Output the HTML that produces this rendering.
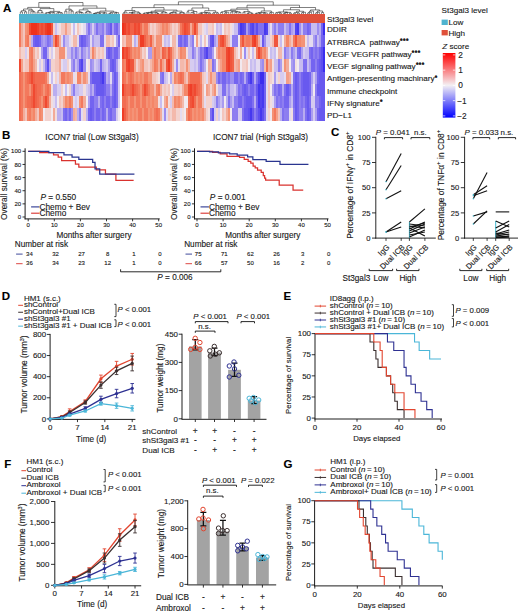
<!DOCTYPE html><html><head><meta charset="utf-8"><style>html,body{margin:0;padding:0;background:#fff;}svg{display:block;} text{stroke:#111;stroke-width:0.12px;paint-order:fill;}</style></head><body><svg width="520" height="613" viewBox="0 0 520 613" font-family='"Liberation Sans", sans-serif'><rect width="520" height="613" fill="#fff"/><g shape-rendering="crispEdges">
<rect x="19.3" y="13.9" width="100.3" height="8.6" fill="#4fb3cf"/>
<rect x="122.0" y="13.9" width="202.6" height="8.6" fill="#e0503a"/>
<rect x="19.30" y="22.50" width="2.05" height="12.30" fill="#f3795d"/>
<rect x="21.31" y="22.50" width="2.05" height="12.30" fill="#f3ac9a"/>
<rect x="23.31" y="22.50" width="2.05" height="12.30" fill="#f3c4bc"/>
<rect x="25.32" y="22.50" width="2.05" height="12.30" fill="#f49276"/>
<rect x="27.32" y="22.50" width="2.05" height="12.30" fill="#f48769"/>
<rect x="29.33" y="22.50" width="2.05" height="12.30" fill="#f04a32"/>
<rect x="31.34" y="22.50" width="2.05" height="12.30" fill="#ee321c"/>
<rect x="33.34" y="22.50" width="2.05" height="12.30" fill="#ee321c"/>
<rect x="35.35" y="22.50" width="2.05" height="12.30" fill="#ee321c"/>
<rect x="37.35" y="22.50" width="2.05" height="12.30" fill="#ef3e27"/>
<rect x="39.36" y="22.50" width="2.05" height="12.30" fill="#f0553c"/>
<rect x="41.37" y="22.50" width="2.05" height="12.30" fill="#f04931"/>
<rect x="43.37" y="22.50" width="2.05" height="12.30" fill="#f0553c"/>
<rect x="45.38" y="22.50" width="2.05" height="12.30" fill="#ef3e27"/>
<rect x="47.38" y="22.50" width="2.05" height="12.30" fill="#ee321c"/>
<rect x="49.39" y="22.50" width="2.05" height="12.30" fill="#ee321c"/>
<rect x="51.40" y="22.50" width="2.05" height="12.30" fill="#f0563d"/>
<rect x="53.40" y="22.50" width="2.05" height="12.30" fill="#f3d1cd"/>
<rect x="55.41" y="22.50" width="2.05" height="12.30" fill="#c8bdf0"/>
<rect x="57.41" y="22.50" width="2.05" height="12.30" fill="#e4dbf0"/>
<rect x="59.42" y="22.50" width="2.05" height="12.30" fill="#f2dedf"/>
<rect x="61.43" y="22.50" width="2.05" height="12.30" fill="#f3c5bd"/>
<rect x="63.43" y="22.50" width="2.05" height="12.30" fill="#f3c4bc"/>
<rect x="65.44" y="22.50" width="2.05" height="12.30" fill="#f49e87"/>
<rect x="67.44" y="22.50" width="2.05" height="12.30" fill="#f3c4bc"/>
<rect x="69.45" y="22.50" width="2.05" height="12.30" fill="#f3c5bd"/>
<rect x="71.46" y="22.50" width="2.05" height="12.30" fill="#f2eaf0"/>
<rect x="73.46" y="22.50" width="2.05" height="12.30" fill="#c8bdf0"/>
<rect x="75.47" y="22.50" width="2.05" height="12.30" fill="#f2eaf0"/>
<rect x="77.47" y="22.50" width="2.05" height="12.30" fill="#f3c5bd"/>
<rect x="79.48" y="22.50" width="2.05" height="12.30" fill="#f2dedf"/>
<rect x="81.49" y="22.50" width="2.05" height="12.30" fill="#f2eaf0"/>
<rect x="83.49" y="22.50" width="2.05" height="12.30" fill="#e4dbf0"/>
<rect x="85.50" y="22.50" width="2.05" height="12.30" fill="#ab9df0"/>
<rect x="87.50" y="22.50" width="2.05" height="12.30" fill="#8070f0"/>
<rect x="89.51" y="22.50" width="2.05" height="12.30" fill="#ab9df0"/>
<rect x="91.52" y="22.50" width="2.05" height="12.30" fill="#d6ccf0"/>
<rect x="93.52" y="22.50" width="2.05" height="12.30" fill="#ab9df0"/>
<rect x="95.53" y="22.50" width="2.05" height="12.30" fill="#8070f0"/>
<rect x="97.53" y="22.50" width="2.05" height="12.30" fill="#9d8ef0"/>
<rect x="99.54" y="22.50" width="2.05" height="12.30" fill="#9d8ef0"/>
<rect x="101.55" y="22.50" width="2.05" height="12.30" fill="#8c7df0"/>
<rect x="103.55" y="22.50" width="2.05" height="12.30" fill="#b8abf0"/>
<rect x="105.56" y="22.50" width="2.05" height="12.30" fill="#8c7df0"/>
<rect x="107.56" y="22.50" width="2.05" height="12.30" fill="#8171f0"/>
<rect x="109.57" y="22.50" width="2.05" height="12.30" fill="#6a5aef"/>
<rect x="111.58" y="22.50" width="2.05" height="12.30" fill="#aa9cf0"/>
<rect x="113.58" y="22.50" width="2.05" height="12.30" fill="#7f6ff0"/>
<rect x="115.59" y="22.50" width="2.05" height="12.30" fill="#7464f0"/>
<rect x="117.59" y="22.50" width="2.05" height="12.30" fill="#9d8ef0"/>
<rect x="122.00" y="22.50" width="2.05" height="12.30" fill="#ee321c"/>
<rect x="124.01" y="22.50" width="2.05" height="12.30" fill="#ef3e27"/>
<rect x="126.01" y="22.50" width="2.05" height="12.30" fill="#f0553c"/>
<rect x="128.02" y="22.50" width="2.05" height="12.30" fill="#f04931"/>
<rect x="130.02" y="22.50" width="2.05" height="12.30" fill="#f16147"/>
<rect x="132.03" y="22.50" width="2.05" height="12.30" fill="#f16147"/>
<rect x="134.04" y="22.50" width="2.05" height="12.30" fill="#f04931"/>
<rect x="136.04" y="22.50" width="2.05" height="12.30" fill="#f0553c"/>
<rect x="138.05" y="22.50" width="2.05" height="12.30" fill="#f04931"/>
<rect x="140.05" y="22.50" width="2.05" height="12.30" fill="#f26d52"/>
<rect x="142.06" y="22.50" width="2.05" height="12.30" fill="#f49377"/>
<rect x="144.07" y="22.50" width="2.05" height="12.30" fill="#f3795d"/>
<rect x="146.07" y="22.50" width="2.05" height="12.30" fill="#f3795d"/>
<rect x="148.08" y="22.50" width="2.05" height="12.30" fill="#f3ac9a"/>
<rect x="150.08" y="22.50" width="2.05" height="12.30" fill="#f3d2ce"/>
<rect x="152.09" y="22.50" width="2.05" height="12.30" fill="#f3c5bd"/>
<rect x="154.10" y="22.50" width="2.05" height="12.30" fill="#f3d2ce"/>
<rect x="156.10" y="22.50" width="2.05" height="12.30" fill="#f3b9ac"/>
<rect x="158.11" y="22.50" width="2.05" height="12.30" fill="#f3ad9c"/>
<rect x="160.11" y="22.50" width="2.05" height="12.30" fill="#f4a089"/>
<rect x="162.12" y="22.50" width="2.05" height="12.30" fill="#f48668"/>
<rect x="164.13" y="22.50" width="2.05" height="12.30" fill="#f49377"/>
<rect x="166.13" y="22.50" width="2.05" height="12.30" fill="#f48668"/>
<rect x="168.14" y="22.50" width="2.05" height="12.30" fill="#f4a089"/>
<rect x="170.14" y="22.50" width="2.05" height="12.30" fill="#f3b9ac"/>
<rect x="172.15" y="22.50" width="2.05" height="12.30" fill="#f3d2ce"/>
<rect x="174.16" y="22.50" width="2.05" height="12.30" fill="#f3c5bd"/>
<rect x="176.16" y="22.50" width="2.05" height="12.30" fill="#f3d2ce"/>
<rect x="178.17" y="22.50" width="2.05" height="12.30" fill="#f3ac9a"/>
<rect x="180.17" y="22.50" width="2.05" height="12.30" fill="#f3795d"/>
<rect x="182.18" y="22.50" width="2.05" height="12.30" fill="#f16147"/>
<rect x="184.19" y="22.50" width="2.05" height="12.30" fill="#f04931"/>
<rect x="186.19" y="22.50" width="2.05" height="12.30" fill="#f0553c"/>
<rect x="188.20" y="22.50" width="2.05" height="12.30" fill="#f16247"/>
<rect x="190.20" y="22.50" width="2.05" height="12.30" fill="#f3ab99"/>
<rect x="192.21" y="22.50" width="2.05" height="12.30" fill="#f3795d"/>
<rect x="194.22" y="22.50" width="2.05" height="12.30" fill="#f04931"/>
<rect x="196.22" y="22.50" width="2.05" height="12.30" fill="#f3795d"/>
<rect x="198.23" y="22.50" width="2.05" height="12.30" fill="#f3c4bc"/>
<rect x="200.23" y="22.50" width="2.05" height="12.30" fill="#f3c5bd"/>
<rect x="202.24" y="22.50" width="2.05" height="12.30" fill="#f2dedf"/>
<rect x="204.25" y="22.50" width="2.05" height="12.30" fill="#e4dbf0"/>
<rect x="206.25" y="22.50" width="2.05" height="12.30" fill="#d6ccf0"/>
<rect x="208.26" y="22.50" width="2.05" height="12.30" fill="#f3d2ce"/>
<rect x="210.26" y="22.50" width="2.05" height="12.30" fill="#f3d2ce"/>
<rect x="212.27" y="22.50" width="2.05" height="12.30" fill="#f3c5bd"/>
<rect x="214.28" y="22.50" width="2.05" height="12.30" fill="#f2eaf0"/>
<rect x="216.28" y="22.50" width="2.05" height="12.30" fill="#c8bdf0"/>
<rect x="218.29" y="22.50" width="2.05" height="12.30" fill="#d6ccf0"/>
<rect x="220.29" y="22.50" width="2.05" height="12.30" fill="#c8bdf0"/>
<rect x="222.30" y="22.50" width="2.05" height="12.30" fill="#f2eaf0"/>
<rect x="224.31" y="22.50" width="2.05" height="12.30" fill="#f3c5bd"/>
<rect x="226.31" y="22.50" width="2.05" height="12.30" fill="#f3d2ce"/>
<rect x="228.32" y="22.50" width="2.05" height="12.30" fill="#f3c5bd"/>
<rect x="230.32" y="22.50" width="2.05" height="12.30" fill="#f2dedf"/>
<rect x="232.33" y="22.50" width="2.05" height="12.30" fill="#e4dbf0"/>
<rect x="234.34" y="22.50" width="2.05" height="12.30" fill="#c8bdf0"/>
<rect x="236.34" y="22.50" width="2.05" height="12.30" fill="#c7bcf0"/>
<rect x="238.35" y="22.50" width="2.05" height="12.30" fill="#7464f0"/>
<rect x="240.35" y="22.50" width="2.05" height="12.30" fill="#4638ef"/>
<rect x="242.36" y="22.50" width="2.05" height="12.30" fill="#5243ef"/>
<rect x="244.37" y="22.50" width="2.05" height="12.30" fill="#5e4fef"/>
<rect x="246.37" y="22.50" width="2.05" height="12.30" fill="#aa9cf0"/>
<rect x="248.38" y="22.50" width="2.05" height="12.30" fill="#7f6ff0"/>
<rect x="250.38" y="22.50" width="2.05" height="12.30" fill="#5d4eef"/>
<rect x="252.39" y="22.50" width="2.05" height="12.30" fill="#5244ef"/>
<rect x="254.40" y="22.50" width="2.05" height="12.30" fill="#7666f0"/>
<rect x="256.40" y="22.50" width="2.05" height="12.30" fill="#5e4fef"/>
<rect x="258.41" y="22.50" width="2.05" height="12.30" fill="#8171f0"/>
<rect x="260.41" y="22.50" width="2.05" height="12.30" fill="#8070f0"/>
<rect x="262.42" y="22.50" width="2.05" height="12.30" fill="#8171f0"/>
<rect x="264.43" y="22.50" width="2.05" height="12.30" fill="#4739ef"/>
<rect x="266.43" y="22.50" width="2.05" height="12.30" fill="#5244ef"/>
<rect x="268.44" y="22.50" width="2.05" height="12.30" fill="#c7bcf0"/>
<rect x="270.44" y="22.50" width="2.05" height="12.30" fill="#e4dbf0"/>
<rect x="272.45" y="22.50" width="2.05" height="12.30" fill="#ab9df0"/>
<rect x="274.46" y="22.50" width="2.05" height="12.30" fill="#8c7df0"/>
<rect x="276.46" y="22.50" width="2.05" height="12.30" fill="#b8abf0"/>
<rect x="278.47" y="22.50" width="2.05" height="12.30" fill="#8c7df0"/>
<rect x="280.47" y="22.50" width="2.05" height="12.30" fill="#8e7ef0"/>
<rect x="282.48" y="22.50" width="2.05" height="12.30" fill="#8c7df0"/>
<rect x="284.49" y="22.50" width="2.05" height="12.30" fill="#c7bcf0"/>
<rect x="286.49" y="22.50" width="2.05" height="12.30" fill="#ab9df0"/>
<rect x="288.50" y="22.50" width="2.05" height="12.30" fill="#8070f0"/>
<rect x="290.50" y="22.50" width="2.05" height="12.30" fill="#ab9df0"/>
<rect x="292.51" y="22.50" width="2.05" height="12.30" fill="#b9adf0"/>
<rect x="294.52" y="22.50" width="2.05" height="12.30" fill="#5244ef"/>
<rect x="296.52" y="22.50" width="2.05" height="12.30" fill="#4739ef"/>
<rect x="298.53" y="22.50" width="2.05" height="12.30" fill="#9d8ef0"/>
<rect x="300.53" y="22.50" width="2.05" height="12.30" fill="#c7bcf0"/>
<rect x="302.54" y="22.50" width="2.05" height="12.30" fill="#8c7df0"/>
<rect x="304.55" y="22.50" width="2.05" height="12.30" fill="#8e7ef0"/>
<rect x="306.55" y="22.50" width="2.05" height="12.30" fill="#7464f0"/>
<rect x="308.56" y="22.50" width="2.05" height="12.30" fill="#7f6ff0"/>
<rect x="310.56" y="22.50" width="2.05" height="12.30" fill="#c7bcf0"/>
<rect x="312.57" y="22.50" width="2.05" height="12.30" fill="#c8bdf0"/>
<rect x="314.58" y="22.50" width="2.05" height="12.30" fill="#c7bcf0"/>
<rect x="316.58" y="22.50" width="2.05" height="12.30" fill="#9b8cf0"/>
<rect x="318.59" y="22.50" width="2.05" height="12.30" fill="#b8abf0"/>
<rect x="320.59" y="22.50" width="2.05" height="12.30" fill="#7464f0"/>
<rect x="322.60" y="22.50" width="2.05" height="12.30" fill="#3b2dee"/>
<rect x="19.30" y="34.75" width="2.05" height="12.30" fill="#f3795d"/>
<rect x="21.31" y="34.75" width="2.05" height="12.30" fill="#f3ac9a"/>
<rect x="23.31" y="34.75" width="2.05" height="12.30" fill="#f3c4bc"/>
<rect x="25.32" y="34.75" width="2.05" height="12.30" fill="#f48567"/>
<rect x="27.32" y="34.75" width="2.05" height="12.30" fill="#f3795d"/>
<rect x="29.33" y="34.75" width="2.05" height="12.30" fill="#f3b8ab"/>
<rect x="31.34" y="34.75" width="2.05" height="12.30" fill="#b9adf0"/>
<rect x="33.34" y="34.75" width="2.05" height="12.30" fill="#7464f0"/>
<rect x="35.35" y="34.75" width="2.05" height="12.30" fill="#6859ef"/>
<rect x="37.35" y="34.75" width="2.05" height="12.30" fill="#6859ef"/>
<rect x="39.36" y="34.75" width="2.05" height="12.30" fill="#7464f0"/>
<rect x="41.37" y="34.75" width="2.05" height="12.30" fill="#9d8ef0"/>
<rect x="43.37" y="34.75" width="2.05" height="12.30" fill="#ac9ff0"/>
<rect x="45.38" y="34.75" width="2.05" height="12.30" fill="#9d8ef0"/>
<rect x="47.38" y="34.75" width="2.05" height="12.30" fill="#8070f0"/>
<rect x="49.39" y="34.75" width="2.05" height="12.30" fill="#8e7ef0"/>
<rect x="51.40" y="34.75" width="2.05" height="12.30" fill="#aa9cf0"/>
<rect x="53.40" y="34.75" width="2.05" height="12.30" fill="#f49276"/>
<rect x="55.41" y="34.75" width="2.05" height="12.30" fill="#f04931"/>
<rect x="57.41" y="34.75" width="2.05" height="12.30" fill="#f26d52"/>
<rect x="59.42" y="34.75" width="2.05" height="12.30" fill="#f3ac9a"/>
<rect x="61.43" y="34.75" width="2.05" height="12.30" fill="#e3daf0"/>
<rect x="63.43" y="34.75" width="2.05" height="12.30" fill="#9b8cf0"/>
<rect x="65.44" y="34.75" width="2.05" height="12.30" fill="#c7bcf0"/>
<rect x="67.44" y="34.75" width="2.05" height="12.30" fill="#c8bdf0"/>
<rect x="69.45" y="34.75" width="2.05" height="12.30" fill="#e4dbf0"/>
<rect x="71.46" y="34.75" width="2.05" height="12.30" fill="#f2dedf"/>
<rect x="73.46" y="34.75" width="2.05" height="12.30" fill="#f3b9ac"/>
<rect x="75.47" y="34.75" width="2.05" height="12.30" fill="#f3b9ac"/>
<rect x="77.47" y="34.75" width="2.05" height="12.30" fill="#e3daf0"/>
<rect x="79.48" y="34.75" width="2.05" height="12.30" fill="#7f6ff0"/>
<rect x="81.49" y="34.75" width="2.05" height="12.30" fill="#6859ef"/>
<rect x="83.49" y="34.75" width="2.05" height="12.30" fill="#7464f0"/>
<rect x="85.50" y="34.75" width="2.05" height="12.30" fill="#8e7ef0"/>
<rect x="87.50" y="34.75" width="2.05" height="12.30" fill="#9b8cf0"/>
<rect x="89.51" y="34.75" width="2.05" height="12.30" fill="#e2d9f0"/>
<rect x="91.52" y="34.75" width="2.05" height="12.30" fill="#a99bf0"/>
<rect x="93.52" y="34.75" width="2.05" height="12.30" fill="#c7bcf0"/>
<rect x="95.53" y="34.75" width="2.05" height="12.30" fill="#c8bdf0"/>
<rect x="97.53" y="34.75" width="2.05" height="12.30" fill="#c7bcf0"/>
<rect x="99.54" y="34.75" width="2.05" height="12.30" fill="#7f6ff0"/>
<rect x="101.55" y="34.75" width="2.05" height="12.30" fill="#7f6ff0"/>
<rect x="103.55" y="34.75" width="2.05" height="12.30" fill="#e3daf0"/>
<rect x="105.56" y="34.75" width="2.05" height="12.30" fill="#f3b9ac"/>
<rect x="107.56" y="34.75" width="2.05" height="12.30" fill="#f3b9ac"/>
<rect x="109.57" y="34.75" width="2.05" height="12.30" fill="#f3d2ce"/>
<rect x="111.58" y="34.75" width="2.05" height="12.30" fill="#f3c5bd"/>
<rect x="113.58" y="34.75" width="2.05" height="12.30" fill="#f2eaf0"/>
<rect x="115.59" y="34.75" width="2.05" height="12.30" fill="#ab9df0"/>
<rect x="117.59" y="34.75" width="2.05" height="12.30" fill="#7464f0"/>
<rect x="122.00" y="34.75" width="2.05" height="12.30" fill="#f3b9ac"/>
<rect x="124.01" y="34.75" width="2.05" height="12.30" fill="#f3c4bc"/>
<rect x="126.01" y="34.75" width="2.05" height="12.30" fill="#f49276"/>
<rect x="128.02" y="34.75" width="2.05" height="12.30" fill="#f49377"/>
<rect x="130.02" y="34.75" width="2.05" height="12.30" fill="#f49276"/>
<rect x="132.03" y="34.75" width="2.05" height="12.30" fill="#f2ddde"/>
<rect x="134.04" y="34.75" width="2.05" height="12.30" fill="#baaef0"/>
<rect x="136.04" y="34.75" width="2.05" height="12.30" fill="#d7cdf0"/>
<rect x="138.05" y="34.75" width="2.05" height="12.30" fill="#f48567"/>
<rect x="140.05" y="34.75" width="2.05" height="12.30" fill="#ef3e27"/>
<rect x="142.06" y="34.75" width="2.05" height="12.30" fill="#ef3e27"/>
<rect x="144.07" y="34.75" width="2.05" height="12.30" fill="#f16147"/>
<rect x="146.07" y="34.75" width="2.05" height="12.30" fill="#f3795d"/>
<rect x="148.08" y="34.75" width="2.05" height="12.30" fill="#f48769"/>
<rect x="150.08" y="34.75" width="2.05" height="12.30" fill="#f16348"/>
<rect x="152.09" y="34.75" width="2.05" height="12.30" fill="#f4a089"/>
<rect x="154.10" y="34.75" width="2.05" height="12.30" fill="#f3c4bc"/>
<rect x="156.10" y="34.75" width="2.05" height="12.30" fill="#f49276"/>
<rect x="158.11" y="34.75" width="2.05" height="12.30" fill="#f49377"/>
<rect x="160.11" y="34.75" width="2.05" height="12.30" fill="#f49276"/>
<rect x="162.12" y="34.75" width="2.05" height="12.30" fill="#f2ddde"/>
<rect x="164.13" y="34.75" width="2.05" height="12.30" fill="#c8bdf0"/>
<rect x="166.13" y="34.75" width="2.05" height="12.30" fill="#d6ccf0"/>
<rect x="168.14" y="34.75" width="2.05" height="12.30" fill="#c8bdf0"/>
<rect x="170.14" y="34.75" width="2.05" height="12.30" fill="#f2eaf0"/>
<rect x="172.15" y="34.75" width="2.05" height="12.30" fill="#f3b9ac"/>
<rect x="174.16" y="34.75" width="2.05" height="12.30" fill="#f3b9ac"/>
<rect x="176.16" y="34.75" width="2.05" height="12.30" fill="#e3daf0"/>
<rect x="178.17" y="34.75" width="2.05" height="12.30" fill="#7f6ff0"/>
<rect x="180.17" y="34.75" width="2.05" height="12.30" fill="#7464f0"/>
<rect x="182.18" y="34.75" width="2.05" height="12.30" fill="#8e7ef0"/>
<rect x="184.19" y="34.75" width="2.05" height="12.30" fill="#7464f0"/>
<rect x="186.19" y="34.75" width="2.05" height="12.30" fill="#7f6ff0"/>
<rect x="188.20" y="34.75" width="2.05" height="12.30" fill="#c7bcf0"/>
<rect x="190.20" y="34.75" width="2.05" height="12.30" fill="#ab9df0"/>
<rect x="192.21" y="34.75" width="2.05" height="12.30" fill="#8c7df0"/>
<rect x="194.22" y="34.75" width="2.05" height="12.30" fill="#f2eaf0"/>
<rect x="196.22" y="34.75" width="2.05" height="12.30" fill="#f49e87"/>
<rect x="198.23" y="34.75" width="2.05" height="12.30" fill="#f2ddde"/>
<rect x="200.23" y="34.75" width="2.05" height="12.30" fill="#c8bdf0"/>
<rect x="202.24" y="34.75" width="2.05" height="12.30" fill="#f2eaf0"/>
<rect x="204.25" y="34.75" width="2.05" height="12.30" fill="#f3c5bd"/>
<rect x="206.25" y="34.75" width="2.05" height="12.30" fill="#f2eaf0"/>
<rect x="208.26" y="34.75" width="2.05" height="12.30" fill="#ab9df0"/>
<rect x="210.26" y="34.75" width="2.05" height="12.30" fill="#6959ef"/>
<rect x="212.27" y="34.75" width="2.05" height="12.30" fill="#5e4fef"/>
<rect x="214.28" y="34.75" width="2.05" height="12.30" fill="#aa9cf0"/>
<rect x="216.28" y="34.75" width="2.05" height="12.30" fill="#c6baf0"/>
<rect x="218.29" y="34.75" width="2.05" height="12.30" fill="#f37a5e"/>
<rect x="220.29" y="34.75" width="2.05" height="12.30" fill="#f0553c"/>
<rect x="222.30" y="34.75" width="2.05" height="12.30" fill="#f04931"/>
<rect x="224.31" y="34.75" width="2.05" height="12.30" fill="#f26d52"/>
<rect x="226.31" y="34.75" width="2.05" height="12.30" fill="#f4a089"/>
<rect x="228.32" y="34.75" width="2.05" height="12.30" fill="#f3b9ac"/>
<rect x="230.32" y="34.75" width="2.05" height="12.30" fill="#e3daf0"/>
<rect x="232.33" y="34.75" width="2.05" height="12.30" fill="#8c7df0"/>
<rect x="234.34" y="34.75" width="2.05" height="12.30" fill="#8e7ef0"/>
<rect x="236.34" y="34.75" width="2.05" height="12.30" fill="#8c7df0"/>
<rect x="238.35" y="34.75" width="2.05" height="12.30" fill="#f2eaf0"/>
<rect x="240.35" y="34.75" width="2.05" height="12.30" fill="#f3795d"/>
<rect x="242.36" y="34.75" width="2.05" height="12.30" fill="#f0563d"/>
<rect x="244.37" y="34.75" width="2.05" height="12.30" fill="#f48769"/>
<rect x="246.37" y="34.75" width="2.05" height="12.30" fill="#f3795d"/>
<rect x="248.38" y="34.75" width="2.05" height="12.30" fill="#f3795d"/>
<rect x="250.38" y="34.75" width="2.05" height="12.30" fill="#f48769"/>
<rect x="252.39" y="34.75" width="2.05" height="12.30" fill="#f04a32"/>
<rect x="254.40" y="34.75" width="2.05" height="12.30" fill="#ef3e27"/>
<rect x="256.40" y="34.75" width="2.05" height="12.30" fill="#f26d52"/>
<rect x="258.41" y="34.75" width="2.05" height="12.30" fill="#f3ac9a"/>
<rect x="260.41" y="34.75" width="2.05" height="12.30" fill="#d5cbf0"/>
<rect x="262.42" y="34.75" width="2.05" height="12.30" fill="#6a5aef"/>
<rect x="264.43" y="34.75" width="2.05" height="12.30" fill="#9d8ef0"/>
<rect x="266.43" y="34.75" width="2.05" height="12.30" fill="#d6ccf0"/>
<rect x="268.44" y="34.75" width="2.05" height="12.30" fill="#d6ccf0"/>
<rect x="270.44" y="34.75" width="2.05" height="12.30" fill="#f3d2ce"/>
<rect x="272.45" y="34.75" width="2.05" height="12.30" fill="#f3b8ab"/>
<rect x="274.46" y="34.75" width="2.05" height="12.30" fill="#f0563d"/>
<rect x="276.46" y="34.75" width="2.05" height="12.30" fill="#f0563d"/>
<rect x="278.47" y="34.75" width="2.05" height="12.30" fill="#f3d1cd"/>
<rect x="280.47" y="34.75" width="2.05" height="12.30" fill="#c8bdf0"/>
<rect x="282.48" y="34.75" width="2.05" height="12.30" fill="#f2eaf0"/>
<rect x="284.49" y="34.75" width="2.05" height="12.30" fill="#f3ac9a"/>
<rect x="286.49" y="34.75" width="2.05" height="12.30" fill="#f48668"/>
<rect x="288.50" y="34.75" width="2.05" height="12.30" fill="#f3ac9a"/>
<rect x="290.50" y="34.75" width="2.05" height="12.30" fill="#f3c4bc"/>
<rect x="292.51" y="34.75" width="2.05" height="12.30" fill="#f3795d"/>
<rect x="294.52" y="34.75" width="2.05" height="12.30" fill="#f0563d"/>
<rect x="296.52" y="34.75" width="2.05" height="12.30" fill="#f48769"/>
<rect x="298.53" y="34.75" width="2.05" height="12.30" fill="#f48668"/>
<rect x="300.53" y="34.75" width="2.05" height="12.30" fill="#f49377"/>
<rect x="302.54" y="34.75" width="2.05" height="12.30" fill="#f49276"/>
<rect x="304.55" y="34.75" width="2.05" height="12.30" fill="#f2ddde"/>
<rect x="306.55" y="34.75" width="2.05" height="12.30" fill="#c8bdf0"/>
<rect x="308.56" y="34.75" width="2.05" height="12.30" fill="#e4dbf0"/>
<rect x="310.56" y="34.75" width="2.05" height="12.30" fill="#e4dbf0"/>
<rect x="312.57" y="34.75" width="2.05" height="12.30" fill="#ab9df0"/>
<rect x="314.58" y="34.75" width="2.05" height="12.30" fill="#8c7df0"/>
<rect x="316.58" y="34.75" width="2.05" height="12.30" fill="#c7bcf0"/>
<rect x="318.59" y="34.75" width="2.05" height="12.30" fill="#ab9df0"/>
<rect x="320.59" y="34.75" width="2.05" height="12.30" fill="#7464f0"/>
<rect x="322.60" y="34.75" width="2.05" height="12.30" fill="#6859ef"/>
<rect x="19.30" y="47.00" width="2.05" height="12.30" fill="#f3b9ac"/>
<rect x="21.31" y="47.00" width="2.05" height="12.30" fill="#f3d2ce"/>
<rect x="23.31" y="47.00" width="2.05" height="12.30" fill="#f3d2ce"/>
<rect x="25.32" y="47.00" width="2.05" height="12.30" fill="#d6ccf0"/>
<rect x="27.32" y="47.00" width="2.05" height="12.30" fill="#f2ddde"/>
<rect x="29.33" y="47.00" width="2.05" height="12.30" fill="#f48567"/>
<rect x="31.34" y="47.00" width="2.05" height="12.30" fill="#f3795d"/>
<rect x="33.34" y="47.00" width="2.05" height="12.30" fill="#f3ac9a"/>
<rect x="35.35" y="47.00" width="2.05" height="12.30" fill="#f3d2ce"/>
<rect x="37.35" y="47.00" width="2.05" height="12.30" fill="#f3c5bd"/>
<rect x="39.36" y="47.00" width="2.05" height="12.30" fill="#f2eaf0"/>
<rect x="41.37" y="47.00" width="2.05" height="12.30" fill="#ab9df0"/>
<rect x="43.37" y="47.00" width="2.05" height="12.30" fill="#7464f0"/>
<rect x="45.38" y="47.00" width="2.05" height="12.30" fill="#7464f0"/>
<rect x="47.38" y="47.00" width="2.05" height="12.30" fill="#b9adf0"/>
<rect x="49.39" y="47.00" width="2.05" height="12.30" fill="#f2dedf"/>
<rect x="51.40" y="47.00" width="2.05" height="12.30" fill="#d6ccf0"/>
<rect x="53.40" y="47.00" width="2.05" height="12.30" fill="#f2eaf0"/>
<rect x="55.41" y="47.00" width="2.05" height="12.30" fill="#f3c5bd"/>
<rect x="57.41" y="47.00" width="2.05" height="12.30" fill="#f3c4bc"/>
<rect x="59.42" y="47.00" width="2.05" height="12.30" fill="#f49276"/>
<rect x="61.43" y="47.00" width="2.05" height="12.30" fill="#f49377"/>
<rect x="63.43" y="47.00" width="2.05" height="12.30" fill="#f49276"/>
<rect x="65.44" y="47.00" width="2.05" height="12.30" fill="#f2ddde"/>
<rect x="67.44" y="47.00" width="2.05" height="12.30" fill="#c8bdf0"/>
<rect x="69.45" y="47.00" width="2.05" height="12.30" fill="#c7bcf0"/>
<rect x="71.46" y="47.00" width="2.05" height="12.30" fill="#9b8cf0"/>
<rect x="73.46" y="47.00" width="2.05" height="12.30" fill="#b8abf0"/>
<rect x="75.47" y="47.00" width="2.05" height="12.30" fill="#8c7df0"/>
<rect x="77.47" y="47.00" width="2.05" height="12.30" fill="#ab9df0"/>
<rect x="79.48" y="47.00" width="2.05" height="12.30" fill="#c7bcf0"/>
<rect x="81.49" y="47.00" width="2.05" height="12.30" fill="#8c7df0"/>
<rect x="83.49" y="47.00" width="2.05" height="12.30" fill="#ab9df0"/>
<rect x="85.50" y="47.00" width="2.05" height="12.30" fill="#c7bcf0"/>
<rect x="87.50" y="47.00" width="2.05" height="12.30" fill="#a99bf0"/>
<rect x="89.51" y="47.00" width="2.05" height="12.30" fill="#f3c5bd"/>
<rect x="91.52" y="47.00" width="2.05" height="12.30" fill="#f48668"/>
<rect x="93.52" y="47.00" width="2.05" height="12.30" fill="#f3ac9a"/>
<rect x="95.53" y="47.00" width="2.05" height="12.30" fill="#f3d2ce"/>
<rect x="97.53" y="47.00" width="2.05" height="12.30" fill="#f3c5bd"/>
<rect x="99.54" y="47.00" width="2.05" height="12.30" fill="#f3d2ce"/>
<rect x="101.55" y="47.00" width="2.05" height="12.30" fill="#f3c5bd"/>
<rect x="103.55" y="47.00" width="2.05" height="12.30" fill="#e3daf0"/>
<rect x="105.56" y="47.00" width="2.05" height="12.30" fill="#7f6ff0"/>
<rect x="107.56" y="47.00" width="2.05" height="12.30" fill="#6859ef"/>
<rect x="109.57" y="47.00" width="2.05" height="12.30" fill="#7464f0"/>
<rect x="111.58" y="47.00" width="2.05" height="12.30" fill="#8e7ef0"/>
<rect x="113.58" y="47.00" width="2.05" height="12.30" fill="#7464f0"/>
<rect x="115.59" y="47.00" width="2.05" height="12.30" fill="#7464f0"/>
<rect x="117.59" y="47.00" width="2.05" height="12.30" fill="#9d8ef0"/>
<rect x="122.00" y="47.00" width="2.05" height="12.30" fill="#ef3e27"/>
<rect x="124.01" y="47.00" width="2.05" height="12.30" fill="#f0553c"/>
<rect x="126.01" y="47.00" width="2.05" height="12.30" fill="#f04931"/>
<rect x="128.02" y="47.00" width="2.05" height="12.30" fill="#f16147"/>
<rect x="130.02" y="47.00" width="2.05" height="12.30" fill="#f3795d"/>
<rect x="132.03" y="47.00" width="2.05" height="12.30" fill="#f49377"/>
<rect x="134.04" y="47.00" width="2.05" height="12.30" fill="#f48668"/>
<rect x="136.04" y="47.00" width="2.05" height="12.30" fill="#f49377"/>
<rect x="138.05" y="47.00" width="2.05" height="12.30" fill="#f48668"/>
<rect x="140.05" y="47.00" width="2.05" height="12.30" fill="#f3ac9a"/>
<rect x="142.06" y="47.00" width="2.05" height="12.30" fill="#f3d2ce"/>
<rect x="144.07" y="47.00" width="2.05" height="12.30" fill="#f3c5bd"/>
<rect x="146.07" y="47.00" width="2.05" height="12.30" fill="#f2eaf0"/>
<rect x="148.08" y="47.00" width="2.05" height="12.30" fill="#ab9df0"/>
<rect x="150.08" y="47.00" width="2.05" height="12.30" fill="#aa9cf0"/>
<rect x="152.09" y="47.00" width="2.05" height="12.30" fill="#f49e87"/>
<rect x="154.10" y="47.00" width="2.05" height="12.30" fill="#f3795d"/>
<rect x="156.10" y="47.00" width="2.05" height="12.30" fill="#f49377"/>
<rect x="158.11" y="47.00" width="2.05" height="12.30" fill="#f49276"/>
<rect x="160.11" y="47.00" width="2.05" height="12.30" fill="#f3ab99"/>
<rect x="162.12" y="47.00" width="2.05" height="12.30" fill="#f16247"/>
<rect x="164.13" y="47.00" width="2.05" height="12.30" fill="#f26d52"/>
<rect x="166.13" y="47.00" width="2.05" height="12.30" fill="#f48769"/>
<rect x="168.14" y="47.00" width="2.05" height="12.30" fill="#f0563d"/>
<rect x="170.14" y="47.00" width="2.05" height="12.30" fill="#f26d52"/>
<rect x="172.15" y="47.00" width="2.05" height="12.30" fill="#f4a089"/>
<rect x="174.16" y="47.00" width="2.05" height="12.30" fill="#f3b9ac"/>
<rect x="176.16" y="47.00" width="2.05" height="12.30" fill="#f3d2ce"/>
<rect x="178.17" y="47.00" width="2.05" height="12.30" fill="#f3ac9a"/>
<rect x="180.17" y="47.00" width="2.05" height="12.30" fill="#f48668"/>
<rect x="182.18" y="47.00" width="2.05" height="12.30" fill="#f49377"/>
<rect x="184.19" y="47.00" width="2.05" height="12.30" fill="#f49276"/>
<rect x="186.19" y="47.00" width="2.05" height="12.30" fill="#f2ddde"/>
<rect x="188.20" y="47.00" width="2.05" height="12.30" fill="#c8bdf0"/>
<rect x="190.20" y="47.00" width="2.05" height="12.30" fill="#c7bcf0"/>
<rect x="192.21" y="47.00" width="2.05" height="12.30" fill="#8c7df0"/>
<rect x="194.22" y="47.00" width="2.05" height="12.30" fill="#ab9df0"/>
<rect x="196.22" y="47.00" width="2.05" height="12.30" fill="#d6ccf0"/>
<rect x="198.23" y="47.00" width="2.05" height="12.30" fill="#ab9df0"/>
<rect x="200.23" y="47.00" width="2.05" height="12.30" fill="#8070f0"/>
<rect x="202.24" y="47.00" width="2.05" height="12.30" fill="#8e7ef0"/>
<rect x="204.25" y="47.00" width="2.05" height="12.30" fill="#6959ef"/>
<rect x="206.25" y="47.00" width="2.05" height="12.30" fill="#5244ef"/>
<rect x="208.26" y="47.00" width="2.05" height="12.30" fill="#8171f0"/>
<rect x="210.26" y="47.00" width="2.05" height="12.30" fill="#8070f0"/>
<rect x="212.27" y="47.00" width="2.05" height="12.30" fill="#ab9df0"/>
<rect x="214.28" y="47.00" width="2.05" height="12.30" fill="#f2eaf0"/>
<rect x="216.28" y="47.00" width="2.05" height="12.30" fill="#f3ac9a"/>
<rect x="218.29" y="47.00" width="2.05" height="12.30" fill="#f48668"/>
<rect x="220.29" y="47.00" width="2.05" height="12.30" fill="#f49377"/>
<rect x="222.30" y="47.00" width="2.05" height="12.30" fill="#f48668"/>
<rect x="224.31" y="47.00" width="2.05" height="12.30" fill="#f48769"/>
<rect x="226.31" y="47.00" width="2.05" height="12.30" fill="#f04a32"/>
<rect x="228.32" y="47.00" width="2.05" height="12.30" fill="#ef3e27"/>
<rect x="230.32" y="47.00" width="2.05" height="12.30" fill="#f0553c"/>
<rect x="232.33" y="47.00" width="2.05" height="12.30" fill="#f16247"/>
<rect x="234.34" y="47.00" width="2.05" height="12.30" fill="#f3b8ab"/>
<rect x="236.34" y="47.00" width="2.05" height="12.30" fill="#f3d2ce"/>
<rect x="238.35" y="47.00" width="2.05" height="12.30" fill="#f2e9ef"/>
<rect x="240.35" y="47.00" width="2.05" height="12.30" fill="#f3aa98"/>
<rect x="242.36" y="47.00" width="2.05" height="12.30" fill="#f2eaf0"/>
<rect x="244.37" y="47.00" width="2.05" height="12.30" fill="#9b8cf0"/>
<rect x="246.37" y="47.00" width="2.05" height="12.30" fill="#e3daf0"/>
<rect x="248.38" y="47.00" width="2.05" height="12.30" fill="#f3c5bd"/>
<rect x="250.38" y="47.00" width="2.05" height="12.30" fill="#f2eaf0"/>
<rect x="252.39" y="47.00" width="2.05" height="12.30" fill="#c8bdf0"/>
<rect x="254.40" y="47.00" width="2.05" height="12.30" fill="#f2ddde"/>
<rect x="256.40" y="47.00" width="2.05" height="12.30" fill="#f3795d"/>
<rect x="258.41" y="47.00" width="2.05" height="12.30" fill="#f04931"/>
<rect x="260.41" y="47.00" width="2.05" height="12.30" fill="#f26d52"/>
<rect x="262.42" y="47.00" width="2.05" height="12.30" fill="#f49377"/>
<rect x="264.43" y="47.00" width="2.05" height="12.30" fill="#f48668"/>
<rect x="266.43" y="47.00" width="2.05" height="12.30" fill="#f3ac9a"/>
<rect x="268.44" y="47.00" width="2.05" height="12.30" fill="#f2eaf0"/>
<rect x="270.44" y="47.00" width="2.05" height="12.30" fill="#c8bdf0"/>
<rect x="272.45" y="47.00" width="2.05" height="12.30" fill="#d6ccf0"/>
<rect x="274.46" y="47.00" width="2.05" height="12.30" fill="#c8bdf0"/>
<rect x="276.46" y="47.00" width="2.05" height="12.30" fill="#f2eaf0"/>
<rect x="278.47" y="47.00" width="2.05" height="12.30" fill="#f3b9ac"/>
<rect x="280.47" y="47.00" width="2.05" height="12.30" fill="#f3b9ac"/>
<rect x="282.48" y="47.00" width="2.05" height="12.30" fill="#e3daf0"/>
<rect x="284.49" y="47.00" width="2.05" height="12.30" fill="#8c7df0"/>
<rect x="286.49" y="47.00" width="2.05" height="12.30" fill="#ab9df0"/>
<rect x="288.50" y="47.00" width="2.05" height="12.30" fill="#c7bcf0"/>
<rect x="290.50" y="47.00" width="2.05" height="12.30" fill="#8c7df0"/>
<rect x="292.51" y="47.00" width="2.05" height="12.30" fill="#ab9df0"/>
<rect x="294.52" y="47.00" width="2.05" height="12.30" fill="#c7bcf0"/>
<rect x="296.52" y="47.00" width="2.05" height="12.30" fill="#7f6ff0"/>
<rect x="298.53" y="47.00" width="2.05" height="12.30" fill="#7464f0"/>
<rect x="300.53" y="47.00" width="2.05" height="12.30" fill="#ab9df0"/>
<rect x="302.54" y="47.00" width="2.05" height="12.30" fill="#d6ccf0"/>
<rect x="304.55" y="47.00" width="2.05" height="12.30" fill="#c8bdf0"/>
<rect x="306.55" y="47.00" width="2.05" height="12.30" fill="#c7bcf0"/>
<rect x="308.56" y="47.00" width="2.05" height="12.30" fill="#7f6ff0"/>
<rect x="310.56" y="47.00" width="2.05" height="12.30" fill="#7464f0"/>
<rect x="312.57" y="47.00" width="2.05" height="12.30" fill="#8e7ef0"/>
<rect x="314.58" y="47.00" width="2.05" height="12.30" fill="#8070f0"/>
<rect x="316.58" y="47.00" width="2.05" height="12.30" fill="#8e7ef0"/>
<rect x="318.59" y="47.00" width="2.05" height="12.30" fill="#7464f0"/>
<rect x="320.59" y="47.00" width="2.05" height="12.30" fill="#5d4eef"/>
<rect x="322.60" y="47.00" width="2.05" height="12.30" fill="#3b2dee"/>
<rect x="19.30" y="59.25" width="2.05" height="12.30" fill="#f04a32"/>
<rect x="21.31" y="59.25" width="2.05" height="12.30" fill="#f4a089"/>
<rect x="23.31" y="59.25" width="2.05" height="12.30" fill="#f3d2ce"/>
<rect x="25.32" y="59.25" width="2.05" height="12.30" fill="#f3c5bd"/>
<rect x="27.32" y="59.25" width="2.05" height="12.30" fill="#f3c4bc"/>
<rect x="29.33" y="59.25" width="2.05" height="12.30" fill="#f48567"/>
<rect x="31.34" y="59.25" width="2.05" height="12.30" fill="#f3795d"/>
<rect x="33.34" y="59.25" width="2.05" height="12.30" fill="#f4a089"/>
<rect x="35.35" y="59.25" width="2.05" height="12.30" fill="#f3b9ac"/>
<rect x="37.35" y="59.25" width="2.05" height="12.30" fill="#f2eaf0"/>
<rect x="39.36" y="59.25" width="2.05" height="12.30" fill="#d6ccf0"/>
<rect x="41.37" y="59.25" width="2.05" height="12.30" fill="#f2dedf"/>
<rect x="43.37" y="59.25" width="2.05" height="12.30" fill="#c8bdf0"/>
<rect x="45.38" y="59.25" width="2.05" height="12.30" fill="#8f7ff0"/>
<rect x="47.38" y="59.25" width="2.05" height="12.30" fill="#5e4fef"/>
<rect x="49.39" y="59.25" width="2.05" height="12.30" fill="#ab9df0"/>
<rect x="51.40" y="59.25" width="2.05" height="12.30" fill="#f3d2ce"/>
<rect x="53.40" y="59.25" width="2.05" height="12.30" fill="#f3d2ce"/>
<rect x="55.41" y="59.25" width="2.05" height="12.30" fill="#f3c5bd"/>
<rect x="57.41" y="59.25" width="2.05" height="12.30" fill="#f3c4bc"/>
<rect x="59.42" y="59.25" width="2.05" height="12.30" fill="#f3aa98"/>
<rect x="61.43" y="59.25" width="2.05" height="12.30" fill="#e5dcf0"/>
<rect x="63.43" y="59.25" width="2.05" height="12.30" fill="#d6ccf0"/>
<rect x="65.44" y="59.25" width="2.05" height="12.30" fill="#d6ccf0"/>
<rect x="67.44" y="59.25" width="2.05" height="12.30" fill="#f3d2ce"/>
<rect x="69.45" y="59.25" width="2.05" height="12.30" fill="#f2eaf0"/>
<rect x="71.46" y="59.25" width="2.05" height="12.30" fill="#ab9df0"/>
<rect x="73.46" y="59.25" width="2.05" height="12.30" fill="#8c7df0"/>
<rect x="75.47" y="59.25" width="2.05" height="12.30" fill="#c7bcf0"/>
<rect x="77.47" y="59.25" width="2.05" height="12.30" fill="#ab9df0"/>
<rect x="79.48" y="59.25" width="2.05" height="12.30" fill="#6959ef"/>
<rect x="81.49" y="59.25" width="2.05" height="12.30" fill="#5244ef"/>
<rect x="83.49" y="59.25" width="2.05" height="12.30" fill="#9d8ef0"/>
<rect x="85.50" y="59.25" width="2.05" height="12.30" fill="#f2eaf0"/>
<rect x="87.50" y="59.25" width="2.05" height="12.30" fill="#f2dfe0"/>
<rect x="89.51" y="59.25" width="2.05" height="12.30" fill="#9b8cf0"/>
<rect x="91.52" y="59.25" width="2.05" height="12.30" fill="#ab9df0"/>
<rect x="93.52" y="59.25" width="2.05" height="12.30" fill="#d6ccf0"/>
<rect x="95.53" y="59.25" width="2.05" height="12.30" fill="#c8bdf0"/>
<rect x="97.53" y="59.25" width="2.05" height="12.30" fill="#b9adf0"/>
<rect x="99.54" y="59.25" width="2.05" height="12.30" fill="#7565f0"/>
<rect x="101.55" y="59.25" width="2.05" height="12.30" fill="#b9adf0"/>
<rect x="103.55" y="59.25" width="2.05" height="12.30" fill="#c8bdf0"/>
<rect x="105.56" y="59.25" width="2.05" height="12.30" fill="#d6ccf0"/>
<rect x="107.56" y="59.25" width="2.05" height="12.30" fill="#ab9df0"/>
<rect x="109.57" y="59.25" width="2.05" height="12.30" fill="#7464f0"/>
<rect x="111.58" y="59.25" width="2.05" height="12.30" fill="#6859ef"/>
<rect x="113.58" y="59.25" width="2.05" height="12.30" fill="#7464f0"/>
<rect x="115.59" y="59.25" width="2.05" height="12.30" fill="#ab9df0"/>
<rect x="117.59" y="59.25" width="2.05" height="12.30" fill="#e4dbf0"/>
<rect x="122.00" y="59.25" width="2.05" height="12.30" fill="#f3795d"/>
<rect x="124.01" y="59.25" width="2.05" height="12.30" fill="#f48769"/>
<rect x="126.01" y="59.25" width="2.05" height="12.30" fill="#f04a32"/>
<rect x="128.02" y="59.25" width="2.05" height="12.30" fill="#ef3e27"/>
<rect x="130.02" y="59.25" width="2.05" height="12.30" fill="#f0553c"/>
<rect x="132.03" y="59.25" width="2.05" height="12.30" fill="#f0563d"/>
<rect x="134.04" y="59.25" width="2.05" height="12.30" fill="#f4a089"/>
<rect x="136.04" y="59.25" width="2.05" height="12.30" fill="#f3d2ce"/>
<rect x="138.05" y="59.25" width="2.05" height="12.30" fill="#f3b9ac"/>
<rect x="140.05" y="59.25" width="2.05" height="12.30" fill="#f4a089"/>
<rect x="142.06" y="59.25" width="2.05" height="12.30" fill="#f49276"/>
<rect x="144.07" y="59.25" width="2.05" height="12.30" fill="#f3c4bc"/>
<rect x="146.07" y="59.25" width="2.05" height="12.30" fill="#f3c5bd"/>
<rect x="148.08" y="59.25" width="2.05" height="12.30" fill="#f3d2ce"/>
<rect x="150.08" y="59.25" width="2.05" height="12.30" fill="#f3b9ac"/>
<rect x="152.09" y="59.25" width="2.05" height="12.30" fill="#f4a089"/>
<rect x="154.10" y="59.25" width="2.05" height="12.30" fill="#f3795d"/>
<rect x="156.10" y="59.25" width="2.05" height="12.30" fill="#f48567"/>
<rect x="158.11" y="59.25" width="2.05" height="12.30" fill="#f3ab99"/>
<rect x="160.11" y="59.25" width="2.05" height="12.30" fill="#f26e53"/>
<rect x="162.12" y="59.25" width="2.05" height="12.30" fill="#f4a089"/>
<rect x="164.13" y="59.25" width="2.05" height="12.30" fill="#f3b8ab"/>
<rect x="166.13" y="59.25" width="2.05" height="12.30" fill="#f0563d"/>
<rect x="168.14" y="59.25" width="2.05" height="12.30" fill="#ef3e27"/>
<rect x="170.14" y="59.25" width="2.05" height="12.30" fill="#f26d52"/>
<rect x="172.15" y="59.25" width="2.05" height="12.30" fill="#f3ac9a"/>
<rect x="174.16" y="59.25" width="2.05" height="12.30" fill="#e3daf0"/>
<rect x="176.16" y="59.25" width="2.05" height="12.30" fill="#9b8cf0"/>
<rect x="178.17" y="59.25" width="2.05" height="12.30" fill="#e3daf0"/>
<rect x="180.17" y="59.25" width="2.05" height="12.30" fill="#f3b9ac"/>
<rect x="182.18" y="59.25" width="2.05" height="12.30" fill="#f3b9ac"/>
<rect x="184.19" y="59.25" width="2.05" height="12.30" fill="#f3c4bc"/>
<rect x="186.19" y="59.25" width="2.05" height="12.30" fill="#f49276"/>
<rect x="188.20" y="59.25" width="2.05" height="12.30" fill="#f3b8ab"/>
<rect x="190.20" y="59.25" width="2.05" height="12.30" fill="#d6ccf0"/>
<rect x="192.21" y="59.25" width="2.05" height="12.30" fill="#d6ccf0"/>
<rect x="194.22" y="59.25" width="2.05" height="12.30" fill="#c8bdf0"/>
<rect x="196.22" y="59.25" width="2.05" height="12.30" fill="#d6ccf0"/>
<rect x="198.23" y="59.25" width="2.05" height="12.30" fill="#ab9df0"/>
<rect x="200.23" y="59.25" width="2.05" height="12.30" fill="#8070f0"/>
<rect x="202.24" y="59.25" width="2.05" height="12.30" fill="#9d8ef0"/>
<rect x="204.25" y="59.25" width="2.05" height="12.30" fill="#baaef0"/>
<rect x="206.25" y="59.25" width="2.05" height="12.30" fill="#f2eaf0"/>
<rect x="208.26" y="59.25" width="2.05" height="12.30" fill="#f3ac9a"/>
<rect x="210.26" y="59.25" width="2.05" height="12.30" fill="#f3b7aa"/>
<rect x="212.27" y="59.25" width="2.05" height="12.30" fill="#8171f0"/>
<rect x="214.28" y="59.25" width="2.05" height="12.30" fill="#9d8ef0"/>
<rect x="216.28" y="59.25" width="2.05" height="12.30" fill="#f2eaf0"/>
<rect x="218.29" y="59.25" width="2.05" height="12.30" fill="#f3b9ac"/>
<rect x="220.29" y="59.25" width="2.05" height="12.30" fill="#f4a089"/>
<rect x="222.30" y="59.25" width="2.05" height="12.30" fill="#f48668"/>
<rect x="224.31" y="59.25" width="2.05" height="12.30" fill="#f48769"/>
<rect x="226.31" y="59.25" width="2.05" height="12.30" fill="#f04a32"/>
<rect x="228.32" y="59.25" width="2.05" height="12.30" fill="#ef3e27"/>
<rect x="230.32" y="59.25" width="2.05" height="12.30" fill="#f0553c"/>
<rect x="232.33" y="59.25" width="2.05" height="12.30" fill="#f16247"/>
<rect x="234.34" y="59.25" width="2.05" height="12.30" fill="#f3b8ab"/>
<rect x="236.34" y="59.25" width="2.05" height="12.30" fill="#f3ac9a"/>
<rect x="238.35" y="59.25" width="2.05" height="12.30" fill="#f49e87"/>
<rect x="240.35" y="59.25" width="2.05" height="12.30" fill="#f2e9ef"/>
<rect x="242.36" y="59.25" width="2.05" height="12.30" fill="#f3d2ce"/>
<rect x="244.37" y="59.25" width="2.05" height="12.30" fill="#f3d2ce"/>
<rect x="246.37" y="59.25" width="2.05" height="12.30" fill="#f3c5bd"/>
<rect x="248.38" y="59.25" width="2.05" height="12.30" fill="#f2eaf0"/>
<rect x="250.38" y="59.25" width="2.05" height="12.30" fill="#c8bdf0"/>
<rect x="252.39" y="59.25" width="2.05" height="12.30" fill="#d6ccf0"/>
<rect x="254.40" y="59.25" width="2.05" height="12.30" fill="#c8bdf0"/>
<rect x="256.40" y="59.25" width="2.05" height="12.30" fill="#e4dbf0"/>
<rect x="258.41" y="59.25" width="2.05" height="12.30" fill="#e4dbf0"/>
<rect x="260.41" y="59.25" width="2.05" height="12.30" fill="#ab9df0"/>
<rect x="262.42" y="59.25" width="2.05" height="12.30" fill="#9b8cf0"/>
<rect x="264.43" y="59.25" width="2.05" height="12.30" fill="#f3b9ac"/>
<rect x="266.43" y="59.25" width="2.05" height="12.30" fill="#f26e53"/>
<rect x="268.44" y="59.25" width="2.05" height="12.30" fill="#f3ab99"/>
<rect x="270.44" y="59.25" width="2.05" height="12.30" fill="#f49e87"/>
<rect x="272.45" y="59.25" width="2.05" height="12.30" fill="#f2ddde"/>
<rect x="274.46" y="59.25" width="2.05" height="12.30" fill="#c8bdf0"/>
<rect x="276.46" y="59.25" width="2.05" height="12.30" fill="#c7bcf0"/>
<rect x="278.47" y="59.25" width="2.05" height="12.30" fill="#8c7df0"/>
<rect x="280.47" y="59.25" width="2.05" height="12.30" fill="#ab9df0"/>
<rect x="282.48" y="59.25" width="2.05" height="12.30" fill="#f2ddde"/>
<rect x="284.49" y="59.25" width="2.05" height="12.30" fill="#f49276"/>
<rect x="286.49" y="59.25" width="2.05" height="12.30" fill="#f3ac9a"/>
<rect x="288.50" y="59.25" width="2.05" height="12.30" fill="#f2eaf0"/>
<rect x="290.50" y="59.25" width="2.05" height="12.30" fill="#ab9df0"/>
<rect x="292.51" y="59.25" width="2.05" height="12.30" fill="#9b8cf0"/>
<rect x="294.52" y="59.25" width="2.05" height="12.30" fill="#f2dfe0"/>
<rect x="296.52" y="59.25" width="2.05" height="12.30" fill="#f2eaf0"/>
<rect x="298.53" y="59.25" width="2.05" height="12.30" fill="#c8bdf0"/>
<rect x="300.53" y="59.25" width="2.05" height="12.30" fill="#c7bcf0"/>
<rect x="302.54" y="59.25" width="2.05" height="12.30" fill="#7f6ff0"/>
<rect x="304.55" y="59.25" width="2.05" height="12.30" fill="#7f6ff0"/>
<rect x="306.55" y="59.25" width="2.05" height="12.30" fill="#c7bcf0"/>
<rect x="308.56" y="59.25" width="2.05" height="12.30" fill="#ab9df0"/>
<rect x="310.56" y="59.25" width="2.05" height="12.30" fill="#7464f0"/>
<rect x="312.57" y="59.25" width="2.05" height="12.30" fill="#7464f0"/>
<rect x="314.58" y="59.25" width="2.05" height="12.30" fill="#8e7ef0"/>
<rect x="316.58" y="59.25" width="2.05" height="12.30" fill="#7464f0"/>
<rect x="318.59" y="59.25" width="2.05" height="12.30" fill="#6859ef"/>
<rect x="320.59" y="59.25" width="2.05" height="12.30" fill="#5d4eef"/>
<rect x="322.60" y="59.25" width="2.05" height="12.30" fill="#3b2dee"/>
<rect x="19.30" y="71.50" width="2.05" height="12.30" fill="#f26c51"/>
<rect x="21.31" y="71.50" width="2.05" height="12.30" fill="#f3795d"/>
<rect x="23.31" y="71.50" width="2.05" height="12.30" fill="#f49377"/>
<rect x="25.32" y="71.50" width="2.05" height="12.30" fill="#f3795d"/>
<rect x="27.32" y="71.50" width="2.05" height="12.30" fill="#f26c51"/>
<rect x="29.33" y="71.50" width="2.05" height="12.30" fill="#f16147"/>
<rect x="31.34" y="71.50" width="2.05" height="12.30" fill="#f04931"/>
<rect x="33.34" y="71.50" width="2.05" height="12.30" fill="#f16147"/>
<rect x="35.35" y="71.50" width="2.05" height="12.30" fill="#f26c51"/>
<rect x="37.35" y="71.50" width="2.05" height="12.30" fill="#f26c51"/>
<rect x="39.36" y="71.50" width="2.05" height="12.30" fill="#f26c51"/>
<rect x="41.37" y="71.50" width="2.05" height="12.30" fill="#f26c51"/>
<rect x="43.37" y="71.50" width="2.05" height="12.30" fill="#f26c51"/>
<rect x="45.38" y="71.50" width="2.05" height="12.30" fill="#f3795d"/>
<rect x="47.38" y="71.50" width="2.05" height="12.30" fill="#f3ac9a"/>
<rect x="49.39" y="71.50" width="2.05" height="12.30" fill="#f2eaf0"/>
<rect x="51.40" y="71.50" width="2.05" height="12.30" fill="#c8bdf0"/>
<rect x="53.40" y="71.50" width="2.05" height="12.30" fill="#f2eaf0"/>
<rect x="55.41" y="71.50" width="2.05" height="12.30" fill="#f3d2ce"/>
<rect x="57.41" y="71.50" width="2.05" height="12.30" fill="#e4dbf0"/>
<rect x="59.42" y="71.50" width="2.05" height="12.30" fill="#f3b8ab"/>
<rect x="61.43" y="71.50" width="2.05" height="12.30" fill="#f3795d"/>
<rect x="63.43" y="71.50" width="2.05" height="12.30" fill="#f3795d"/>
<rect x="65.44" y="71.50" width="2.05" height="12.30" fill="#f49377"/>
<rect x="67.44" y="71.50" width="2.05" height="12.30" fill="#f48668"/>
<rect x="69.45" y="71.50" width="2.05" height="12.30" fill="#f49377"/>
<rect x="71.46" y="71.50" width="2.05" height="12.30" fill="#f49e87"/>
<rect x="73.46" y="71.50" width="2.05" height="12.30" fill="#e5dcf0"/>
<rect x="75.47" y="71.50" width="2.05" height="12.30" fill="#f2ddde"/>
<rect x="77.47" y="71.50" width="2.05" height="12.30" fill="#f48567"/>
<rect x="79.48" y="71.50" width="2.05" height="12.30" fill="#f48567"/>
<rect x="81.49" y="71.50" width="2.05" height="12.30" fill="#f3b7aa"/>
<rect x="83.49" y="71.50" width="2.05" height="12.30" fill="#f49276"/>
<rect x="85.50" y="71.50" width="2.05" height="12.30" fill="#f3ac9a"/>
<rect x="87.50" y="71.50" width="2.05" height="12.30" fill="#e3daf0"/>
<rect x="89.51" y="71.50" width="2.05" height="12.30" fill="#7f6ff0"/>
<rect x="91.52" y="71.50" width="2.05" height="12.30" fill="#6859ef"/>
<rect x="93.52" y="71.50" width="2.05" height="12.30" fill="#6859ef"/>
<rect x="95.53" y="71.50" width="2.05" height="12.30" fill="#6859ef"/>
<rect x="97.53" y="71.50" width="2.05" height="12.30" fill="#6859ef"/>
<rect x="99.54" y="71.50" width="2.05" height="12.30" fill="#5d4eef"/>
<rect x="101.55" y="71.50" width="2.05" height="12.30" fill="#4638ef"/>
<rect x="103.55" y="71.50" width="2.05" height="12.30" fill="#7464f0"/>
<rect x="105.56" y="71.50" width="2.05" height="12.30" fill="#b8abf0"/>
<rect x="107.56" y="71.50" width="2.05" height="12.30" fill="#a99bf0"/>
<rect x="109.57" y="71.50" width="2.05" height="12.30" fill="#e2d9f0"/>
<rect x="111.58" y="71.50" width="2.05" height="12.30" fill="#8b7cf0"/>
<rect x="113.58" y="71.50" width="2.05" height="12.30" fill="#6859ef"/>
<rect x="115.59" y="71.50" width="2.05" height="12.30" fill="#7f6ff0"/>
<rect x="117.59" y="71.50" width="2.05" height="12.30" fill="#d5cbf0"/>
<rect x="122.00" y="71.50" width="2.05" height="12.30" fill="#f26c51"/>
<rect x="124.01" y="71.50" width="2.05" height="12.30" fill="#f3795d"/>
<rect x="126.01" y="71.50" width="2.05" height="12.30" fill="#f49377"/>
<rect x="128.02" y="71.50" width="2.05" height="12.30" fill="#f3795d"/>
<rect x="130.02" y="71.50" width="2.05" height="12.30" fill="#f26c51"/>
<rect x="132.03" y="71.50" width="2.05" height="12.30" fill="#f3795d"/>
<rect x="134.04" y="71.50" width="2.05" height="12.30" fill="#f49377"/>
<rect x="136.04" y="71.50" width="2.05" height="12.30" fill="#f48668"/>
<rect x="138.05" y="71.50" width="2.05" height="12.30" fill="#f49377"/>
<rect x="140.05" y="71.50" width="2.05" height="12.30" fill="#f48668"/>
<rect x="142.06" y="71.50" width="2.05" height="12.30" fill="#f49377"/>
<rect x="144.07" y="71.50" width="2.05" height="12.30" fill="#f3795d"/>
<rect x="146.07" y="71.50" width="2.05" height="12.30" fill="#f3795d"/>
<rect x="148.08" y="71.50" width="2.05" height="12.30" fill="#f49377"/>
<rect x="150.08" y="71.50" width="2.05" height="12.30" fill="#f49276"/>
<rect x="152.09" y="71.50" width="2.05" height="12.30" fill="#f3c4bc"/>
<rect x="154.10" y="71.50" width="2.05" height="12.30" fill="#f3c5bd"/>
<rect x="156.10" y="71.50" width="2.05" height="12.30" fill="#f3d2ce"/>
<rect x="158.11" y="71.50" width="2.05" height="12.30" fill="#f2dfe0"/>
<rect x="160.11" y="71.50" width="2.05" height="12.30" fill="#8b7cf0"/>
<rect x="162.12" y="71.50" width="2.05" height="12.30" fill="#7f6ff0"/>
<rect x="164.13" y="71.50" width="2.05" height="12.30" fill="#c7bcf0"/>
<rect x="166.13" y="71.50" width="2.05" height="12.30" fill="#d6ccf0"/>
<rect x="168.14" y="71.50" width="2.05" height="12.30" fill="#f1e9f0"/>
<rect x="170.14" y="71.50" width="2.05" height="12.30" fill="#b7aaf0"/>
<rect x="172.15" y="71.50" width="2.05" height="12.30" fill="#f3c5bd"/>
<rect x="174.16" y="71.50" width="2.05" height="12.30" fill="#f48668"/>
<rect x="176.16" y="71.50" width="2.05" height="12.30" fill="#f49377"/>
<rect x="178.17" y="71.50" width="2.05" height="12.30" fill="#f3795d"/>
<rect x="180.17" y="71.50" width="2.05" height="12.30" fill="#f26c51"/>
<rect x="182.18" y="71.50" width="2.05" height="12.30" fill="#f3795d"/>
<rect x="184.19" y="71.50" width="2.05" height="12.30" fill="#f3ac9a"/>
<rect x="186.19" y="71.50" width="2.05" height="12.30" fill="#f3c4bc"/>
<rect x="188.20" y="71.50" width="2.05" height="12.30" fill="#f48567"/>
<rect x="190.20" y="71.50" width="2.05" height="12.30" fill="#f26c51"/>
<rect x="192.21" y="71.50" width="2.05" height="12.30" fill="#f26c51"/>
<rect x="194.22" y="71.50" width="2.05" height="12.30" fill="#f26c51"/>
<rect x="196.22" y="71.50" width="2.05" height="12.30" fill="#f26c51"/>
<rect x="198.23" y="71.50" width="2.05" height="12.30" fill="#f26c51"/>
<rect x="200.23" y="71.50" width="2.05" height="12.30" fill="#f48567"/>
<rect x="202.24" y="71.50" width="2.05" height="12.30" fill="#f3c4bc"/>
<rect x="204.25" y="71.50" width="2.05" height="12.30" fill="#f3d2ce"/>
<rect x="206.25" y="71.50" width="2.05" height="12.30" fill="#e4dbf0"/>
<rect x="208.26" y="71.50" width="2.05" height="12.30" fill="#f3b8ab"/>
<rect x="210.26" y="71.50" width="2.05" height="12.30" fill="#f49276"/>
<rect x="212.27" y="71.50" width="2.05" height="12.30" fill="#f3b7aa"/>
<rect x="214.28" y="71.50" width="2.05" height="12.30" fill="#f3b7aa"/>
<rect x="216.28" y="71.50" width="2.05" height="12.30" fill="#9b8cf0"/>
<rect x="218.29" y="71.50" width="2.05" height="12.30" fill="#7464f0"/>
<rect x="220.29" y="71.50" width="2.05" height="12.30" fill="#8e7ef0"/>
<rect x="222.30" y="71.50" width="2.05" height="12.30" fill="#7464f0"/>
<rect x="224.31" y="71.50" width="2.05" height="12.30" fill="#7464f0"/>
<rect x="226.31" y="71.50" width="2.05" height="12.30" fill="#8e7ef0"/>
<rect x="228.32" y="71.50" width="2.05" height="12.30" fill="#8070f0"/>
<rect x="230.32" y="71.50" width="2.05" height="12.30" fill="#9d8ef0"/>
<rect x="232.33" y="71.50" width="2.05" height="12.30" fill="#9d8ef0"/>
<rect x="234.34" y="71.50" width="2.05" height="12.30" fill="#7464f0"/>
<rect x="236.34" y="71.50" width="2.05" height="12.30" fill="#7464f0"/>
<rect x="238.35" y="71.50" width="2.05" height="12.30" fill="#8e7ef0"/>
<rect x="240.35" y="71.50" width="2.05" height="12.30" fill="#7464f0"/>
<rect x="242.36" y="71.50" width="2.05" height="12.30" fill="#7f6ff0"/>
<rect x="244.37" y="71.50" width="2.05" height="12.30" fill="#b8abf0"/>
<rect x="246.37" y="71.50" width="2.05" height="12.30" fill="#7f6ff0"/>
<rect x="248.38" y="71.50" width="2.05" height="12.30" fill="#5d4eef"/>
<rect x="250.38" y="71.50" width="2.05" height="12.30" fill="#4638ef"/>
<rect x="252.39" y="71.50" width="2.05" height="12.30" fill="#7464f0"/>
<rect x="254.40" y="71.50" width="2.05" height="12.30" fill="#b8abf0"/>
<rect x="256.40" y="71.50" width="2.05" height="12.30" fill="#7f6ff0"/>
<rect x="258.41" y="71.50" width="2.05" height="12.30" fill="#5d4eef"/>
<rect x="260.41" y="71.50" width="2.05" height="12.30" fill="#3b2dee"/>
<rect x="262.42" y="71.50" width="2.05" height="12.30" fill="#3b2dee"/>
<rect x="264.43" y="71.50" width="2.05" height="12.30" fill="#7464f0"/>
<rect x="266.43" y="71.50" width="2.05" height="12.30" fill="#e3daf0"/>
<rect x="268.44" y="71.50" width="2.05" height="12.30" fill="#f3c5bd"/>
<rect x="270.44" y="71.50" width="2.05" height="12.30" fill="#f3d2ce"/>
<rect x="272.45" y="71.50" width="2.05" height="12.30" fill="#f2dfe0"/>
<rect x="274.46" y="71.50" width="2.05" height="12.30" fill="#a99bf0"/>
<rect x="276.46" y="71.50" width="2.05" height="12.30" fill="#e3daf0"/>
<rect x="278.47" y="71.50" width="2.05" height="12.30" fill="#f3d2ce"/>
<rect x="280.47" y="71.50" width="2.05" height="12.30" fill="#d6ccf0"/>
<rect x="282.48" y="71.50" width="2.05" height="12.30" fill="#d6ccf0"/>
<rect x="284.49" y="71.50" width="2.05" height="12.30" fill="#e5dcf0"/>
<rect x="286.49" y="71.50" width="2.05" height="12.30" fill="#f49e87"/>
<rect x="288.50" y="71.50" width="2.05" height="12.30" fill="#f3ac9a"/>
<rect x="290.50" y="71.50" width="2.05" height="12.30" fill="#e3daf0"/>
<rect x="292.51" y="71.50" width="2.05" height="12.30" fill="#7f6ff0"/>
<rect x="294.52" y="71.50" width="2.05" height="12.30" fill="#6859ef"/>
<rect x="296.52" y="71.50" width="2.05" height="12.30" fill="#7464f0"/>
<rect x="298.53" y="71.50" width="2.05" height="12.30" fill="#8e7ef0"/>
<rect x="300.53" y="71.50" width="2.05" height="12.30" fill="#7464f0"/>
<rect x="302.54" y="71.50" width="2.05" height="12.30" fill="#6859ef"/>
<rect x="304.55" y="71.50" width="2.05" height="12.30" fill="#6859ef"/>
<rect x="306.55" y="71.50" width="2.05" height="12.30" fill="#6859ef"/>
<rect x="308.56" y="71.50" width="2.05" height="12.30" fill="#7464f0"/>
<rect x="310.56" y="71.50" width="2.05" height="12.30" fill="#ab9df0"/>
<rect x="312.57" y="71.50" width="2.05" height="12.30" fill="#d6ccf0"/>
<rect x="314.58" y="71.50" width="2.05" height="12.30" fill="#ab9df0"/>
<rect x="316.58" y="71.50" width="2.05" height="12.30" fill="#7464f0"/>
<rect x="318.59" y="71.50" width="2.05" height="12.30" fill="#6859ef"/>
<rect x="320.59" y="71.50" width="2.05" height="12.30" fill="#6859ef"/>
<rect x="322.60" y="71.50" width="2.05" height="12.30" fill="#6859ef"/>
<rect x="19.30" y="83.75" width="2.05" height="12.30" fill="#f26c51"/>
<rect x="21.31" y="83.75" width="2.05" height="12.30" fill="#f3795d"/>
<rect x="23.31" y="83.75" width="2.05" height="12.30" fill="#f49377"/>
<rect x="25.32" y="83.75" width="2.05" height="12.30" fill="#f3795d"/>
<rect x="27.32" y="83.75" width="2.05" height="12.30" fill="#f3795d"/>
<rect x="29.33" y="83.75" width="2.05" height="12.30" fill="#f49377"/>
<rect x="31.34" y="83.75" width="2.05" height="12.30" fill="#f26d52"/>
<rect x="33.34" y="83.75" width="2.05" height="12.30" fill="#f04931"/>
<rect x="35.35" y="83.75" width="2.05" height="12.30" fill="#f16147"/>
<rect x="37.35" y="83.75" width="2.05" height="12.30" fill="#f26c51"/>
<rect x="39.36" y="83.75" width="2.05" height="12.30" fill="#f26c51"/>
<rect x="41.37" y="83.75" width="2.05" height="12.30" fill="#f3795d"/>
<rect x="43.37" y="83.75" width="2.05" height="12.30" fill="#f49377"/>
<rect x="45.38" y="83.75" width="2.05" height="12.30" fill="#f3795d"/>
<rect x="47.38" y="83.75" width="2.05" height="12.30" fill="#f26c51"/>
<rect x="49.39" y="83.75" width="2.05" height="12.30" fill="#f48567"/>
<rect x="51.40" y="83.75" width="2.05" height="12.30" fill="#f2ddde"/>
<rect x="53.40" y="83.75" width="2.05" height="12.30" fill="#baaef0"/>
<rect x="55.41" y="83.75" width="2.05" height="12.30" fill="#baaef0"/>
<rect x="57.41" y="83.75" width="2.05" height="12.30" fill="#d6ccf0"/>
<rect x="59.42" y="83.75" width="2.05" height="12.30" fill="#d6ccf0"/>
<rect x="61.43" y="83.75" width="2.05" height="12.30" fill="#f3d2ce"/>
<rect x="63.43" y="83.75" width="2.05" height="12.30" fill="#f2eaf0"/>
<rect x="65.44" y="83.75" width="2.05" height="12.30" fill="#c8bdf0"/>
<rect x="67.44" y="83.75" width="2.05" height="12.30" fill="#f2eaf0"/>
<rect x="69.45" y="83.75" width="2.05" height="12.30" fill="#f3d2ce"/>
<rect x="71.46" y="83.75" width="2.05" height="12.30" fill="#b9adf0"/>
<rect x="73.46" y="83.75" width="2.05" height="12.30" fill="#8c7df0"/>
<rect x="75.47" y="83.75" width="2.05" height="12.30" fill="#c7bcf0"/>
<rect x="77.47" y="83.75" width="2.05" height="12.30" fill="#c8bdf0"/>
<rect x="79.48" y="83.75" width="2.05" height="12.30" fill="#d6ccf0"/>
<rect x="81.49" y="83.75" width="2.05" height="12.30" fill="#d6ccf0"/>
<rect x="83.49" y="83.75" width="2.05" height="12.30" fill="#f2dedf"/>
<rect x="85.50" y="83.75" width="2.05" height="12.30" fill="#d6ccf0"/>
<rect x="87.50" y="83.75" width="2.05" height="12.30" fill="#c7bcf0"/>
<rect x="89.51" y="83.75" width="2.05" height="12.30" fill="#9b8cf0"/>
<rect x="91.52" y="83.75" width="2.05" height="12.30" fill="#b8abf0"/>
<rect x="93.52" y="83.75" width="2.05" height="12.30" fill="#7f6ff0"/>
<rect x="95.53" y="83.75" width="2.05" height="12.30" fill="#6859ef"/>
<rect x="97.53" y="83.75" width="2.05" height="12.30" fill="#6859ef"/>
<rect x="99.54" y="83.75" width="2.05" height="12.30" fill="#6859ef"/>
<rect x="101.55" y="83.75" width="2.05" height="12.30" fill="#6859ef"/>
<rect x="103.55" y="83.75" width="2.05" height="12.30" fill="#7464f0"/>
<rect x="105.56" y="83.75" width="2.05" height="12.30" fill="#8e7ef0"/>
<rect x="107.56" y="83.75" width="2.05" height="12.30" fill="#8c7df0"/>
<rect x="109.57" y="83.75" width="2.05" height="12.30" fill="#b8abf0"/>
<rect x="111.58" y="83.75" width="2.05" height="12.30" fill="#7f6ff0"/>
<rect x="113.58" y="83.75" width="2.05" height="12.30" fill="#6859ef"/>
<rect x="115.59" y="83.75" width="2.05" height="12.30" fill="#7f6ff0"/>
<rect x="117.59" y="83.75" width="2.05" height="12.30" fill="#d5cbf0"/>
<rect x="122.00" y="83.75" width="2.05" height="12.30" fill="#ef3e27"/>
<rect x="124.01" y="83.75" width="2.05" height="12.30" fill="#f16147"/>
<rect x="126.01" y="83.75" width="2.05" height="12.30" fill="#f26c51"/>
<rect x="128.02" y="83.75" width="2.05" height="12.30" fill="#f26c51"/>
<rect x="130.02" y="83.75" width="2.05" height="12.30" fill="#f16147"/>
<rect x="132.03" y="83.75" width="2.05" height="12.30" fill="#f04931"/>
<rect x="134.04" y="83.75" width="2.05" height="12.30" fill="#f16147"/>
<rect x="136.04" y="83.75" width="2.05" height="12.30" fill="#f26c51"/>
<rect x="138.05" y="83.75" width="2.05" height="12.30" fill="#f3795d"/>
<rect x="140.05" y="83.75" width="2.05" height="12.30" fill="#f49377"/>
<rect x="142.06" y="83.75" width="2.05" height="12.30" fill="#f26d52"/>
<rect x="144.07" y="83.75" width="2.05" height="12.30" fill="#f04931"/>
<rect x="146.07" y="83.75" width="2.05" height="12.30" fill="#f16147"/>
<rect x="148.08" y="83.75" width="2.05" height="12.30" fill="#f3795d"/>
<rect x="150.08" y="83.75" width="2.05" height="12.30" fill="#f49377"/>
<rect x="152.09" y="83.75" width="2.05" height="12.30" fill="#f49276"/>
<rect x="154.10" y="83.75" width="2.05" height="12.30" fill="#f3b7aa"/>
<rect x="156.10" y="83.75" width="2.05" height="12.30" fill="#f48567"/>
<rect x="158.11" y="83.75" width="2.05" height="12.30" fill="#f3795d"/>
<rect x="160.11" y="83.75" width="2.05" height="12.30" fill="#f3ac9a"/>
<rect x="162.12" y="83.75" width="2.05" height="12.30" fill="#f3d2ce"/>
<rect x="164.13" y="83.75" width="2.05" height="12.30" fill="#f3c5bd"/>
<rect x="166.13" y="83.75" width="2.05" height="12.30" fill="#f3d2ce"/>
<rect x="168.14" y="83.75" width="2.05" height="12.30" fill="#f3c5bd"/>
<rect x="170.14" y="83.75" width="2.05" height="12.30" fill="#f2eaf0"/>
<rect x="172.15" y="83.75" width="2.05" height="12.30" fill="#d6ccf0"/>
<rect x="174.16" y="83.75" width="2.05" height="12.30" fill="#f3d2ce"/>
<rect x="176.16" y="83.75" width="2.05" height="12.30" fill="#f3d2ce"/>
<rect x="178.17" y="83.75" width="2.05" height="12.30" fill="#f3c5bd"/>
<rect x="180.17" y="83.75" width="2.05" height="12.30" fill="#f3d2ce"/>
<rect x="182.18" y="83.75" width="2.05" height="12.30" fill="#f3ac9a"/>
<rect x="184.19" y="83.75" width="2.05" height="12.30" fill="#f48668"/>
<rect x="186.19" y="83.75" width="2.05" height="12.30" fill="#f48769"/>
<rect x="188.20" y="83.75" width="2.05" height="12.30" fill="#f04a32"/>
<rect x="190.20" y="83.75" width="2.05" height="12.30" fill="#ef3e27"/>
<rect x="192.21" y="83.75" width="2.05" height="12.30" fill="#f0553c"/>
<rect x="194.22" y="83.75" width="2.05" height="12.30" fill="#f04931"/>
<rect x="196.22" y="83.75" width="2.05" height="12.30" fill="#f16147"/>
<rect x="198.23" y="83.75" width="2.05" height="12.30" fill="#f26c51"/>
<rect x="200.23" y="83.75" width="2.05" height="12.30" fill="#f3795d"/>
<rect x="202.24" y="83.75" width="2.05" height="12.30" fill="#f3b8ab"/>
<rect x="204.25" y="83.75" width="2.05" height="12.30" fill="#f2e9ef"/>
<rect x="206.25" y="83.75" width="2.05" height="12.30" fill="#f49e87"/>
<rect x="208.26" y="83.75" width="2.05" height="12.30" fill="#f3ac9a"/>
<rect x="210.26" y="83.75" width="2.05" height="12.30" fill="#f3d2ce"/>
<rect x="212.27" y="83.75" width="2.05" height="12.30" fill="#f3ac9a"/>
<rect x="214.28" y="83.75" width="2.05" height="12.30" fill="#f49276"/>
<rect x="216.28" y="83.75" width="2.05" height="12.30" fill="#f2ddde"/>
<rect x="218.29" y="83.75" width="2.05" height="12.30" fill="#c8bdf0"/>
<rect x="220.29" y="83.75" width="2.05" height="12.30" fill="#c7bcf0"/>
<rect x="222.30" y="83.75" width="2.05" height="12.30" fill="#7f6ff0"/>
<rect x="224.31" y="83.75" width="2.05" height="12.30" fill="#7f6ff0"/>
<rect x="226.31" y="83.75" width="2.05" height="12.30" fill="#b8abf0"/>
<rect x="228.32" y="83.75" width="2.05" height="12.30" fill="#9b8cf0"/>
<rect x="230.32" y="83.75" width="2.05" height="12.30" fill="#c7bcf0"/>
<rect x="232.33" y="83.75" width="2.05" height="12.30" fill="#c8bdf0"/>
<rect x="234.34" y="83.75" width="2.05" height="12.30" fill="#d6ccf0"/>
<rect x="236.34" y="83.75" width="2.05" height="12.30" fill="#ab9df0"/>
<rect x="238.35" y="83.75" width="2.05" height="12.30" fill="#8070f0"/>
<rect x="240.35" y="83.75" width="2.05" height="12.30" fill="#8e7ef0"/>
<rect x="242.36" y="83.75" width="2.05" height="12.30" fill="#7464f0"/>
<rect x="244.37" y="83.75" width="2.05" height="12.30" fill="#6859ef"/>
<rect x="246.37" y="83.75" width="2.05" height="12.30" fill="#7464f0"/>
<rect x="248.38" y="83.75" width="2.05" height="12.30" fill="#8e7ef0"/>
<rect x="250.38" y="83.75" width="2.05" height="12.30" fill="#7464f0"/>
<rect x="252.39" y="83.75" width="2.05" height="12.30" fill="#7464f0"/>
<rect x="254.40" y="83.75" width="2.05" height="12.30" fill="#8e7ef0"/>
<rect x="256.40" y="83.75" width="2.05" height="12.30" fill="#6959ef"/>
<rect x="258.41" y="83.75" width="2.05" height="12.30" fill="#4638ef"/>
<rect x="260.41" y="83.75" width="2.05" height="12.30" fill="#5243ef"/>
<rect x="262.42" y="83.75" width="2.05" height="12.30" fill="#4638ef"/>
<rect x="264.43" y="83.75" width="2.05" height="12.30" fill="#7464f0"/>
<rect x="266.43" y="83.75" width="2.05" height="12.30" fill="#e3daf0"/>
<rect x="268.44" y="83.75" width="2.05" height="12.30" fill="#f3c5bd"/>
<rect x="270.44" y="83.75" width="2.05" height="12.30" fill="#f2eaf0"/>
<rect x="272.45" y="83.75" width="2.05" height="12.30" fill="#ab9df0"/>
<rect x="274.46" y="83.75" width="2.05" height="12.30" fill="#8070f0"/>
<rect x="276.46" y="83.75" width="2.05" height="12.30" fill="#8e7ef0"/>
<rect x="278.47" y="83.75" width="2.05" height="12.30" fill="#7464f0"/>
<rect x="280.47" y="83.75" width="2.05" height="12.30" fill="#7f6ff0"/>
<rect x="282.48" y="83.75" width="2.05" height="12.30" fill="#b8abf0"/>
<rect x="284.49" y="83.75" width="2.05" height="12.30" fill="#7f6ff0"/>
<rect x="286.49" y="83.75" width="2.05" height="12.30" fill="#6859ef"/>
<rect x="288.50" y="83.75" width="2.05" height="12.30" fill="#7f6ff0"/>
<rect x="290.50" y="83.75" width="2.05" height="12.30" fill="#b8abf0"/>
<rect x="292.51" y="83.75" width="2.05" height="12.30" fill="#7f6ff0"/>
<rect x="294.52" y="83.75" width="2.05" height="12.30" fill="#6859ef"/>
<rect x="296.52" y="83.75" width="2.05" height="12.30" fill="#7464f0"/>
<rect x="298.53" y="83.75" width="2.05" height="12.30" fill="#8e7ef0"/>
<rect x="300.53" y="83.75" width="2.05" height="12.30" fill="#7464f0"/>
<rect x="302.54" y="83.75" width="2.05" height="12.30" fill="#6859ef"/>
<rect x="304.55" y="83.75" width="2.05" height="12.30" fill="#6859ef"/>
<rect x="306.55" y="83.75" width="2.05" height="12.30" fill="#6859ef"/>
<rect x="308.56" y="83.75" width="2.05" height="12.30" fill="#7464f0"/>
<rect x="310.56" y="83.75" width="2.05" height="12.30" fill="#b9adf0"/>
<rect x="312.57" y="83.75" width="2.05" height="12.30" fill="#f1e9f0"/>
<rect x="314.58" y="83.75" width="2.05" height="12.30" fill="#8b7cf0"/>
<rect x="316.58" y="83.75" width="2.05" height="12.30" fill="#6859ef"/>
<rect x="318.59" y="83.75" width="2.05" height="12.30" fill="#6859ef"/>
<rect x="320.59" y="83.75" width="2.05" height="12.30" fill="#6859ef"/>
<rect x="322.60" y="83.75" width="2.05" height="12.30" fill="#6859ef"/>
<rect x="19.30" y="96.00" width="2.05" height="12.30" fill="#f26c51"/>
<rect x="21.31" y="96.00" width="2.05" height="12.30" fill="#f3795d"/>
<rect x="23.31" y="96.00" width="2.05" height="12.30" fill="#f49377"/>
<rect x="25.32" y="96.00" width="2.05" height="12.30" fill="#f3795d"/>
<rect x="27.32" y="96.00" width="2.05" height="12.30" fill="#f26c51"/>
<rect x="29.33" y="96.00" width="2.05" height="12.30" fill="#f26c51"/>
<rect x="31.34" y="96.00" width="2.05" height="12.30" fill="#f16147"/>
<rect x="33.34" y="96.00" width="2.05" height="12.30" fill="#f04931"/>
<rect x="35.35" y="96.00" width="2.05" height="12.30" fill="#f16147"/>
<rect x="37.35" y="96.00" width="2.05" height="12.30" fill="#f26c51"/>
<rect x="39.36" y="96.00" width="2.05" height="12.30" fill="#f3795d"/>
<rect x="41.37" y="96.00" width="2.05" height="12.30" fill="#f49377"/>
<rect x="43.37" y="96.00" width="2.05" height="12.30" fill="#f26d52"/>
<rect x="45.38" y="96.00" width="2.05" height="12.30" fill="#f04931"/>
<rect x="47.38" y="96.00" width="2.05" height="12.30" fill="#f26d52"/>
<rect x="49.39" y="96.00" width="2.05" height="12.30" fill="#f3ac9a"/>
<rect x="51.40" y="96.00" width="2.05" height="12.30" fill="#f2dedf"/>
<rect x="53.40" y="96.00" width="2.05" height="12.30" fill="#e4dbf0"/>
<rect x="55.41" y="96.00" width="2.05" height="12.30" fill="#c8bdf0"/>
<rect x="57.41" y="96.00" width="2.05" height="12.30" fill="#f2eaf0"/>
<rect x="59.42" y="96.00" width="2.05" height="12.30" fill="#f3c5bd"/>
<rect x="61.43" y="96.00" width="2.05" height="12.30" fill="#f3d2ce"/>
<rect x="63.43" y="96.00" width="2.05" height="12.30" fill="#f3ac9a"/>
<rect x="65.44" y="96.00" width="2.05" height="12.30" fill="#f48668"/>
<rect x="67.44" y="96.00" width="2.05" height="12.30" fill="#f49377"/>
<rect x="69.45" y="96.00" width="2.05" height="12.30" fill="#f3795d"/>
<rect x="71.46" y="96.00" width="2.05" height="12.30" fill="#f49174"/>
<rect x="73.46" y="96.00" width="2.05" height="12.30" fill="#e5dcf0"/>
<rect x="75.47" y="96.00" width="2.05" height="12.30" fill="#d6ccf0"/>
<rect x="77.47" y="96.00" width="2.05" height="12.30" fill="#e5dcf0"/>
<rect x="79.48" y="96.00" width="2.05" height="12.30" fill="#f49174"/>
<rect x="81.49" y="96.00" width="2.05" height="12.30" fill="#f3795d"/>
<rect x="83.49" y="96.00" width="2.05" height="12.30" fill="#f3ac9a"/>
<rect x="85.50" y="96.00" width="2.05" height="12.30" fill="#f2eaf0"/>
<rect x="87.50" y="96.00" width="2.05" height="12.30" fill="#ab9df0"/>
<rect x="89.51" y="96.00" width="2.05" height="12.30" fill="#7464f0"/>
<rect x="91.52" y="96.00" width="2.05" height="12.30" fill="#7464f0"/>
<rect x="93.52" y="96.00" width="2.05" height="12.30" fill="#8e7ef0"/>
<rect x="95.53" y="96.00" width="2.05" height="12.30" fill="#8c7df0"/>
<rect x="97.53" y="96.00" width="2.05" height="12.30" fill="#b8abf0"/>
<rect x="99.54" y="96.00" width="2.05" height="12.30" fill="#7f6ff0"/>
<rect x="101.55" y="96.00" width="2.05" height="12.30" fill="#7464f0"/>
<rect x="103.55" y="96.00" width="2.05" height="12.30" fill="#8e7ef0"/>
<rect x="105.56" y="96.00" width="2.05" height="12.30" fill="#7464f0"/>
<rect x="107.56" y="96.00" width="2.05" height="12.30" fill="#7464f0"/>
<rect x="109.57" y="96.00" width="2.05" height="12.30" fill="#8e7ef0"/>
<rect x="111.58" y="96.00" width="2.05" height="12.30" fill="#7464f0"/>
<rect x="113.58" y="96.00" width="2.05" height="12.30" fill="#6859ef"/>
<rect x="115.59" y="96.00" width="2.05" height="12.30" fill="#7f6ff0"/>
<rect x="117.59" y="96.00" width="2.05" height="12.30" fill="#d5cbf0"/>
<rect x="122.00" y="96.00" width="2.05" height="12.30" fill="#f26c51"/>
<rect x="124.01" y="96.00" width="2.05" height="12.30" fill="#f26c51"/>
<rect x="126.01" y="96.00" width="2.05" height="12.30" fill="#f3795d"/>
<rect x="128.02" y="96.00" width="2.05" height="12.30" fill="#f49377"/>
<rect x="130.02" y="96.00" width="2.05" height="12.30" fill="#f3795d"/>
<rect x="132.03" y="96.00" width="2.05" height="12.30" fill="#f3795d"/>
<rect x="134.04" y="96.00" width="2.05" height="12.30" fill="#f49377"/>
<rect x="136.04" y="96.00" width="2.05" height="12.30" fill="#f3795d"/>
<rect x="138.05" y="96.00" width="2.05" height="12.30" fill="#f3795d"/>
<rect x="140.05" y="96.00" width="2.05" height="12.30" fill="#f49377"/>
<rect x="142.06" y="96.00" width="2.05" height="12.30" fill="#f3795d"/>
<rect x="144.07" y="96.00" width="2.05" height="12.30" fill="#f3795d"/>
<rect x="146.07" y="96.00" width="2.05" height="12.30" fill="#f49377"/>
<rect x="148.08" y="96.00" width="2.05" height="12.30" fill="#f48668"/>
<rect x="150.08" y="96.00" width="2.05" height="12.30" fill="#f49377"/>
<rect x="152.09" y="96.00" width="2.05" height="12.30" fill="#f48668"/>
<rect x="154.10" y="96.00" width="2.05" height="12.30" fill="#f49377"/>
<rect x="156.10" y="96.00" width="2.05" height="12.30" fill="#f49276"/>
<rect x="158.11" y="96.00" width="2.05" height="12.30" fill="#f2ddde"/>
<rect x="160.11" y="96.00" width="2.05" height="12.30" fill="#c8bdf0"/>
<rect x="162.12" y="96.00" width="2.05" height="12.30" fill="#f2eaf0"/>
<rect x="164.13" y="96.00" width="2.05" height="12.30" fill="#f3ac9a"/>
<rect x="166.13" y="96.00" width="2.05" height="12.30" fill="#f49276"/>
<rect x="168.14" y="96.00" width="2.05" height="12.30" fill="#f2ddde"/>
<rect x="170.14" y="96.00" width="2.05" height="12.30" fill="#d6ccf0"/>
<rect x="172.15" y="96.00" width="2.05" height="12.30" fill="#f3b8ab"/>
<rect x="174.16" y="96.00" width="2.05" height="12.30" fill="#f48668"/>
<rect x="176.16" y="96.00" width="2.05" height="12.30" fill="#f49377"/>
<rect x="178.17" y="96.00" width="2.05" height="12.30" fill="#f48668"/>
<rect x="180.17" y="96.00" width="2.05" height="12.30" fill="#f4a089"/>
<rect x="182.18" y="96.00" width="2.05" height="12.30" fill="#f3b9ac"/>
<rect x="184.19" y="96.00" width="2.05" height="12.30" fill="#f2eaf0"/>
<rect x="186.19" y="96.00" width="2.05" height="12.30" fill="#f2e9ef"/>
<rect x="188.20" y="96.00" width="2.05" height="12.30" fill="#f26d52"/>
<rect x="190.20" y="96.00" width="2.05" height="12.30" fill="#f0553c"/>
<rect x="192.21" y="96.00" width="2.05" height="12.30" fill="#f04931"/>
<rect x="194.22" y="96.00" width="2.05" height="12.30" fill="#f26d52"/>
<rect x="196.22" y="96.00" width="2.05" height="12.30" fill="#f49377"/>
<rect x="198.23" y="96.00" width="2.05" height="12.30" fill="#f3795d"/>
<rect x="200.23" y="96.00" width="2.05" height="12.30" fill="#f3795d"/>
<rect x="202.24" y="96.00" width="2.05" height="12.30" fill="#f3b8ab"/>
<rect x="204.25" y="96.00" width="2.05" height="12.30" fill="#e4dbf0"/>
<rect x="206.25" y="96.00" width="2.05" height="12.30" fill="#f3d2ce"/>
<rect x="208.26" y="96.00" width="2.05" height="12.30" fill="#f3d2ce"/>
<rect x="210.26" y="96.00" width="2.05" height="12.30" fill="#f3d2ce"/>
<rect x="212.27" y="96.00" width="2.05" height="12.30" fill="#d6ccf0"/>
<rect x="214.28" y="96.00" width="2.05" height="12.30" fill="#c7bcf0"/>
<rect x="216.28" y="96.00" width="2.05" height="12.30" fill="#8c7df0"/>
<rect x="218.29" y="96.00" width="2.05" height="12.30" fill="#ab9df0"/>
<rect x="220.29" y="96.00" width="2.05" height="12.30" fill="#c7bcf0"/>
<rect x="222.30" y="96.00" width="2.05" height="12.30" fill="#a99bf0"/>
<rect x="224.31" y="96.00" width="2.05" height="12.30" fill="#f1e9f0"/>
<rect x="226.31" y="96.00" width="2.05" height="12.30" fill="#b9adf0"/>
<rect x="228.32" y="96.00" width="2.05" height="12.30" fill="#8070f0"/>
<rect x="230.32" y="96.00" width="2.05" height="12.30" fill="#ab9df0"/>
<rect x="232.33" y="96.00" width="2.05" height="12.30" fill="#c7bcf0"/>
<rect x="234.34" y="96.00" width="2.05" height="12.30" fill="#8c7df0"/>
<rect x="236.34" y="96.00" width="2.05" height="12.30" fill="#8e7ef0"/>
<rect x="238.35" y="96.00" width="2.05" height="12.30" fill="#7464f0"/>
<rect x="240.35" y="96.00" width="2.05" height="12.30" fill="#7464f0"/>
<rect x="242.36" y="96.00" width="2.05" height="12.30" fill="#8e7ef0"/>
<rect x="244.37" y="96.00" width="2.05" height="12.30" fill="#7464f0"/>
<rect x="246.37" y="96.00" width="2.05" height="12.30" fill="#6859ef"/>
<rect x="248.38" y="96.00" width="2.05" height="12.30" fill="#6859ef"/>
<rect x="250.38" y="96.00" width="2.05" height="12.30" fill="#6859ef"/>
<rect x="252.39" y="96.00" width="2.05" height="12.30" fill="#7f6ff0"/>
<rect x="254.40" y="96.00" width="2.05" height="12.30" fill="#b8abf0"/>
<rect x="256.40" y="96.00" width="2.05" height="12.30" fill="#7464f0"/>
<rect x="258.41" y="96.00" width="2.05" height="12.30" fill="#4638ef"/>
<rect x="260.41" y="96.00" width="2.05" height="12.30" fill="#5243ef"/>
<rect x="262.42" y="96.00" width="2.05" height="12.30" fill="#4638ef"/>
<rect x="264.43" y="96.00" width="2.05" height="12.30" fill="#7464f0"/>
<rect x="266.43" y="96.00" width="2.05" height="12.30" fill="#e3daf0"/>
<rect x="268.44" y="96.00" width="2.05" height="12.30" fill="#f3c5bd"/>
<rect x="270.44" y="96.00" width="2.05" height="12.30" fill="#f2dedf"/>
<rect x="272.45" y="96.00" width="2.05" height="12.30" fill="#e4dbf0"/>
<rect x="274.46" y="96.00" width="2.05" height="12.30" fill="#ab9df0"/>
<rect x="276.46" y="96.00" width="2.05" height="12.30" fill="#8070f0"/>
<rect x="278.47" y="96.00" width="2.05" height="12.30" fill="#8e7ef0"/>
<rect x="280.47" y="96.00" width="2.05" height="12.30" fill="#8070f0"/>
<rect x="282.48" y="96.00" width="2.05" height="12.30" fill="#8e7ef0"/>
<rect x="284.49" y="96.00" width="2.05" height="12.30" fill="#7464f0"/>
<rect x="286.49" y="96.00" width="2.05" height="12.30" fill="#7464f0"/>
<rect x="288.50" y="96.00" width="2.05" height="12.30" fill="#ab9df0"/>
<rect x="290.50" y="96.00" width="2.05" height="12.30" fill="#c7bcf0"/>
<rect x="292.51" y="96.00" width="2.05" height="12.30" fill="#7f6ff0"/>
<rect x="294.52" y="96.00" width="2.05" height="12.30" fill="#6859ef"/>
<rect x="296.52" y="96.00" width="2.05" height="12.30" fill="#7464f0"/>
<rect x="298.53" y="96.00" width="2.05" height="12.30" fill="#8e7ef0"/>
<rect x="300.53" y="96.00" width="2.05" height="12.30" fill="#8070f0"/>
<rect x="302.54" y="96.00" width="2.05" height="12.30" fill="#8e7ef0"/>
<rect x="304.55" y="96.00" width="2.05" height="12.30" fill="#7464f0"/>
<rect x="306.55" y="96.00" width="2.05" height="12.30" fill="#6859ef"/>
<rect x="308.56" y="96.00" width="2.05" height="12.30" fill="#7f6ff0"/>
<rect x="310.56" y="96.00" width="2.05" height="12.30" fill="#d5cbf0"/>
<rect x="312.57" y="96.00" width="2.05" height="12.30" fill="#d5cbf0"/>
<rect x="314.58" y="96.00" width="2.05" height="12.30" fill="#8c7df0"/>
<rect x="316.58" y="96.00" width="2.05" height="12.30" fill="#8e7ef0"/>
<rect x="318.59" y="96.00" width="2.05" height="12.30" fill="#7464f0"/>
<rect x="320.59" y="96.00" width="2.05" height="12.30" fill="#6859ef"/>
<rect x="322.60" y="96.00" width="2.05" height="12.30" fill="#6859ef"/>
<rect x="19.30" y="108.25" width="2.05" height="12.30" fill="#f26c51"/>
<rect x="21.31" y="108.25" width="2.05" height="12.30" fill="#f3795d"/>
<rect x="23.31" y="108.25" width="2.05" height="12.30" fill="#f3ac9a"/>
<rect x="25.32" y="108.25" width="2.05" height="12.30" fill="#f3c4bc"/>
<rect x="27.32" y="108.25" width="2.05" height="12.30" fill="#f48567"/>
<rect x="29.33" y="108.25" width="2.05" height="12.30" fill="#f3795d"/>
<rect x="31.34" y="108.25" width="2.05" height="12.30" fill="#f49377"/>
<rect x="33.34" y="108.25" width="2.05" height="12.30" fill="#f48668"/>
<rect x="35.35" y="108.25" width="2.05" height="12.30" fill="#f3ac9a"/>
<rect x="37.35" y="108.25" width="2.05" height="12.30" fill="#f3c4bc"/>
<rect x="39.36" y="108.25" width="2.05" height="12.30" fill="#f48567"/>
<rect x="41.37" y="108.25" width="2.05" height="12.30" fill="#f49174"/>
<rect x="43.37" y="108.25" width="2.05" height="12.30" fill="#f2e9ef"/>
<rect x="45.38" y="108.25" width="2.05" height="12.30" fill="#f3d2ce"/>
<rect x="47.38" y="108.25" width="2.05" height="12.30" fill="#f3d2ce"/>
<rect x="49.39" y="108.25" width="2.05" height="12.30" fill="#f3d2ce"/>
<rect x="51.40" y="108.25" width="2.05" height="12.30" fill="#f2e9ef"/>
<rect x="53.40" y="108.25" width="2.05" height="12.30" fill="#f3aa98"/>
<rect x="55.41" y="108.25" width="2.05" height="12.30" fill="#f2ddde"/>
<rect x="57.41" y="108.25" width="2.05" height="12.30" fill="#baaef0"/>
<rect x="59.42" y="108.25" width="2.05" height="12.30" fill="#baaef0"/>
<rect x="61.43" y="108.25" width="2.05" height="12.30" fill="#c7bcf0"/>
<rect x="63.43" y="108.25" width="2.05" height="12.30" fill="#7f6ff0"/>
<rect x="65.44" y="108.25" width="2.05" height="12.30" fill="#7464f0"/>
<rect x="67.44" y="108.25" width="2.05" height="12.30" fill="#8e7ef0"/>
<rect x="69.45" y="108.25" width="2.05" height="12.30" fill="#7464f0"/>
<rect x="71.46" y="108.25" width="2.05" height="12.30" fill="#9b8cf0"/>
<rect x="73.46" y="108.25" width="2.05" height="12.30" fill="#f3ab99"/>
<rect x="75.47" y="108.25" width="2.05" height="12.30" fill="#f3b8ab"/>
<rect x="77.47" y="108.25" width="2.05" height="12.30" fill="#b9adf0"/>
<rect x="79.48" y="108.25" width="2.05" height="12.30" fill="#8c7df0"/>
<rect x="81.49" y="108.25" width="2.05" height="12.30" fill="#e3daf0"/>
<rect x="83.49" y="108.25" width="2.05" height="12.30" fill="#f3d2ce"/>
<rect x="85.50" y="108.25" width="2.05" height="12.30" fill="#b9adf0"/>
<rect x="87.50" y="108.25" width="2.05" height="12.30" fill="#7464f0"/>
<rect x="89.51" y="108.25" width="2.05" height="12.30" fill="#6859ef"/>
<rect x="91.52" y="108.25" width="2.05" height="12.30" fill="#7464f0"/>
<rect x="93.52" y="108.25" width="2.05" height="12.30" fill="#8e7ef0"/>
<rect x="95.53" y="108.25" width="2.05" height="12.30" fill="#7464f0"/>
<rect x="97.53" y="108.25" width="2.05" height="12.30" fill="#7464f0"/>
<rect x="99.54" y="108.25" width="2.05" height="12.30" fill="#8e7ef0"/>
<rect x="101.55" y="108.25" width="2.05" height="12.30" fill="#7464f0"/>
<rect x="103.55" y="108.25" width="2.05" height="12.30" fill="#7f6ff0"/>
<rect x="105.56" y="108.25" width="2.05" height="12.30" fill="#b8abf0"/>
<rect x="107.56" y="108.25" width="2.05" height="12.30" fill="#7f6ff0"/>
<rect x="109.57" y="108.25" width="2.05" height="12.30" fill="#7464f0"/>
<rect x="111.58" y="108.25" width="2.05" height="12.30" fill="#8e7ef0"/>
<rect x="113.58" y="108.25" width="2.05" height="12.30" fill="#8c7df0"/>
<rect x="115.59" y="108.25" width="2.05" height="12.30" fill="#d5cbf0"/>
<rect x="117.59" y="108.25" width="2.05" height="12.30" fill="#f2eaf0"/>
<rect x="122.00" y="108.25" width="2.05" height="12.30" fill="#ef3e27"/>
<rect x="124.01" y="108.25" width="2.05" height="12.30" fill="#f16147"/>
<rect x="126.01" y="108.25" width="2.05" height="12.30" fill="#f3795d"/>
<rect x="128.02" y="108.25" width="2.05" height="12.30" fill="#f49377"/>
<rect x="130.02" y="108.25" width="2.05" height="12.30" fill="#f48668"/>
<rect x="132.03" y="108.25" width="2.05" height="12.30" fill="#f49377"/>
<rect x="134.04" y="108.25" width="2.05" height="12.30" fill="#f48668"/>
<rect x="136.04" y="108.25" width="2.05" height="12.30" fill="#f49377"/>
<rect x="138.05" y="108.25" width="2.05" height="12.30" fill="#f3795d"/>
<rect x="140.05" y="108.25" width="2.05" height="12.30" fill="#f3795d"/>
<rect x="142.06" y="108.25" width="2.05" height="12.30" fill="#f49377"/>
<rect x="144.07" y="108.25" width="2.05" height="12.30" fill="#f3795d"/>
<rect x="146.07" y="108.25" width="2.05" height="12.30" fill="#f3795d"/>
<rect x="148.08" y="108.25" width="2.05" height="12.30" fill="#f49377"/>
<rect x="150.08" y="108.25" width="2.05" height="12.30" fill="#f48668"/>
<rect x="152.09" y="108.25" width="2.05" height="12.30" fill="#f49377"/>
<rect x="154.10" y="108.25" width="2.05" height="12.30" fill="#f3795d"/>
<rect x="156.10" y="108.25" width="2.05" height="12.30" fill="#f26c51"/>
<rect x="158.11" y="108.25" width="2.05" height="12.30" fill="#f3795d"/>
<rect x="160.11" y="108.25" width="2.05" height="12.30" fill="#f3ac9a"/>
<rect x="162.12" y="108.25" width="2.05" height="12.30" fill="#e3daf0"/>
<rect x="164.13" y="108.25" width="2.05" height="12.30" fill="#9b8cf0"/>
<rect x="166.13" y="108.25" width="2.05" height="12.30" fill="#e3daf0"/>
<rect x="168.14" y="108.25" width="2.05" height="12.30" fill="#f3c5bd"/>
<rect x="170.14" y="108.25" width="2.05" height="12.30" fill="#f3d2ce"/>
<rect x="172.15" y="108.25" width="2.05" height="12.30" fill="#f3b9ac"/>
<rect x="174.16" y="108.25" width="2.05" height="12.30" fill="#f3b9ac"/>
<rect x="176.16" y="108.25" width="2.05" height="12.30" fill="#f3d2ce"/>
<rect x="178.17" y="108.25" width="2.05" height="12.30" fill="#f3d2ce"/>
<rect x="180.17" y="108.25" width="2.05" height="12.30" fill="#e4dbf0"/>
<rect x="182.18" y="108.25" width="2.05" height="12.30" fill="#f2dedf"/>
<rect x="184.19" y="108.25" width="2.05" height="12.30" fill="#f2e9ef"/>
<rect x="186.19" y="108.25" width="2.05" height="12.30" fill="#f49174"/>
<rect x="188.20" y="108.25" width="2.05" height="12.30" fill="#f26c51"/>
<rect x="190.20" y="108.25" width="2.05" height="12.30" fill="#f3795d"/>
<rect x="192.21" y="108.25" width="2.05" height="12.30" fill="#f49377"/>
<rect x="194.22" y="108.25" width="2.05" height="12.30" fill="#f48668"/>
<rect x="196.22" y="108.25" width="2.05" height="12.30" fill="#f49377"/>
<rect x="198.23" y="108.25" width="2.05" height="12.30" fill="#f48668"/>
<rect x="200.23" y="108.25" width="2.05" height="12.30" fill="#f49377"/>
<rect x="202.24" y="108.25" width="2.05" height="12.30" fill="#f48668"/>
<rect x="204.25" y="108.25" width="2.05" height="12.30" fill="#f3ac9a"/>
<rect x="206.25" y="108.25" width="2.05" height="12.30" fill="#f3d2ce"/>
<rect x="208.26" y="108.25" width="2.05" height="12.30" fill="#f2dfe0"/>
<rect x="210.26" y="108.25" width="2.05" height="12.30" fill="#7f6ff0"/>
<rect x="212.27" y="108.25" width="2.05" height="12.30" fill="#5e4fef"/>
<rect x="214.28" y="108.25" width="2.05" height="12.30" fill="#d5cbf0"/>
<rect x="216.28" y="108.25" width="2.05" height="12.30" fill="#f3d2ce"/>
<rect x="218.29" y="108.25" width="2.05" height="12.30" fill="#d6ccf0"/>
<rect x="220.29" y="108.25" width="2.05" height="12.30" fill="#f2eaf0"/>
<rect x="222.30" y="108.25" width="2.05" height="12.30" fill="#f3c5bd"/>
<rect x="224.31" y="108.25" width="2.05" height="12.30" fill="#f3d2ce"/>
<rect x="226.31" y="108.25" width="2.05" height="12.30" fill="#f3ac9a"/>
<rect x="228.32" y="108.25" width="2.05" height="12.30" fill="#f49276"/>
<rect x="230.32" y="108.25" width="2.05" height="12.30" fill="#f2eaf0"/>
<rect x="232.33" y="108.25" width="2.05" height="12.30" fill="#8c7df0"/>
<rect x="234.34" y="108.25" width="2.05" height="12.30" fill="#8e7ef0"/>
<rect x="236.34" y="108.25" width="2.05" height="12.30" fill="#8c7df0"/>
<rect x="238.35" y="108.25" width="2.05" height="12.30" fill="#d5cbf0"/>
<rect x="240.35" y="108.25" width="2.05" height="12.30" fill="#d5cbf0"/>
<rect x="242.36" y="108.25" width="2.05" height="12.30" fill="#7f6ff0"/>
<rect x="244.37" y="108.25" width="2.05" height="12.30" fill="#6859ef"/>
<rect x="246.37" y="108.25" width="2.05" height="12.30" fill="#6859ef"/>
<rect x="248.38" y="108.25" width="2.05" height="12.30" fill="#5d4eef"/>
<rect x="250.38" y="108.25" width="2.05" height="12.30" fill="#4638ef"/>
<rect x="252.39" y="108.25" width="2.05" height="12.30" fill="#6959ef"/>
<rect x="254.40" y="108.25" width="2.05" height="12.30" fill="#8e7ef0"/>
<rect x="256.40" y="108.25" width="2.05" height="12.30" fill="#7464f0"/>
<rect x="258.41" y="108.25" width="2.05" height="12.30" fill="#5d4eef"/>
<rect x="260.41" y="108.25" width="2.05" height="12.30" fill="#4638ef"/>
<rect x="262.42" y="108.25" width="2.05" height="12.30" fill="#5d4eef"/>
<rect x="264.43" y="108.25" width="2.05" height="12.30" fill="#7f6ff0"/>
<rect x="266.43" y="108.25" width="2.05" height="12.30" fill="#e3daf0"/>
<rect x="268.44" y="108.25" width="2.05" height="12.30" fill="#f3d2ce"/>
<rect x="270.44" y="108.25" width="2.05" height="12.30" fill="#f2e9ef"/>
<rect x="272.45" y="108.25" width="2.05" height="12.30" fill="#f49174"/>
<rect x="274.46" y="108.25" width="2.05" height="12.30" fill="#f3795d"/>
<rect x="276.46" y="108.25" width="2.05" height="12.30" fill="#f4a089"/>
<rect x="278.47" y="108.25" width="2.05" height="12.30" fill="#f3c5bd"/>
<rect x="280.47" y="108.25" width="2.05" height="12.30" fill="#b9adf0"/>
<rect x="282.48" y="108.25" width="2.05" height="12.30" fill="#8070f0"/>
<rect x="284.49" y="108.25" width="2.05" height="12.30" fill="#8e7ef0"/>
<rect x="286.49" y="108.25" width="2.05" height="12.30" fill="#8c7df0"/>
<rect x="288.50" y="108.25" width="2.05" height="12.30" fill="#e3daf0"/>
<rect x="290.50" y="108.25" width="2.05" height="12.30" fill="#f2dfe0"/>
<rect x="292.51" y="108.25" width="2.05" height="12.30" fill="#8b7cf0"/>
<rect x="294.52" y="108.25" width="2.05" height="12.30" fill="#6859ef"/>
<rect x="296.52" y="108.25" width="2.05" height="12.30" fill="#7464f0"/>
<rect x="298.53" y="108.25" width="2.05" height="12.30" fill="#8e7ef0"/>
<rect x="300.53" y="108.25" width="2.05" height="12.30" fill="#8c7df0"/>
<rect x="302.54" y="108.25" width="2.05" height="12.30" fill="#b8abf0"/>
<rect x="304.55" y="108.25" width="2.05" height="12.30" fill="#7f6ff0"/>
<rect x="306.55" y="108.25" width="2.05" height="12.30" fill="#6859ef"/>
<rect x="308.56" y="108.25" width="2.05" height="12.30" fill="#7464f0"/>
<rect x="310.56" y="108.25" width="2.05" height="12.30" fill="#ab9df0"/>
<rect x="312.57" y="108.25" width="2.05" height="12.30" fill="#d6ccf0"/>
<rect x="314.58" y="108.25" width="2.05" height="12.30" fill="#ab9df0"/>
<rect x="316.58" y="108.25" width="2.05" height="12.30" fill="#7464f0"/>
<rect x="318.59" y="108.25" width="2.05" height="12.30" fill="#6859ef"/>
<rect x="320.59" y="108.25" width="2.05" height="12.30" fill="#6859ef"/>
<rect x="322.60" y="108.25" width="2.05" height="12.30" fill="#6859ef"/>
</g>
<path d="M20.35,13.90V11.91H22.45V13.90M24.55,13.90V11.83H26.65V13.90M21.40,11.91V10.73H25.60V11.83M32.95,13.90V11.83H35.05V13.90M30.85,13.90V11.27H34.00V11.83M28.75,13.90V10.11H32.95V11.27M23.50,10.73V9.00H31.90V10.11M37.09,13.90V12.10H39.06V13.90M41.03,13.90V12.35H43.00V13.90M38.07,12.10V10.53H42.01V12.35M44.97,13.90V13.22H46.94V13.90M48.91,13.90V13.26H50.89V13.90M45.96,13.22V12.68H49.90V13.26M52.86,13.90V12.77H54.83V13.90M47.93,12.68V12.38H53.84V12.77M56.80,13.90V12.85H58.77V13.90M60.74,13.90V13.06H62.71V13.90M57.79,12.85V12.53H61.73V13.06M49.90,12.38V11.40H59.76V12.53M40.04,10.53V8.60H53.84V11.40M64.76,13.90V11.24H66.88V13.90M71.12,13.90V11.20H73.24V13.90M69.00,13.90V10.20H72.18V11.20M65.82,11.24V9.20H71.12V10.20M75.28,13.90V12.82H77.25V13.90M81.19,13.90V12.73H83.16V13.90M79.22,13.90V12.34H82.18V12.73M76.27,12.82V11.92H81.19V12.34M85.13,13.90V12.60H87.10V13.90M89.07,13.90V12.17H91.04V13.90M86.12,12.60V11.50H90.06V12.17M79.22,11.92V9.87H88.09V11.50M93.01,13.90V13.52H94.98V13.90M94.00,13.52V13.38H96.95V13.90M98.92,13.90V13.39H100.89V13.90M94.98,13.38V12.88H99.90V13.39M102.86,13.90V13.26H104.83V13.90M103.84,13.26V12.83H106.80V13.90M96.95,12.88V12.26H104.83V12.83M108.77,13.90V13.39H110.74V13.90M109.75,13.39V12.97H112.71V13.90M114.68,13.90V12.95H116.65V13.90M115.66,12.95V12.63H118.62V13.90M110.74,12.97V12.18H116.65V12.63M99.90,12.26V11.07H113.69V12.18M83.16,9.87V8.20H105.81V11.07M27.70,9.00V7.40H49.90V8.60M69.00,9.20V5.90H96.95V8.20M38.80,7.40V2.50H82.97V5.90M123.00,13.90V13.03H125.00V13.90M124.00,13.03V12.15H127.00V13.90M131.00,13.90V13.11H133.00V13.90M132.00,13.11V12.90H135.00V13.90M129.00,13.90V12.60H133.00V12.90M139.00,13.90V13.43H141.00V13.90M137.00,13.90V12.91H140.00V13.43M132.00,12.60V11.91H139.00V12.91M125.00,12.15V10.47H135.00V11.91M143.00,13.90V13.39H145.00V13.90M147.00,13.90V13.33H149.00V13.90M144.00,13.39V13.03H148.00V13.33M151.00,13.90V13.15H153.00V13.90M146.00,13.03V12.75H152.00V13.15M157.00,13.90V13.46H159.00V13.90M155.00,13.90V12.99H158.00V13.46M148.00,12.75V12.38H157.00V12.99M161.00,13.90V12.93H163.00V13.90M165.00,13.90V12.63H167.00V13.90M162.00,12.93V12.07H166.00V12.63M151.00,12.38V11.24H164.00V12.07M169.00,13.90V13.34H171.00V13.90M170.00,13.34V12.91H173.00V13.90M175.00,13.90V13.03H177.00V13.90M171.00,12.91V12.45H176.00V13.03M179.00,13.90V13.11H181.00V13.90M183.00,13.90V13.20H185.00V13.90M180.00,13.11V12.48H184.00V13.20M173.00,12.45V11.12H182.00V12.48M155.00,11.24V10.08H177.00V11.12M132.00,10.47V7.60H164.00V10.08M186.99,13.90V11.77H188.96V13.90M192.92,13.90V13.22H194.89V13.90M190.94,13.90V12.44H193.91V13.22M192.92,12.44V11.50H196.87V13.90M187.98,11.77V10.31H193.91V11.50M200.82,13.90V13.59H202.80V13.90M198.85,13.90V13.22H201.81V13.59M204.78,13.90V13.10H206.75V13.90M208.73,13.90V13.04H210.71V13.90M205.76,13.10V12.81H209.72V13.04M200.82,13.22V12.43H207.74V12.81M212.68,13.90V13.08H214.66V13.90M216.64,13.90V13.03H218.61V13.90M213.67,13.08V12.30H217.62V13.03M204.78,12.43V10.68H215.65V12.30M191.93,10.31V8.00H208.73V10.68M220.61,13.90V12.47H222.64V13.90M224.67,13.90V13.03H226.70V13.90M225.69,13.03V12.23H228.73V13.90M221.63,12.47V11.70H226.70V12.23M230.76,13.90V11.97H232.79V13.90M234.82,13.90V12.36H236.85V13.90M238.88,13.90V12.40H240.91V13.90M235.84,12.36V11.90H239.90V12.40M231.78,11.97V11.37H237.87V11.90M224.67,11.70V10.61H235.84V11.37M242.94,13.90V12.20H244.97V13.90M247.00,13.90V13.35H249.03V13.90M251.06,13.90V13.35H253.09V13.90M248.01,13.35V12.80H252.07V13.35M243.96,12.20V11.58H250.04V12.80M230.76,10.61V9.22H248.01V11.58M255.12,13.90V13.41H257.15V13.90M259.18,13.90V13.32H261.21V13.90M256.13,13.41V13.12H260.19V13.32M263.24,13.90V13.12H265.27V13.90M264.25,13.12V12.91H267.30V13.90M258.16,13.12V12.49H265.27V12.91M269.33,13.90V12.88H271.36V13.90M270.34,12.88V12.35H273.39V13.90M261.21,12.49V10.97H271.36V12.35M236.85,9.22V7.80H264.25V10.97M275.40,13.90V12.95H277.41V13.90M279.42,13.90V13.14H281.43V13.90M276.41,12.95V12.36H280.42V13.14M283.44,13.90V13.36H285.44V13.90M284.44,13.36V12.73H287.45V13.90M289.46,13.90V13.15H291.47V13.90M285.44,12.73V12.39H290.46V13.15M278.42,12.36V11.94H287.45V12.39M293.48,13.90V13.22H295.48V13.90M297.49,13.90V13.07H299.50V13.90M294.48,13.22V12.60H298.50V13.07M301.51,13.90V12.78H303.52V13.90M302.51,12.78V12.24H305.52V13.90M296.49,12.60V11.26H303.52V12.24M283.44,11.94V9.76H299.50V11.26M307.53,13.90V13.07H309.54V13.90M308.54,13.07V12.32H311.55V13.90M309.54,12.32V11.08H313.56V13.90M315.56,13.90V12.96H317.57V13.90M316.57,12.96V12.32H319.58V13.90M321.59,13.90V12.49H323.60V13.90M317.57,12.32V10.98H322.59V12.49M310.54,11.08V9.92H319.58V10.98M290.46,9.76V7.50H315.56V9.92M154.00,7.60V4.80H202.80V8.00M247.00,7.80V5.20H299.50V7.50M178.40,4.80V1.80H273.25V5.20" fill="none" stroke="#2a2a2a" stroke-width="0.6"/>
<text x="3.0" y="11.6" font-size="11.5" text-anchor="start" font-weight="bold" fill="#000" >A</text>
<text x="327" y="21.6" font-size="8.1" text-anchor="start" fill="#1a1a1a" >St3gal3 level</text>
<text x="327" y="32.3" font-size="8.1" text-anchor="start" fill="#1a1a1a" >DDIR</text>
<text x="327" y="44.55" font-size="8.1" text-anchor="start" fill="#1a1a1a" >ATRBRCA&#160; pathway<tspan font-size="8.5" dy="-1.8" font-weight="bold">&#8226;&#8226;&#8226;</tspan></text>
<text x="327" y="56.8" font-size="8.1" text-anchor="start" fill="#1a1a1a" >VEGF VEGFR pathway<tspan font-size="8.5" dy="-1.8" font-weight="bold">&#8226;&#8226;&#8226;</tspan></text>
<text x="327" y="69.05" font-size="8.1" text-anchor="start" fill="#1a1a1a" >VEGF signaling pathway<tspan font-size="8.5" dy="-1.8" font-weight="bold">&#8226;&#8226;&#8226;</tspan></text>
<text x="327" y="81.3" font-size="8.1" text-anchor="start" fill="#1a1a1a" >Antigen-presenting machinary<tspan font-size="8.5" dy="-1.8" font-weight="bold">&#8226;</tspan></text>
<text x="327" y="93.55" font-size="8.1" text-anchor="start" fill="#1a1a1a" >Immune checkpoint</text>
<text x="327" y="105.8" font-size="8.1" text-anchor="start" fill="#1a1a1a" >IFN&#947; signature<tspan font-size="8.5" dy="-1.8" font-weight="bold">&#8226;</tspan></text>
<text x="327" y="118.05" font-size="8.1" text-anchor="start" fill="#1a1a1a" >PD&#8722;L1</text>
<text x="441.5" y="13.2" font-size="8.1" text-anchor="start" fill="#1a1a1a" >St3gal3 level</text>
<rect x="441.6" y="19.6" width="6.2" height="5.4" fill="#4fb3cf"/>
<text x="448.4" y="25.0" font-size="8.1" text-anchor="start" fill="#1a1a1a" >Low</text>
<rect x="441.6" y="30.0" width="6.2" height="5.4" fill="#e0503a"/>
<text x="448.4" y="35.5" font-size="8.1" text-anchor="start" fill="#1a1a1a" >High</text>
<text x="442.3" y="48.6" font-size="8.1" fill="#1a1a1a"><tspan font-style="italic">Z</tspan> score</text>
<defs><linearGradient id="zg" x1="0" y1="0" x2="0" y2="1"><stop offset="0" stop-color="#ff0000"/><stop offset="0.5" stop-color="#f4f0f4"/><stop offset="1" stop-color="#0000ff"/></linearGradient></defs>
<rect x="442.8" y="53.0" width="12.6" height="64.6" fill="url(#zg)"/>
<line x1="442.8" y1="54.9" x2="445.3" y2="54.9" stroke="#fff" stroke-width="0.7"/>
<line x1="452.9" y1="54.9" x2="455.4" y2="54.9" stroke="#fff" stroke-width="0.7"/>
<text x="458.3" y="57.9" font-size="8.3" text-anchor="start" fill="#1a1a1a" >2</text>
<line x1="442.8" y1="70.15" x2="445.3" y2="70.15" stroke="#fff" stroke-width="0.7"/>
<line x1="452.9" y1="70.15" x2="455.4" y2="70.15" stroke="#fff" stroke-width="0.7"/>
<text x="458.3" y="73.15" font-size="8.3" text-anchor="start" fill="#1a1a1a" >1</text>
<line x1="442.8" y1="85.4" x2="445.3" y2="85.4" stroke="#fff" stroke-width="0.7"/>
<line x1="452.9" y1="85.4" x2="455.4" y2="85.4" stroke="#fff" stroke-width="0.7"/>
<text x="458.3" y="88.4" font-size="8.3" text-anchor="start" fill="#1a1a1a" >0</text>
<line x1="442.8" y1="100.65" x2="445.3" y2="100.65" stroke="#fff" stroke-width="0.7"/>
<line x1="452.9" y1="100.65" x2="455.4" y2="100.65" stroke="#fff" stroke-width="0.7"/>
<text x="457.2" y="103.65" font-size="8.3" text-anchor="start" fill="#1a1a1a" >&#8722;1</text>
<line x1="442.8" y1="115.9" x2="445.3" y2="115.9" stroke="#fff" stroke-width="0.7"/>
<line x1="452.9" y1="115.9" x2="455.4" y2="115.9" stroke="#fff" stroke-width="0.7"/>
<text x="457.2" y="118.9" font-size="8.3" text-anchor="start" fill="#1a1a1a" >&#8722;2</text>
<text x="92.0" y="140.4" font-size="8.2" text-anchor="middle" fill="#1a1a1a" >ICON7 trial (Low St3gal3)</text>
<line x1="25.1" y1="148.3" x2="25.1" y2="219.3" stroke="#111" stroke-width="0.95"/>
<line x1="24.650000000000002" y1="218.9" x2="159.7" y2="218.9" stroke="#111" stroke-width="0.95"/>
<line x1="22.5" y1="151.3" x2="25.1" y2="151.3" stroke="#111" stroke-width="0.85"/>
<text x="21.1" y="153.4" font-size="6.0" text-anchor="end" fill="#1a1a1a" >100</text>
<line x1="22.5" y1="164.44" x2="25.1" y2="164.44" stroke="#111" stroke-width="0.85"/>
<text x="21.1" y="166.54" font-size="6.0" text-anchor="end" fill="#1a1a1a" >80</text>
<line x1="22.5" y1="177.58" x2="25.1" y2="177.58" stroke="#111" stroke-width="0.85"/>
<text x="21.1" y="179.68" font-size="6.0" text-anchor="end" fill="#1a1a1a" >60</text>
<line x1="22.5" y1="190.72" x2="25.1" y2="190.72" stroke="#111" stroke-width="0.85"/>
<text x="21.1" y="192.82" font-size="6.0" text-anchor="end" fill="#1a1a1a" >40</text>
<line x1="22.5" y1="203.86" x2="25.1" y2="203.86" stroke="#111" stroke-width="0.85"/>
<text x="21.1" y="205.96" font-size="6.0" text-anchor="end" fill="#1a1a1a" >20</text>
<line x1="22.5" y1="217.0" x2="25.1" y2="217.0" stroke="#111" stroke-width="0.85"/>
<text x="21.1" y="219.1" font-size="6.0" text-anchor="end" fill="#1a1a1a" >0</text>
<line x1="28.2" y1="218.9" x2="28.2" y2="221.3" stroke="#111" stroke-width="0.85"/>
<text x="28.2" y="227.2" font-size="6.0" text-anchor="middle" fill="#1a1a1a" >0</text>
<line x1="54.3" y1="218.9" x2="54.3" y2="221.3" stroke="#111" stroke-width="0.85"/>
<text x="54.3" y="227.2" font-size="6.0" text-anchor="middle" fill="#1a1a1a" >10</text>
<line x1="80.39999999999999" y1="218.9" x2="80.39999999999999" y2="221.3" stroke="#111" stroke-width="0.85"/>
<text x="80.39999999999999" y="227.2" font-size="6.0" text-anchor="middle" fill="#1a1a1a" >20</text>
<line x1="106.5" y1="218.9" x2="106.5" y2="221.3" stroke="#111" stroke-width="0.85"/>
<text x="106.5" y="227.2" font-size="6.0" text-anchor="middle" fill="#1a1a1a" >30</text>
<line x1="132.6" y1="218.9" x2="132.6" y2="221.3" stroke="#111" stroke-width="0.85"/>
<text x="132.6" y="227.2" font-size="6.0" text-anchor="middle" fill="#1a1a1a" >40</text>
<line x1="158.7" y1="218.9" x2="158.7" y2="221.3" stroke="#111" stroke-width="0.85"/>
<text x="158.7" y="227.2" font-size="6.0" text-anchor="middle" fill="#1a1a1a" >50</text>
<text x="7.300000000000001" y="183.95000000000002" font-size="8.3" text-anchor="middle" fill="#1a1a1a" transform="rotate(-90 7.300000000000001 183.95000000000002)">Overall survival (%)</text>
<polyline points="28.20,151.30 39.68,151.30 39.68,152.61 53.52,152.61 53.52,154.78 58.21,154.78 58.21,157.08 61.61,157.08 61.61,160.63 75.44,160.63 75.44,164.05 78.83,164.05 78.83,167.20 96.32,167.20 96.32,169.89 105.46,169.89 105.46,174.23 115.90,174.23 115.90,180.41 133.64,180.41 133.64,180.41" fill="none" stroke="#d9322e" stroke-width="1.25" stroke-linejoin="miter"/>
<polyline points="28.20,151.30 48.82,151.30 48.82,152.61 63.96,152.61 63.96,154.78 72.05,154.78 72.05,157.08 78.83,157.08 78.83,159.45 92.67,159.45 92.67,162.40 95.02,162.40 95.02,168.91 99.71,168.91 99.71,174.23 134.43,174.23 134.43,174.23" fill="none" stroke="#2a3590" stroke-width="1.25" stroke-linejoin="miter"/>
<text x="40.400000000000006" y="200.4" font-size="8.3" fill="#1a1a1a"><tspan font-style="italic">P</tspan> = 0.550</text>
<line x1="31.1" y1="206.9" x2="39.5" y2="206.9" stroke="#2a3590" stroke-width="1.1"/>
<text x="39.5" y="209.6" font-size="8.3" text-anchor="start" fill="#1a1a1a" >Chemo + Bev</text>
<line x1="31.1" y1="213.2" x2="39.5" y2="213.2" stroke="#d9322e" stroke-width="1.1"/>
<text x="39.5" y="215.8" font-size="8.3" text-anchor="start" fill="#1a1a1a" >Chemo</text>
<text x="93.95" y="237.8" font-size="8.2" text-anchor="middle" fill="#1a1a1a" >Months after surgery</text>
<text x="14.8" y="247.0" font-size="8.2" text-anchor="start" fill="#1a1a1a" >Number at risk</text>
<line x1="16.1" y1="254.1" x2="22.6" y2="254.1" stroke="#2a3590" stroke-width="0.9"/>
<line x1="16.1" y1="263.7" x2="22.6" y2="263.7" stroke="#d9322e" stroke-width="0.9"/>
<text x="29.4" y="255.9" font-size="6.0" text-anchor="middle" fill="#1a1a1a" >34</text>
<text x="55.5" y="255.9" font-size="6.0" text-anchor="middle" fill="#1a1a1a" >32</text>
<text x="81.6" y="255.9" font-size="6.0" text-anchor="middle" fill="#1a1a1a" >27</text>
<text x="107.7" y="255.9" font-size="6.0" text-anchor="middle" fill="#1a1a1a" >8</text>
<text x="133.79999999999998" y="255.9" font-size="6.0" text-anchor="middle" fill="#1a1a1a" >1</text>
<text x="159.89999999999998" y="255.9" font-size="6.0" text-anchor="middle" fill="#1a1a1a" >0</text>
<text x="29.4" y="265.3" font-size="6.0" text-anchor="middle" fill="#1a1a1a" >36</text>
<text x="55.5" y="265.3" font-size="6.0" text-anchor="middle" fill="#1a1a1a" >34</text>
<text x="81.6" y="265.3" font-size="6.0" text-anchor="middle" fill="#1a1a1a" >23</text>
<text x="107.7" y="265.3" font-size="6.0" text-anchor="middle" fill="#1a1a1a" >12</text>
<text x="133.79999999999998" y="265.3" font-size="6.0" text-anchor="middle" fill="#1a1a1a" >1</text>
<text x="159.89999999999998" y="265.3" font-size="6.0" text-anchor="middle" fill="#1a1a1a" >0</text>
<text x="260.5" y="140.4" font-size="8.2" text-anchor="middle" fill="#1a1a1a" >ICON7 trial (High St3gal3)</text>
<line x1="194.5" y1="148.3" x2="194.5" y2="219.3" stroke="#111" stroke-width="0.95"/>
<line x1="194.05" y1="218.9" x2="328.5" y2="218.9" stroke="#111" stroke-width="0.95"/>
<line x1="191.9" y1="151.3" x2="194.5" y2="151.3" stroke="#111" stroke-width="0.85"/>
<text x="190.5" y="153.4" font-size="6.0" text-anchor="end" fill="#1a1a1a" >100</text>
<line x1="191.9" y1="164.44" x2="194.5" y2="164.44" stroke="#111" stroke-width="0.85"/>
<text x="190.5" y="166.54" font-size="6.0" text-anchor="end" fill="#1a1a1a" >80</text>
<line x1="191.9" y1="177.58" x2="194.5" y2="177.58" stroke="#111" stroke-width="0.85"/>
<text x="190.5" y="179.68" font-size="6.0" text-anchor="end" fill="#1a1a1a" >60</text>
<line x1="191.9" y1="190.72" x2="194.5" y2="190.72" stroke="#111" stroke-width="0.85"/>
<text x="190.5" y="192.82" font-size="6.0" text-anchor="end" fill="#1a1a1a" >40</text>
<line x1="191.9" y1="203.86" x2="194.5" y2="203.86" stroke="#111" stroke-width="0.85"/>
<text x="190.5" y="205.96" font-size="6.0" text-anchor="end" fill="#1a1a1a" >20</text>
<line x1="191.9" y1="217.0" x2="194.5" y2="217.0" stroke="#111" stroke-width="0.85"/>
<text x="190.5" y="219.1" font-size="6.0" text-anchor="end" fill="#1a1a1a" >0</text>
<line x1="197.0" y1="218.9" x2="197.0" y2="221.3" stroke="#111" stroke-width="0.85"/>
<text x="197.0" y="227.2" font-size="6.0" text-anchor="middle" fill="#1a1a1a" >0</text>
<line x1="223.1" y1="218.9" x2="223.1" y2="221.3" stroke="#111" stroke-width="0.85"/>
<text x="223.1" y="227.2" font-size="6.0" text-anchor="middle" fill="#1a1a1a" >10</text>
<line x1="249.2" y1="218.9" x2="249.2" y2="221.3" stroke="#111" stroke-width="0.85"/>
<text x="249.2" y="227.2" font-size="6.0" text-anchor="middle" fill="#1a1a1a" >20</text>
<line x1="275.3" y1="218.9" x2="275.3" y2="221.3" stroke="#111" stroke-width="0.85"/>
<text x="275.3" y="227.2" font-size="6.0" text-anchor="middle" fill="#1a1a1a" >30</text>
<line x1="301.4" y1="218.9" x2="301.4" y2="221.3" stroke="#111" stroke-width="0.85"/>
<text x="301.4" y="227.2" font-size="6.0" text-anchor="middle" fill="#1a1a1a" >40</text>
<line x1="327.5" y1="218.9" x2="327.5" y2="221.3" stroke="#111" stroke-width="0.85"/>
<text x="327.5" y="227.2" font-size="6.0" text-anchor="middle" fill="#1a1a1a" >50</text>
<text x="176.7" y="183.95000000000002" font-size="8.3" text-anchor="middle" fill="#1a1a1a" transform="rotate(-90 176.7 183.95000000000002)">Overall survival (%)</text>
<polyline points="197.00,151.30 212.66,151.30 212.66,152.29 220.23,152.29 220.23,153.99 227.01,153.99 227.01,156.29 239.54,156.29 239.54,157.41 244.24,157.41 244.24,159.32 248.16,159.32 248.16,161.48 250.77,161.48 250.77,163.19 253.12,163.19 253.12,166.08 255.20,166.08 255.20,167.79 257.55,167.79 257.55,170.02 261.21,170.02 261.21,172.46 263.29,172.46 263.29,175.61 264.60,175.61 264.60,178.17 265.64,178.17 265.64,180.08 275.82,180.08 275.82,180.08 279.21,180.08 279.21,185.20 291.74,185.20 291.74,185.20 293.05,185.20 293.05,190.19 303.23,190.19 303.23,190.19" fill="none" stroke="#d9322e" stroke-width="1.25" stroke-linejoin="miter"/>
<polyline points="197.00,151.30 209.53,151.30 209.53,151.96 218.40,151.96 218.40,152.88 229.62,152.88 229.62,153.93 237.19,153.93 237.19,155.18 247.63,155.18 247.63,156.82 252.85,156.82 252.85,159.51 266.16,159.51 266.16,161.29 280.00,161.29 280.00,164.31 308.45,164.31 308.45,164.31" fill="none" stroke="#2a3590" stroke-width="1.25" stroke-linejoin="miter"/>
<text x="209.8" y="200.4" font-size="8.3" fill="#1a1a1a"><tspan font-style="italic">P</tspan> = 0.001</text>
<line x1="200.5" y1="206.9" x2="208.9" y2="206.9" stroke="#2a3590" stroke-width="1.1"/>
<text x="208.9" y="209.6" font-size="8.3" text-anchor="start" fill="#1a1a1a" >Chemo + Bev</text>
<line x1="200.5" y1="213.2" x2="208.9" y2="213.2" stroke="#d9322e" stroke-width="1.1"/>
<text x="208.9" y="215.8" font-size="8.3" text-anchor="start" fill="#1a1a1a" >Chemo</text>
<text x="262.75" y="237.8" font-size="8.2" text-anchor="middle" fill="#1a1a1a" >Months after surgery</text>
<text x="184.2" y="247.0" font-size="8.2" text-anchor="start" fill="#1a1a1a" >Number at risk</text>
<line x1="185.5" y1="254.1" x2="192.0" y2="254.1" stroke="#2a3590" stroke-width="0.9"/>
<line x1="185.5" y1="263.7" x2="192.0" y2="263.7" stroke="#d9322e" stroke-width="0.9"/>
<text x="198.2" y="255.9" font-size="6.0" text-anchor="middle" fill="#1a1a1a" >75</text>
<text x="224.29999999999998" y="255.9" font-size="6.0" text-anchor="middle" fill="#1a1a1a" >71</text>
<text x="250.39999999999998" y="255.9" font-size="6.0" text-anchor="middle" fill="#1a1a1a" >62</text>
<text x="276.5" y="255.9" font-size="6.0" text-anchor="middle" fill="#1a1a1a" >26</text>
<text x="302.59999999999997" y="255.9" font-size="6.0" text-anchor="middle" fill="#1a1a1a" >3</text>
<text x="328.7" y="255.9" font-size="6.0" text-anchor="middle" fill="#1a1a1a" >0</text>
<text x="198.2" y="265.3" font-size="6.0" text-anchor="middle" fill="#1a1a1a" >66</text>
<text x="224.29999999999998" y="265.3" font-size="6.0" text-anchor="middle" fill="#1a1a1a" >57</text>
<text x="250.39999999999998" y="265.3" font-size="6.0" text-anchor="middle" fill="#1a1a1a" >50</text>
<text x="276.5" y="265.3" font-size="6.0" text-anchor="middle" fill="#1a1a1a" >16</text>
<text x="302.59999999999997" y="265.3" font-size="6.0" text-anchor="middle" fill="#1a1a1a" >2</text>
<text x="328.7" y="265.3" font-size="6.0" text-anchor="middle" fill="#1a1a1a" >0</text>
<path d="M120.6,269.3V271.8H220.8V269.3" fill="none" stroke="#111" stroke-width="0.9"/>
<text x="175" y="279.6" font-size="8.2" text-anchor="middle" fill="#1a1a1a"><tspan font-style="italic">P</tspan> = 0.006</text>
<text x="2.0" y="138.8" font-size="11.5" text-anchor="start" font-weight="bold" fill="#000" >B</text>
<line x1="375.8" y1="136.8" x2="375.8" y2="238.54999999999998" stroke="#111" stroke-width="0.9"/>
<line x1="375.35" y1="238.1" x2="435.8" y2="238.1" stroke="#111" stroke-width="0.9"/>
<line x1="372.0" y1="238.1" x2="375.8" y2="238.1" stroke="#111" stroke-width="0.85"/>
<text x="370.40000000000003" y="240.79999999999998" font-size="7.6" text-anchor="end" fill="#1a1a1a" >0</text>
<line x1="372.0" y1="212.9" x2="375.8" y2="212.9" stroke="#111" stroke-width="0.85"/>
<text x="370.40000000000003" y="215.6" font-size="7.6" text-anchor="end" fill="#1a1a1a" >25</text>
<line x1="372.0" y1="187.7" x2="375.8" y2="187.7" stroke="#111" stroke-width="0.85"/>
<text x="370.40000000000003" y="190.39999999999998" font-size="7.6" text-anchor="end" fill="#1a1a1a" >50</text>
<line x1="372.0" y1="162.5" x2="375.8" y2="162.5" stroke="#111" stroke-width="0.85"/>
<text x="370.40000000000003" y="165.2" font-size="7.6" text-anchor="end" fill="#1a1a1a" >75</text>
<line x1="372.0" y1="137.3" x2="375.8" y2="137.3" stroke="#111" stroke-width="0.85"/>
<text x="370.40000000000003" y="140.0" font-size="7.6" text-anchor="end" fill="#1a1a1a" >100</text>
<line x1="386.0" y1="238.1" x2="386.0" y2="240.9" stroke="#111" stroke-width="0.8"/>
<line x1="401.2" y1="238.1" x2="401.2" y2="240.9" stroke="#111" stroke-width="0.8"/>
<line x1="409.4" y1="238.1" x2="409.4" y2="240.9" stroke="#111" stroke-width="0.8"/>
<line x1="424.9" y1="238.1" x2="424.9" y2="240.9" stroke="#111" stroke-width="0.8"/>
<text x="390.0" y="247.7" font-size="7.8" text-anchor="end" fill="#1a1a1a" transform="rotate(-45 390.0 247.7)">IgG</text>
<text x="405.2" y="247.7" font-size="7.8" text-anchor="end" fill="#1a1a1a" transform="rotate(-45 405.2 247.7)">Dual ICB</text>
<text x="413.4" y="247.7" font-size="7.8" text-anchor="end" fill="#1a1a1a" transform="rotate(-45 413.4 247.7)">IgG</text>
<text x="428.9" y="247.7" font-size="7.8" text-anchor="end" fill="#1a1a1a" transform="rotate(-45 428.9 247.7)">Dual ICB</text>
<text x="352.5" y="185.0" font-size="8.4" text-anchor="middle" fill="#1a1a1a" transform="rotate(-90 352.5 185.0)">Percentage of IFN&#947;<tspan dy="-3.6" font-size="6.2">+</tspan><tspan dy="3.6"> in CD8</tspan><tspan dy="-3.6" font-size="6.2">+</tspan></text>
<line x1="386.0" y1="181.652" x2="401.2" y2="153.428" stroke="#111" stroke-width="1.1"/>
<line x1="386.0" y1="189.716" x2="401.2" y2="165.524" stroke="#111" stroke-width="1.1"/>
<line x1="386.0" y1="198.788" x2="401.2" y2="190.724" stroke="#111" stroke-width="1.1"/>
<line x1="386.0" y1="232.052" x2="401.2" y2="221.97199999999998" stroke="#111" stroke-width="1.1"/>
<line x1="386.0" y1="232.052" x2="401.2" y2="227.012" stroke="#111" stroke-width="1.1"/>
<line x1="409.4" y1="221.97199999999998" x2="409.4" y2="238.1" stroke="#3fb8cf" stroke-width="1.0"/>
<line x1="409.4" y1="221.97199999999998" x2="424.9" y2="208.868" stroke="#111" stroke-width="1.1"/>
<line x1="409.4" y1="229.028" x2="424.9" y2="221.97199999999998" stroke="#111" stroke-width="1.1"/>
<line x1="409.4" y1="227.012" x2="424.9" y2="222.98" stroke="#111" stroke-width="1.1"/>
<line x1="409.4" y1="231.04399999999998" x2="424.9" y2="223.988" stroke="#111" stroke-width="1.1"/>
<line x1="409.4" y1="226.004" x2="424.9" y2="228.01999999999998" stroke="#111" stroke-width="1.1"/>
<line x1="409.4" y1="233.06" x2="424.9" y2="227.012" stroke="#111" stroke-width="1.1"/>
<line x1="409.4" y1="235.076" x2="424.9" y2="232.052" stroke="#111" stroke-width="1.1"/>
<line x1="409.4" y1="237.09199999999998" x2="424.9" y2="230.036" stroke="#111" stroke-width="1.1"/>
<line x1="409.4" y1="228.01999999999998" x2="424.9" y2="236.084" stroke="#111" stroke-width="1.1"/>
<line x1="409.4" y1="223.988" x2="424.9" y2="226.004" stroke="#111" stroke-width="1.1"/>
<circle cx="386.0" cy="181.65" r="0.7" fill="#3fb8cf"/>
<circle cx="386.0" cy="189.72" r="0.7" fill="#3fb8cf"/>
<circle cx="386.0" cy="198.79" r="0.7" fill="#3fb8cf"/>
<circle cx="386.0" cy="232.05" r="0.7" fill="#3fb8cf"/>
<circle cx="386.0" cy="232.05" r="0.7" fill="#3fb8cf"/>
<text x="375.8" y="134.8" font-size="7.9" fill="#1a1a1a"><tspan font-style="italic">P</tspan> = 0.041</text>
<path d="M384.4,139.3V137.6H402.6V139.3" fill="none" stroke="#111" stroke-width="0.9"/>
<path d="M411.0,139.3V137.6H429.8V139.3" fill="none" stroke="#111" stroke-width="0.9"/>
<text x="420.4" y="134.8" font-size="7.9" text-anchor="middle" fill="#1a1a1a" >n.s.</text>
<path d="M369.2,268.8V270.6H392.6V268.8" fill="none" stroke="#111" stroke-width="0.9"/>
<path d="M396.6,268.8V270.6H419.0V268.8" fill="none" stroke="#111" stroke-width="0.9"/>
<text x="380.9" y="281.0" font-size="8.2" text-anchor="middle" fill="#1a1a1a" >Low</text>
<text x="407.8" y="281.0" font-size="8.2" text-anchor="middle" fill="#1a1a1a" >High</text>
<line x1="464.6" y1="136.8" x2="464.6" y2="238.54999999999998" stroke="#111" stroke-width="0.9"/>
<line x1="464.15000000000003" y1="238.1" x2="518.0" y2="238.1" stroke="#111" stroke-width="0.9"/>
<line x1="460.8" y1="238.1" x2="464.6" y2="238.1" stroke="#111" stroke-width="0.85"/>
<text x="459.20000000000005" y="240.79999999999998" font-size="7.6" text-anchor="end" fill="#1a1a1a" >0</text>
<line x1="460.8" y1="212.9" x2="464.6" y2="212.9" stroke="#111" stroke-width="0.85"/>
<text x="459.20000000000005" y="215.6" font-size="7.6" text-anchor="end" fill="#1a1a1a" >25</text>
<line x1="460.8" y1="187.7" x2="464.6" y2="187.7" stroke="#111" stroke-width="0.85"/>
<text x="459.20000000000005" y="190.39999999999998" font-size="7.6" text-anchor="end" fill="#1a1a1a" >50</text>
<line x1="460.8" y1="162.5" x2="464.6" y2="162.5" stroke="#111" stroke-width="0.85"/>
<text x="459.20000000000005" y="165.2" font-size="7.6" text-anchor="end" fill="#1a1a1a" >75</text>
<line x1="460.8" y1="137.3" x2="464.6" y2="137.3" stroke="#111" stroke-width="0.85"/>
<text x="459.20000000000005" y="140.0" font-size="7.6" text-anchor="end" fill="#1a1a1a" >100</text>
<line x1="473.3" y1="238.1" x2="473.3" y2="240.9" stroke="#111" stroke-width="0.8"/>
<line x1="487.1" y1="238.1" x2="487.1" y2="240.9" stroke="#111" stroke-width="0.8"/>
<line x1="495.7" y1="238.1" x2="495.7" y2="240.9" stroke="#111" stroke-width="0.8"/>
<line x1="509.2" y1="238.1" x2="509.2" y2="240.9" stroke="#111" stroke-width="0.8"/>
<text x="477.3" y="247.7" font-size="7.8" text-anchor="end" fill="#1a1a1a" transform="rotate(-45 477.3 247.7)">IgG</text>
<text x="491.1" y="247.7" font-size="7.8" text-anchor="end" fill="#1a1a1a" transform="rotate(-45 491.1 247.7)">Dual ICB</text>
<text x="499.7" y="247.7" font-size="7.8" text-anchor="end" fill="#1a1a1a" transform="rotate(-45 499.7 247.7)">IgG</text>
<text x="513.2" y="247.7" font-size="7.8" text-anchor="end" fill="#1a1a1a" transform="rotate(-45 513.2 247.7)">Dual ICB</text>
<text x="444.0" y="185.0" font-size="8.4" text-anchor="middle" fill="#1a1a1a" transform="rotate(-90 444.0 185.0)">Percentage of TNF&#945;<tspan dy="-3.6" font-size="6.2">+</tspan><tspan dy="3.6"> in CD8</tspan><tspan dy="-3.6" font-size="6.2">+</tspan></text>
<line x1="473.3" y1="198.788" x2="487.1" y2="172.57999999999998" stroke="#111" stroke-width="1.1"/>
<line x1="473.3" y1="194.756" x2="487.1" y2="185.684" stroke="#111" stroke-width="1.1"/>
<line x1="473.3" y1="195.764" x2="487.1" y2="190.724" stroke="#111" stroke-width="1.1"/>
<line x1="473.3" y1="223.988" x2="487.1" y2="210.884" stroke="#111" stroke-width="1.1"/>
<line x1="473.3" y1="215.92399999999998" x2="487.1" y2="211.892" stroke="#111" stroke-width="1.1"/>
<line x1="495.7" y1="220.964" x2="495.7" y2="238.1" stroke="#3fb8cf" stroke-width="1.0"/>
<line x1="495.7" y1="211.892" x2="509.2" y2="211.892" stroke="#111" stroke-width="1.1"/>
<line x1="495.7" y1="228.01999999999998" x2="509.2" y2="220.964" stroke="#111" stroke-width="1.1"/>
<line x1="495.7" y1="220.964" x2="509.2" y2="227.012" stroke="#111" stroke-width="1.1"/>
<line x1="495.7" y1="232.052" x2="509.2" y2="224.492" stroke="#111" stroke-width="1.1"/>
<line x1="495.7" y1="234.06799999999998" x2="509.2" y2="230.036" stroke="#111" stroke-width="1.1"/>
<line x1="495.7" y1="236.084" x2="509.2" y2="234.06799999999998" stroke="#111" stroke-width="1.1"/>
<line x1="495.7" y1="237.09199999999998" x2="509.2" y2="236.084" stroke="#111" stroke-width="1.1"/>
<line x1="495.7" y1="235.076" x2="509.2" y2="232.052" stroke="#111" stroke-width="1.1"/>
<line x1="495.7" y1="233.06" x2="509.2" y2="235.076" stroke="#111" stroke-width="1.1"/>
<line x1="495.7" y1="237.596" x2="509.2" y2="237.09199999999998" stroke="#111" stroke-width="1.1"/>
<circle cx="473.3" cy="198.79" r="0.7" fill="#3fb8cf"/>
<circle cx="473.3" cy="194.76" r="0.7" fill="#3fb8cf"/>
<circle cx="473.3" cy="195.76" r="0.7" fill="#3fb8cf"/>
<circle cx="473.3" cy="223.99" r="0.7" fill="#3fb8cf"/>
<circle cx="473.3" cy="215.92" r="0.7" fill="#3fb8cf"/>
<text x="464.6" y="134.8" font-size="7.9" fill="#1a1a1a"><tspan font-style="italic">P</tspan> = 0.033</text>
<path d="M472.9,139.3V137.6H489.7V139.3" fill="none" stroke="#111" stroke-width="0.9"/>
<path d="M498.3,139.3V137.6H515.6V139.3" fill="none" stroke="#111" stroke-width="0.9"/>
<text x="506.95000000000005" y="134.8" font-size="7.9" text-anchor="middle" fill="#1a1a1a" >n.s.</text>
<path d="M459.8,268.8V270.6H481.9V268.8" fill="none" stroke="#111" stroke-width="0.9"/>
<path d="M486.7,268.8V270.6H508.7V268.8" fill="none" stroke="#111" stroke-width="0.9"/>
<text x="470.85" y="281.0" font-size="8.2" text-anchor="middle" fill="#1a1a1a" >Low</text>
<text x="497.7" y="281.0" font-size="8.2" text-anchor="middle" fill="#1a1a1a" >High</text>
<text x="342.5" y="281.0" font-size="8.2" text-anchor="start" fill="#1a1a1a" >St3gal3</text>
<text x="331.0" y="135.5" font-size="11.5" text-anchor="start" font-weight="bold" fill="#000" >C</text>
<text x="1.7" y="299.7" font-size="11.5" text-anchor="start" font-weight="bold" fill="#000" >D</text>
<text x="23.9" y="300.7" font-size="8.0" text-anchor="start" fill="#1a1a1a" >HM1 (s.c.)</text>
<line x1="18.2" y1="305.3" x2="23.0" y2="305.3" stroke="#e2452f" stroke-width="1.0"/>
<text x="23.9" y="307.0" font-size="8.0" text-anchor="start" fill="#1a1a1a" >shControl</text>
<line x1="18.2" y1="312.25" x2="23.0" y2="312.25" stroke="#3b2f2f" stroke-width="1.0"/>
<text x="23.9" y="313.95" font-size="8.0" text-anchor="start" fill="#1a1a1a" >shControl+Dual ICB</text>
<line x1="18.2" y1="319.2" x2="23.0" y2="319.2" stroke="#2e3192" stroke-width="1.0"/>
<text x="23.9" y="320.9" font-size="8.0" text-anchor="start" fill="#1a1a1a" >shSt3gal3 #1</text>
<line x1="18.2" y1="326.15000000000003" x2="23.0" y2="326.15000000000003" stroke="#4bb6d8" stroke-width="1.0"/>
<text x="23.9" y="327.85" font-size="8.0" text-anchor="start" fill="#1a1a1a" >shSt3gal3 #1 + Dual ICB</text>
<path d="M114.3,304.3H116.0V316.6H114.3" fill="none" stroke="#111" stroke-width="0.8"/>
<text x="117.6" y="312.3" font-size="7.8" fill="#1a1a1a"><tspan font-style="italic">P</tspan> &lt; 0.001</text>
<path d="M114.3,319.8H116.0V326.6H114.3" fill="none" stroke="#111" stroke-width="0.8"/>
<text x="117.6" y="327.2" font-size="7.8" fill="#1a1a1a"><tspan font-style="italic">P</tspan> &lt; 0.001</text>
<line x1="50.1" y1="333.91999999999996" x2="50.1" y2="419.34999999999997" stroke="#111" stroke-width="0.95"/>
<line x1="49.65" y1="419.4" x2="135.4" y2="419.4" stroke="#111" stroke-width="0.95"/>
<line x1="46.800000000000004" y1="418.9" x2="50.1" y2="418.9" stroke="#111" stroke-width="0.85"/>
<text x="46.1" y="421.59999999999997" font-size="7.9" text-anchor="end" fill="#1a1a1a" >0</text>
<line x1="46.800000000000004" y1="397.78" x2="50.1" y2="397.78" stroke="#111" stroke-width="0.85"/>
<text x="46.1" y="400.47999999999996" font-size="7.9" text-anchor="end" fill="#1a1a1a" >200</text>
<line x1="46.800000000000004" y1="376.65999999999997" x2="50.1" y2="376.65999999999997" stroke="#111" stroke-width="0.85"/>
<text x="46.1" y="379.35999999999996" font-size="7.9" text-anchor="end" fill="#1a1a1a" >400</text>
<line x1="46.800000000000004" y1="355.53999999999996" x2="50.1" y2="355.53999999999996" stroke="#111" stroke-width="0.85"/>
<text x="46.1" y="358.23999999999995" font-size="7.9" text-anchor="end" fill="#1a1a1a" >600</text>
<line x1="46.800000000000004" y1="334.41999999999996" x2="50.1" y2="334.41999999999996" stroke="#111" stroke-width="0.85"/>
<text x="46.1" y="337.11999999999995" font-size="7.9" text-anchor="end" fill="#1a1a1a" >800</text>
<line x1="50.1" y1="419.4" x2="50.1" y2="422.09999999999997" stroke="#111" stroke-width="0.85"/>
<text x="50.1" y="429.5" font-size="7.9" text-anchor="middle" fill="#1a1a1a" >0</text>
<line x1="77.47" y1="419.4" x2="77.47" y2="422.09999999999997" stroke="#111" stroke-width="0.85"/>
<text x="77.47" y="429.5" font-size="7.9" text-anchor="middle" fill="#1a1a1a" >7</text>
<line x1="104.84" y1="419.4" x2="104.84" y2="422.09999999999997" stroke="#111" stroke-width="0.85"/>
<text x="104.84" y="429.5" font-size="7.9" text-anchor="middle" fill="#1a1a1a" >14</text>
<line x1="132.21" y1="419.4" x2="132.21" y2="422.09999999999997" stroke="#111" stroke-width="0.85"/>
<text x="132.21" y="429.5" font-size="7.9" text-anchor="middle" fill="#1a1a1a" >21</text>
<text x="91.2" y="441.9" font-size="8.2" text-anchor="middle" fill="#1a1a1a" >Time (d)</text>
<text x="27.0" y="374.4" font-size="8.4" text-anchor="middle" fill="#1a1a1a" transform="rotate(-90 27.0 374.4)">Tumor volume (mm<tspan dy="-2.5" font-size="5.5">3</tspan><tspan dy="2.5">)</tspan></text>
<polyline points="50.10,418.90 61.83,416.58 69.65,411.51 85.29,401.48 100.93,378.77 116.57,366.10 132.21,359.24" fill="none" stroke="#e2452f" stroke-width="1.3" stroke-linejoin="miter"/>
<circle cx="50.10" cy="418.90" r="1.6" fill="#e2452f"/>
<path d="M61.83,415.73V417.42M60.03,415.73H63.63M60.03,417.42H63.63" stroke="#e2452f" stroke-width="0.9" fill="none"/>
<circle cx="61.83" cy="416.58" r="1.6" fill="#e2452f"/>
<path d="M69.65,408.87V414.15M67.85,408.87H71.45M67.85,414.15H71.45" stroke="#e2452f" stroke-width="0.9" fill="none"/>
<circle cx="69.65" cy="411.51" r="1.6" fill="#e2452f"/>
<path d="M85.29,399.89V403.06M83.49,399.89H87.09M83.49,403.06H87.09" stroke="#e2452f" stroke-width="0.9" fill="none"/>
<circle cx="85.29" cy="401.48" r="1.6" fill="#e2452f"/>
<path d="M100.93,375.08V382.47M99.13,375.08H102.73M99.13,382.47H102.73" stroke="#e2452f" stroke-width="0.9" fill="none"/>
<circle cx="100.93" cy="378.77" r="1.6" fill="#e2452f"/>
<path d="M116.57,361.35V370.85M114.77,361.35H118.37M114.77,370.85H118.37" stroke="#e2452f" stroke-width="0.9" fill="none"/>
<circle cx="116.57" cy="366.10" r="1.6" fill="#e2452f"/>
<path d="M132.21,353.43V365.04M130.41,353.43H134.01M130.41,365.04H134.01" stroke="#e2452f" stroke-width="0.9" fill="none"/>
<circle cx="132.21" cy="359.24" r="1.6" fill="#e2452f"/>
<polyline points="50.10,418.90 61.83,417.00 69.65,412.56 85.29,402.53 100.93,385.11 116.57,370.85 132.21,363.46" fill="none" stroke="#3b2f2f" stroke-width="1.3" stroke-linejoin="miter"/>
<circle cx="50.10" cy="418.90" r="1.6" fill="#3b2f2f"/>
<path d="M61.83,416.37V417.63M60.03,416.37H63.63M60.03,417.63H63.63" stroke="#3b2f2f" stroke-width="0.9" fill="none"/>
<circle cx="61.83" cy="417.00" r="1.6" fill="#3b2f2f"/>
<path d="M69.65,410.98V414.15M67.85,410.98H71.45M67.85,414.15H71.45" stroke="#3b2f2f" stroke-width="0.9" fill="none"/>
<circle cx="69.65" cy="412.56" r="1.6" fill="#3b2f2f"/>
<path d="M85.29,400.95V404.12M83.49,400.95H87.09M83.49,404.12H87.09" stroke="#3b2f2f" stroke-width="0.9" fill="none"/>
<circle cx="85.29" cy="402.53" r="1.6" fill="#3b2f2f"/>
<path d="M100.93,381.94V388.28M99.13,381.94H102.73M99.13,388.28H102.73" stroke="#3b2f2f" stroke-width="0.9" fill="none"/>
<circle cx="100.93" cy="385.11" r="1.6" fill="#3b2f2f"/>
<path d="M116.57,367.16V374.55M114.77,367.16H118.37M114.77,374.55H118.37" stroke="#3b2f2f" stroke-width="0.9" fill="none"/>
<circle cx="116.57" cy="370.85" r="1.6" fill="#3b2f2f"/>
<path d="M132.21,356.07V370.85M130.41,356.07H134.01M130.41,370.85H134.01" stroke="#3b2f2f" stroke-width="0.9" fill="none"/>
<circle cx="132.21" cy="363.46" r="1.6" fill="#3b2f2f"/>
<polyline points="50.10,418.90 61.83,417.63 69.65,414.15 85.29,408.34 100.93,399.36 116.57,393.56 132.21,388.28" fill="none" stroke="#2e3192" stroke-width="1.3" stroke-linejoin="miter"/>
<circle cx="50.10" cy="418.90" r="1.6" fill="#2e3192"/>
<path d="M61.83,417.10V418.16M60.03,417.10H63.63M60.03,418.16H63.63" stroke="#2e3192" stroke-width="0.9" fill="none"/>
<circle cx="61.83" cy="417.63" r="1.6" fill="#2e3192"/>
<path d="M69.65,413.09V415.20M67.85,413.09H71.45M67.85,415.20H71.45" stroke="#2e3192" stroke-width="0.9" fill="none"/>
<circle cx="69.65" cy="414.15" r="1.6" fill="#2e3192"/>
<path d="M85.29,406.76V409.92M83.49,406.76H87.09M83.49,409.92H87.09" stroke="#2e3192" stroke-width="0.9" fill="none"/>
<circle cx="85.29" cy="408.34" r="1.6" fill="#2e3192"/>
<path d="M100.93,396.20V402.53M99.13,396.20H102.73M99.13,402.53H102.73" stroke="#2e3192" stroke-width="0.9" fill="none"/>
<circle cx="100.93" cy="399.36" r="1.6" fill="#2e3192"/>
<path d="M116.57,389.33V397.78M114.77,389.33H118.37M114.77,397.78H118.37" stroke="#2e3192" stroke-width="0.9" fill="none"/>
<circle cx="116.57" cy="393.56" r="1.6" fill="#2e3192"/>
<path d="M132.21,383.52V393.03M130.41,383.52H134.01M130.41,393.03H134.01" stroke="#2e3192" stroke-width="0.9" fill="none"/>
<circle cx="132.21" cy="388.28" r="1.6" fill="#2e3192"/>
<polyline points="50.10,418.90 61.83,418.06 69.65,415.20 85.29,410.98 100.93,403.59 116.57,405.70 132.21,408.34" fill="none" stroke="#4bb6d8" stroke-width="1.3" stroke-linejoin="miter"/>
<circle cx="50.10" cy="418.90" r="1.6" fill="#4bb6d8"/>
<path d="M61.83,417.63V418.48M60.03,417.63H63.63M60.03,418.48H63.63" stroke="#4bb6d8" stroke-width="0.9" fill="none"/>
<circle cx="61.83" cy="418.06" r="1.6" fill="#4bb6d8"/>
<path d="M69.65,414.36V416.05M67.85,414.36H71.45M67.85,416.05H71.45" stroke="#4bb6d8" stroke-width="0.9" fill="none"/>
<circle cx="69.65" cy="415.20" r="1.6" fill="#4bb6d8"/>
<path d="M85.29,409.92V412.04M83.49,409.92H87.09M83.49,412.04H87.09" stroke="#4bb6d8" stroke-width="0.9" fill="none"/>
<circle cx="85.29" cy="410.98" r="1.6" fill="#4bb6d8"/>
<path d="M100.93,402.00V405.17M99.13,402.00H102.73M99.13,405.17H102.73" stroke="#4bb6d8" stroke-width="0.9" fill="none"/>
<circle cx="100.93" cy="403.59" r="1.6" fill="#4bb6d8"/>
<path d="M116.57,403.06V408.34M114.77,403.06H118.37M114.77,408.34H118.37" stroke="#4bb6d8" stroke-width="0.9" fill="none"/>
<circle cx="116.57" cy="405.70" r="1.6" fill="#4bb6d8"/>
<path d="M132.21,405.70V410.98M130.41,405.70H134.01M130.41,410.98H134.01" stroke="#4bb6d8" stroke-width="0.9" fill="none"/>
<circle cx="132.21" cy="408.34" r="1.6" fill="#4bb6d8"/>
<rect x="189.0" y="346.40" width="12.60" height="72.40" fill="#a3a3a3"/>
<rect x="208.1" y="352.50" width="12.80" height="66.30" fill="#a3a3a3"/>
<rect x="228.1" y="369.80" width="12.80" height="49.00" fill="#a3a3a3"/>
<rect x="247.8" y="400.50" width="12.60" height="18.30" fill="#a3a3a3"/>
<line x1="182.0" y1="333.7" x2="182.0" y2="419.25" stroke="#111" stroke-width="0.95"/>
<line x1="181.55" y1="419.3" x2="266.5" y2="419.3" stroke="#111" stroke-width="0.95"/>
<line x1="178.7" y1="418.8" x2="182.0" y2="418.8" stroke="#111" stroke-width="0.85"/>
<text x="178.0" y="421.5" font-size="7.9" text-anchor="end" fill="#1a1a1a" >0</text>
<line x1="178.7" y1="390.6" x2="182.0" y2="390.6" stroke="#111" stroke-width="0.85"/>
<text x="178.0" y="393.3" font-size="7.9" text-anchor="end" fill="#1a1a1a" >150</text>
<line x1="178.7" y1="362.4" x2="182.0" y2="362.4" stroke="#111" stroke-width="0.85"/>
<text x="178.0" y="365.09999999999997" font-size="7.9" text-anchor="end" fill="#1a1a1a" >300</text>
<line x1="178.7" y1="334.2" x2="182.0" y2="334.2" stroke="#111" stroke-width="0.85"/>
<text x="178.0" y="336.9" font-size="7.9" text-anchor="end" fill="#1a1a1a" >450</text>
<line x1="195.3" y1="419.3" x2="195.3" y2="422.0" stroke="#111" stroke-width="0.85"/>
<path d="M195.30,339.50V349.90M192.30,339.50H198.30M192.30,349.90H198.30" stroke="#111" stroke-width="1.25" fill="none"/>
<circle cx="195.20" cy="338.30" r="2.2" fill="none" stroke="#e2452f" stroke-width="1.0"/>
<circle cx="199.90" cy="342.50" r="2.2" fill="none" stroke="#e2452f" stroke-width="1.0"/>
<circle cx="190.70" cy="349.40" r="2.2" fill="none" stroke="#e2452f" stroke-width="1.0"/>
<circle cx="199.90" cy="349.40" r="2.2" fill="none" stroke="#e2452f" stroke-width="1.0"/>
<circle cx="195.20" cy="347.30" r="2.2" fill="none" stroke="#e2452f" stroke-width="1.0"/>
<line x1="214.5" y1="419.3" x2="214.5" y2="422.0" stroke="#111" stroke-width="0.85"/>
<path d="M214.50,348.20V355.60M211.50,348.20H217.50M211.50,355.60H217.50" stroke="#111" stroke-width="1.25" fill="none"/>
<circle cx="214.30" cy="346.40" r="2.2" fill="none" stroke="#3b2f2f" stroke-width="1.0"/>
<circle cx="209.80" cy="350.80" r="2.2" fill="none" stroke="#3b2f2f" stroke-width="1.0"/>
<circle cx="219.40" cy="352.80" r="2.2" fill="none" stroke="#3b2f2f" stroke-width="1.0"/>
<circle cx="210.30" cy="356.00" r="2.2" fill="none" stroke="#3b2f2f" stroke-width="1.0"/>
<circle cx="215.50" cy="354.20" r="2.2" fill="none" stroke="#3b2f2f" stroke-width="1.0"/>
<line x1="234.5" y1="419.3" x2="234.5" y2="422.0" stroke="#111" stroke-width="0.85"/>
<path d="M234.50,363.20V376.40M231.50,363.20H237.50M231.50,376.40H237.50" stroke="#111" stroke-width="1.25" fill="none"/>
<circle cx="234.00" cy="362.00" r="2.2" fill="none" stroke="#2e3192" stroke-width="1.0"/>
<circle cx="229.30" cy="366.00" r="2.2" fill="none" stroke="#2e3192" stroke-width="1.0"/>
<circle cx="234.50" cy="368.90" r="2.2" fill="none" stroke="#2e3192" stroke-width="1.0"/>
<circle cx="238.80" cy="375.30" r="2.2" fill="none" stroke="#2e3192" stroke-width="1.0"/>
<circle cx="229.30" cy="377.00" r="2.2" fill="none" stroke="#2e3192" stroke-width="1.0"/>
<line x1="254.1" y1="419.3" x2="254.1" y2="422.0" stroke="#111" stroke-width="0.85"/>
<path d="M254.10,396.60V403.50M251.10,396.60H257.10M251.10,403.50H257.10" stroke="#111" stroke-width="1.25" fill="none"/>
<circle cx="249.20" cy="398.30" r="2.2" fill="none" stroke="#4bb6d8" stroke-width="1.0"/>
<circle cx="253.50" cy="397.50" r="2.2" fill="none" stroke="#4bb6d8" stroke-width="1.0"/>
<circle cx="258.70" cy="400.00" r="2.2" fill="none" stroke="#4bb6d8" stroke-width="1.0"/>
<circle cx="250.90" cy="400.90" r="2.2" fill="none" stroke="#4bb6d8" stroke-width="1.0"/>
<circle cx="255.30" cy="402.70" r="2.2" fill="none" stroke="#4bb6d8" stroke-width="1.0"/>
<text x="163.5" y="378.2" font-size="8.3" text-anchor="middle" fill="#1a1a1a" transform="rotate(-90 163.5 378.2)">Tumor weight (mg)</text>
<text x="142.3" y="434.2" font-size="8.1" text-anchor="start" fill="#1a1a1a" >shControl</text>
<text x="195.3" y="434.2" font-size="8.4" text-anchor="middle" fill="#1a1a1a" >+</text>
<text x="214.6" y="434.2" font-size="8.4" text-anchor="middle" fill="#1a1a1a" >+</text>
<text x="234.5" y="434.2" font-size="8.4" text-anchor="middle" fill="#1a1a1a" >-</text>
<text x="254.1" y="434.2" font-size="8.4" text-anchor="middle" fill="#1a1a1a" >-</text>
<text x="142.3" y="443.4" font-size="8.1" text-anchor="start" fill="#1a1a1a" >shSt3gal3 #1</text>
<text x="195.3" y="443.4" font-size="8.4" text-anchor="middle" fill="#1a1a1a" >-</text>
<text x="214.6" y="443.4" font-size="8.4" text-anchor="middle" fill="#1a1a1a" >-</text>
<text x="234.5" y="443.4" font-size="8.4" text-anchor="middle" fill="#1a1a1a" >+</text>
<text x="254.1" y="443.4" font-size="8.4" text-anchor="middle" fill="#1a1a1a" >+</text>
<text x="142.3" y="452.59999999999997" font-size="8.1" text-anchor="start" fill="#1a1a1a" >Dual ICB</text>
<text x="195.3" y="452.59999999999997" font-size="8.4" text-anchor="middle" fill="#1a1a1a" >-</text>
<text x="214.6" y="452.59999999999997" font-size="8.4" text-anchor="middle" fill="#1a1a1a" >+</text>
<text x="234.5" y="452.59999999999997" font-size="8.4" text-anchor="middle" fill="#1a1a1a" >-</text>
<text x="254.1" y="452.59999999999997" font-size="8.4" text-anchor="middle" fill="#1a1a1a" >+</text>
<text x="193.3" y="319.3" font-size="7.8" fill="#1a1a1a"><tspan font-style="italic">P</tspan> &lt; 0.001</text>
<path d="M195.3,323.3V321.6H228.0V323.3" fill="none" stroke="#111" stroke-width="0.9"/>
<text x="204.5" y="329.3" font-size="7.9" text-anchor="middle" fill="#1a1a1a" >n.s.</text>
<path d="M195.3,332.8V331.1H215.0V332.8" fill="none" stroke="#111" stroke-width="0.9"/>
<text x="236.5" y="319.3" font-size="7.8" fill="#1a1a1a"><tspan font-style="italic">P</tspan> &lt; 0.001</text>
<path d="M241.0,323.3V321.6H254.5V323.3" fill="none" stroke="#111" stroke-width="0.9"/>
<text x="283.5" y="299.6" font-size="11.5" text-anchor="start" font-weight="bold" fill="#000" >E</text>
<text x="329.7" y="300.8" font-size="8.0" text-anchor="start" fill="#1a1a1a" >ID8agg (i.p.)</text>
<line x1="314.6" y1="306.1" x2="326.1" y2="306.1" stroke="#e2452f" stroke-width="1.0"/>
<line x1="320.35" y1="304.8" x2="320.35" y2="307.4" stroke="#e2452f" stroke-width="0.8"/>
<text x="329.7" y="308.0" font-size="8.0" fill="#1a1a1a">shControl (<tspan font-style="italic">n</tspan>&#8201;=&#8201;10)</text>
<line x1="314.6" y1="313.05" x2="326.1" y2="313.05" stroke="#3b2f2f" stroke-width="1.0"/>
<line x1="320.35" y1="311.75" x2="320.35" y2="314.34999999999997" stroke="#3b2f2f" stroke-width="0.8"/>
<text x="329.7" y="314.95" font-size="8.0" fill="#1a1a1a">shControl + Dual ICB (<tspan font-style="italic">n</tspan>&#8201;=&#8201;10)</text>
<line x1="314.6" y1="320.0" x2="326.1" y2="320.0" stroke="#2e3192" stroke-width="1.0"/>
<line x1="320.35" y1="318.7" x2="320.35" y2="321.29999999999995" stroke="#2e3192" stroke-width="0.8"/>
<text x="329.7" y="321.9" font-size="8.0" fill="#1a1a1a">shSt3gal3 #1 (<tspan font-style="italic">n</tspan>&#8201;=&#8201;10)</text>
<line x1="314.6" y1="326.95000000000005" x2="326.1" y2="326.95000000000005" stroke="#4bb6d8" stroke-width="1.0"/>
<line x1="320.35" y1="325.65000000000003" x2="320.35" y2="328.25" stroke="#4bb6d8" stroke-width="0.8"/>
<text x="329.7" y="328.85" font-size="8.0" fill="#1a1a1a">shSt3gal3 #1+ Dual ICB (<tspan font-style="italic">n</tspan>&#8201;=&#8201;10)</text>
<path d="M451.8,304.7H453.5V316.3H451.8" fill="none" stroke="#111" stroke-width="0.8"/>
<text x="455.5" y="313.0" font-size="7.8" fill="#1a1a1a"><tspan font-style="italic">P</tspan> = 0.009</text>
<path d="M451.8,318.6H453.5V326.9H451.8" fill="none" stroke="#111" stroke-width="0.8"/>
<text x="455.5" y="326.0" font-size="7.8" fill="#1a1a1a"><tspan font-style="italic">P</tspan> &lt; 0.001</text>
<line x1="315.0" y1="333.1" x2="315.0" y2="419.40000000000003" stroke="#111" stroke-width="0.95"/>
<line x1="314.55" y1="419.0" x2="442.0" y2="419.0" stroke="#111" stroke-width="0.95"/>
<line x1="311.7" y1="418.1" x2="315.0" y2="418.1" stroke="#111" stroke-width="0.85"/>
<text x="311.0" y="420.8" font-size="7.9" text-anchor="end" fill="#1a1a1a" >0</text>
<line x1="311.7" y1="396.975" x2="315.0" y2="396.975" stroke="#111" stroke-width="0.85"/>
<text x="311.0" y="399.675" font-size="7.9" text-anchor="end" fill="#1a1a1a" >25</text>
<line x1="311.7" y1="375.85" x2="315.0" y2="375.85" stroke="#111" stroke-width="0.85"/>
<text x="311.0" y="378.55" font-size="7.9" text-anchor="end" fill="#1a1a1a" >50</text>
<line x1="311.7" y1="354.725" x2="315.0" y2="354.725" stroke="#111" stroke-width="0.85"/>
<text x="311.0" y="357.425" font-size="7.9" text-anchor="end" fill="#1a1a1a" >75</text>
<line x1="311.7" y1="333.6" x2="315.0" y2="333.6" stroke="#111" stroke-width="0.85"/>
<text x="311.0" y="336.3" font-size="7.9" text-anchor="end" fill="#1a1a1a" >100</text>
<line x1="315.0" y1="419.0" x2="315.0" y2="421.70000000000005" stroke="#111" stroke-width="0.85"/>
<text x="315.0" y="429.6" font-size="7.9" text-anchor="middle" fill="#1a1a1a" >0</text>
<line x1="357.0" y1="419.0" x2="357.0" y2="421.70000000000005" stroke="#111" stroke-width="0.85"/>
<text x="357.0" y="429.6" font-size="7.9" text-anchor="middle" fill="#1a1a1a" >20</text>
<line x1="399.0" y1="419.0" x2="399.0" y2="421.70000000000005" stroke="#111" stroke-width="0.85"/>
<text x="399.0" y="429.6" font-size="7.9" text-anchor="middle" fill="#1a1a1a" >40</text>
<line x1="441.0" y1="419.0" x2="441.0" y2="421.70000000000005" stroke="#111" stroke-width="0.85"/>
<text x="441.0" y="429.6" font-size="7.9" text-anchor="middle" fill="#1a1a1a" >60</text>
<text x="376.8" y="441.0" font-size="7.8" text-anchor="middle" fill="#1a1a1a" >Days elapsed</text>
<text x="290.8" y="375.4" font-size="7.8" text-anchor="middle" fill="#1a1a1a" transform="rotate(-90 290.8 375.4)">Percentage of survival</text>
<polyline points="315.00,333.60 414.54,333.60 414.54,342.05 419.16,342.05 419.16,350.50 429.66,350.50 429.66,358.95 441.00,358.95" fill="none" stroke="#4bb6d8" stroke-width="1.1" stroke-linejoin="miter"/>
<polyline points="315.00,333.60 387.45,333.60 387.45,342.05 393.75,342.05 393.75,350.50 404.04,350.50 404.04,367.40 406.14,367.40 406.14,375.85 410.97,375.85 410.97,384.30 415.38,384.30 415.38,392.75 421.05,392.75 421.05,401.20 426.72,401.20 426.72,409.65 432.18,409.65 432.18,418.10" fill="none" stroke="#2e3192" stroke-width="1.1" stroke-linejoin="miter"/>
<polyline points="315.00,333.60 370.02,333.60 370.02,342.05 373.80,342.05 373.80,350.50 375.90,350.50 375.90,358.95 378.00,358.95 378.00,367.40 386.40,367.40 386.40,375.85 390.60,375.85 390.60,384.30 392.70,384.30 392.70,392.75 394.80,392.75 394.80,401.20 397.32,401.20 397.32,409.65 404.04,409.65 404.04,418.10" fill="none" stroke="#3b2f2f" stroke-width="1.1" stroke-linejoin="miter"/>
<polyline points="315.00,333.60 373.80,333.60 373.80,342.05 380.10,342.05 380.10,350.50 382.20,350.50 382.20,367.40 386.40,367.40 386.40,375.85 390.60,375.85 390.60,384.30 394.80,384.30 394.80,392.75 404.04,392.75 404.04,409.65 414.96,409.65 414.96,418.10" fill="none" stroke="#e2452f" stroke-width="1.1" stroke-linejoin="miter"/>
<text x="283.5" y="468.0" font-size="11.5" text-anchor="start" font-weight="bold" fill="#000" >G</text>
<text x="330.3" y="463.9" font-size="8.0" text-anchor="start" fill="#1a1a1a" >HM1 (i.p.)</text>
<line x1="314.6" y1="470.0" x2="326.1" y2="470.0" stroke="#e2452f" stroke-width="1.0"/>
<line x1="320.35" y1="468.7" x2="320.35" y2="471.29999999999995" stroke="#e2452f" stroke-width="0.8"/>
<text x="330.3" y="471.9" font-size="8.0" fill="#1a1a1a">Control (<tspan font-style="italic">n</tspan>&#8201;=&#8201;10)</text>
<line x1="314.6" y1="477.45" x2="326.1" y2="477.45" stroke="#3b2f2f" stroke-width="1.0"/>
<line x1="320.35" y1="476.15" x2="320.35" y2="478.74999999999994" stroke="#3b2f2f" stroke-width="0.8"/>
<text x="330.3" y="479.34999999999997" font-size="8.0" fill="#1a1a1a">Dual ICB (<tspan font-style="italic">n</tspan>&#8201;=&#8201;10)</text>
<line x1="314.6" y1="484.9" x2="326.1" y2="484.9" stroke="#2e3192" stroke-width="1.0"/>
<line x1="320.35" y1="483.59999999999997" x2="320.35" y2="486.19999999999993" stroke="#2e3192" stroke-width="0.8"/>
<text x="330.3" y="486.79999999999995" font-size="8.0" fill="#1a1a1a">Ambroxol (<tspan font-style="italic">n</tspan>&#8201;=&#8201;10)</text>
<line x1="314.6" y1="492.35" x2="326.1" y2="492.35" stroke="#4bb6d8" stroke-width="1.0"/>
<line x1="320.35" y1="491.05" x2="320.35" y2="493.65" stroke="#4bb6d8" stroke-width="0.8"/>
<text x="330.3" y="494.25" font-size="8.0" fill="#1a1a1a">Ambroxol+ Dual ICB (<tspan font-style="italic">n</tspan>&#8201;=&#8201;10)</text>
<path d="M435.0,469.4H436.7V480.0H435.0" fill="none" stroke="#111" stroke-width="0.8"/>
<text x="440.5" y="477.6" font-size="7.8" fill="#1a1a1a"><tspan font-style="italic">P</tspan> = 0.001</text>
<path d="M435.0,484.6H436.7V492.4H435.0" fill="none" stroke="#111" stroke-width="0.8"/>
<text x="440.5" y="490.6" font-size="7.8" fill="#1a1a1a"><tspan font-style="italic">P</tspan> &lt; 0.001</text>
<line x1="314.6" y1="500.2" x2="314.6" y2="586.3" stroke="#111" stroke-width="0.95"/>
<line x1="314.15000000000003" y1="585.9" x2="442.5" y2="585.9" stroke="#111" stroke-width="0.95"/>
<line x1="311.3" y1="585.0" x2="314.6" y2="585.0" stroke="#111" stroke-width="0.85"/>
<text x="310.6" y="587.7" font-size="7.9" text-anchor="end" fill="#1a1a1a" >0</text>
<line x1="311.3" y1="563.925" x2="314.6" y2="563.925" stroke="#111" stroke-width="0.85"/>
<text x="310.6" y="566.625" font-size="7.9" text-anchor="end" fill="#1a1a1a" >25</text>
<line x1="311.3" y1="542.85" x2="314.6" y2="542.85" stroke="#111" stroke-width="0.85"/>
<text x="310.6" y="545.5500000000001" font-size="7.9" text-anchor="end" fill="#1a1a1a" >50</text>
<line x1="311.3" y1="521.775" x2="314.6" y2="521.775" stroke="#111" stroke-width="0.85"/>
<text x="310.6" y="524.475" font-size="7.9" text-anchor="end" fill="#1a1a1a" >75</text>
<line x1="311.3" y1="500.7" x2="314.6" y2="500.7" stroke="#111" stroke-width="0.85"/>
<text x="310.6" y="503.4" font-size="7.9" text-anchor="end" fill="#1a1a1a" >100</text>
<line x1="314.8" y1="585.9" x2="314.8" y2="588.6" stroke="#111" stroke-width="0.85"/>
<text x="314.8" y="596.5" font-size="7.9" text-anchor="middle" fill="#1a1a1a" >0</text>
<line x1="357.3" y1="585.9" x2="357.3" y2="588.6" stroke="#111" stroke-width="0.85"/>
<text x="357.3" y="596.5" font-size="7.9" text-anchor="middle" fill="#1a1a1a" >20</text>
<line x1="399.8" y1="585.9" x2="399.8" y2="588.6" stroke="#111" stroke-width="0.85"/>
<text x="399.8" y="596.5" font-size="7.9" text-anchor="middle" fill="#1a1a1a" >40</text>
<line x1="442.3" y1="585.9" x2="442.3" y2="588.6" stroke="#111" stroke-width="0.85"/>
<text x="442.3" y="596.5" font-size="7.9" text-anchor="middle" fill="#1a1a1a" >60</text>
<text x="381.4" y="608.0" font-size="7.8" text-anchor="middle" fill="#1a1a1a" >Days elapsed</text>
<text x="290.8" y="542.5" font-size="7.8" text-anchor="middle" fill="#1a1a1a" transform="rotate(-90 290.8 542.5)">Percentage of survival</text>
<polyline points="314.80,500.70 401.93,500.70 401.93,509.13 412.34,509.13 412.34,517.56 418.93,517.56 418.93,525.99 423.81,525.99 423.81,534.42 429.12,534.42 429.12,542.85 438.05,542.85 438.05,551.28 442.30,551.28 442.30,559.71 442.30,559.71" fill="none" stroke="#4bb6d8" stroke-width="1.1" stroke-linejoin="miter"/>
<polyline points="314.80,500.70 370.69,500.70 370.69,509.13 373.02,509.13 373.02,517.56 376.85,517.56 376.85,525.99 381.74,525.99 381.74,534.42 385.56,534.42 385.56,542.85 388.11,542.85 388.11,551.28 397.25,551.28 397.25,559.71 404.26,559.71 404.26,568.14 410.43,568.14 410.43,576.57 418.93,576.57 418.93,585.00" fill="none" stroke="#2e3192" stroke-width="1.1" stroke-linejoin="miter"/>
<polyline points="314.80,500.70 359.00,500.70 359.00,509.13 363.46,509.13 363.46,517.56 365.80,517.56 365.80,525.99 367.29,525.99 367.29,534.42 369.41,534.42 369.41,542.85 370.48,542.85 370.48,551.28 372.18,551.28 372.18,559.71 373.02,559.71 373.02,568.14 395.34,568.14 395.34,576.57 401.93,576.57 401.93,585.00" fill="none" stroke="#3b2f2f" stroke-width="1.1" stroke-linejoin="miter"/>
<polyline points="314.80,500.70 357.51,500.70 357.51,509.13 359.64,509.13 359.64,517.56 363.25,517.56 363.25,525.99 365.16,525.99 365.16,534.42 368.99,534.42 368.99,542.85 369.84,542.85 369.84,551.28 371.11,551.28 371.11,559.71 375.79,559.71 375.79,568.14 380.04,568.14 380.04,576.57 384.29,576.57 384.29,585.00" fill="none" stroke="#e2452f" stroke-width="1.1" stroke-linejoin="miter"/>
<text x="4.3" y="467.5" font-size="11.5" text-anchor="start" font-weight="bold" fill="#000" >F</text>
<text x="26.5" y="464.2" font-size="8.0" text-anchor="start" fill="#1a1a1a" >HM1 (s.c.)</text>
<line x1="21.4" y1="470.7" x2="26.0" y2="470.7" stroke="#e2452f" stroke-width="1.0"/>
<text x="26.4" y="472.4" font-size="8.1" text-anchor="start" fill="#1a1a1a" >Control</text>
<line x1="21.4" y1="478.2" x2="26.0" y2="478.2" stroke="#3b2f2f" stroke-width="1.0"/>
<text x="26.4" y="479.9" font-size="8.1" text-anchor="start" fill="#1a1a1a" >Dual ICB</text>
<line x1="21.4" y1="485.7" x2="26.0" y2="485.7" stroke="#2e3192" stroke-width="1.0"/>
<text x="26.4" y="487.4" font-size="8.1" text-anchor="start" fill="#1a1a1a" >Ambroxol</text>
<line x1="21.4" y1="493.2" x2="26.0" y2="493.2" stroke="#4bb6d8" stroke-width="1.0"/>
<text x="26.4" y="494.9" font-size="8.1" text-anchor="start" fill="#1a1a1a" >Ambroxol + Dual ICB</text>
<path d="M103.5,469.5H105.2V481.9H103.5" fill="none" stroke="#111" stroke-width="0.8"/>
<text x="108.0" y="477.3" font-size="7.8" fill="#1a1a1a"><tspan font-style="italic">P</tspan> &lt; 0.001</text>
<path d="M103.5,485.3H105.2V491.7H103.5" fill="none" stroke="#111" stroke-width="0.8"/>
<text x="108.0" y="490.5" font-size="7.8" fill="#1a1a1a"><tspan font-style="italic">P</tspan> &lt; 0.001</text>
<line x1="54.8" y1="500.99999999999994" x2="54.8" y2="585.75" stroke="#111" stroke-width="0.95"/>
<line x1="54.349999999999994" y1="585.8" x2="141.2" y2="585.8" stroke="#111" stroke-width="0.95"/>
<line x1="51.0" y1="585.3" x2="54.8" y2="585.3" stroke="#111" stroke-width="0.85"/>
<text x="49.3" y="588.0" font-size="7.9" text-anchor="end" fill="#1a1a1a" >0</text>
<line x1="51.0" y1="564.3499999999999" x2="54.8" y2="564.3499999999999" stroke="#111" stroke-width="0.85"/>
<text x="49.3" y="567.05" font-size="7.9" text-anchor="end" fill="#1a1a1a" >500</text>
<line x1="51.0" y1="543.4" x2="54.8" y2="543.4" stroke="#111" stroke-width="0.85"/>
<text x="49.3" y="546.1" font-size="7.9" text-anchor="end" fill="#1a1a1a" >1,000</text>
<line x1="51.0" y1="522.4499999999999" x2="54.8" y2="522.4499999999999" stroke="#111" stroke-width="0.85"/>
<text x="49.3" y="525.15" font-size="7.9" text-anchor="end" fill="#1a1a1a" >1,500</text>
<line x1="51.0" y1="501.49999999999994" x2="54.8" y2="501.49999999999994" stroke="#111" stroke-width="0.85"/>
<text x="49.3" y="504.19999999999993" font-size="7.9" text-anchor="end" fill="#1a1a1a" >2,000</text>
<line x1="54.8" y1="585.8" x2="54.8" y2="588.5" stroke="#111" stroke-width="0.85"/>
<text x="54.8" y="595.5" font-size="7.9" text-anchor="middle" fill="#1a1a1a" >0</text>
<line x1="81.53999999999999" y1="585.8" x2="81.53999999999999" y2="588.5" stroke="#111" stroke-width="0.85"/>
<text x="81.53999999999999" y="595.5" font-size="7.9" text-anchor="middle" fill="#1a1a1a" >7</text>
<line x1="108.28" y1="585.8" x2="108.28" y2="588.5" stroke="#111" stroke-width="0.85"/>
<text x="108.28" y="595.5" font-size="7.9" text-anchor="middle" fill="#1a1a1a" >14</text>
<line x1="135.01999999999998" y1="585.8" x2="135.01999999999998" y2="588.5" stroke="#111" stroke-width="0.85"/>
<text x="135.01999999999998" y="595.5" font-size="7.9" text-anchor="middle" fill="#1a1a1a" >21</text>
<text x="92.1" y="606.8" font-size="8.2" text-anchor="middle" fill="#1a1a1a" >Time (d)</text>
<text x="24.6" y="542.6" font-size="8.4" text-anchor="middle" fill="#1a1a1a" transform="rotate(-90 24.6 542.6)">Tumor volume (mm<tspan dy="-2.5" font-size="5.5">3</tspan><tspan dy="2.5">)</tspan></text>
<polyline points="54.80,585.30 66.26,582.79 73.90,578.18 89.18,569.80 104.46,555.13 119.74,535.02 135.02,519.94" fill="none" stroke="#e2452f" stroke-width="1.3" stroke-linejoin="miter"/>
<circle cx="54.80" cy="585.30" r="1.6" fill="#e2452f"/>
<path d="M66.26,581.95V583.62M64.46,581.95H68.06M64.46,583.62H68.06" stroke="#e2452f" stroke-width="0.9" fill="none"/>
<circle cx="66.26" cy="582.79" r="1.6" fill="#e2452f"/>
<path d="M73.90,576.50V579.85M72.10,576.50H75.70M72.10,579.85H75.70" stroke="#e2452f" stroke-width="0.9" fill="none"/>
<circle cx="73.90" cy="578.18" r="1.6" fill="#e2452f"/>
<path d="M89.18,567.70V571.89M87.38,567.70H90.98M87.38,571.89H90.98" stroke="#e2452f" stroke-width="0.9" fill="none"/>
<circle cx="89.18" cy="569.80" r="1.6" fill="#e2452f"/>
<path d="M104.46,548.85V561.42M102.66,548.85H106.26M102.66,561.42H106.26" stroke="#e2452f" stroke-width="0.9" fill="none"/>
<circle cx="104.46" cy="555.13" r="1.6" fill="#e2452f"/>
<path d="M119.74,528.74V541.30M117.94,528.74H121.54M117.94,541.30H121.54" stroke="#e2452f" stroke-width="0.9" fill="none"/>
<circle cx="119.74" cy="535.02" r="1.6" fill="#e2452f"/>
<path d="M135.02,514.07V525.80M133.22,514.07H136.82M133.22,525.80H136.82" stroke="#e2452f" stroke-width="0.9" fill="none"/>
<circle cx="135.02" cy="519.94" r="1.6" fill="#e2452f"/>
<polyline points="54.80,585.30 66.26,583.20 73.90,579.01 89.18,570.63 104.46,558.06 119.74,540.05 135.02,526.64" fill="none" stroke="#3b2f2f" stroke-width="1.3" stroke-linejoin="miter"/>
<circle cx="54.80" cy="585.30" r="1.6" fill="#3b2f2f"/>
<path d="M66.26,582.58V583.83M64.46,582.58H68.06M64.46,583.83H68.06" stroke="#3b2f2f" stroke-width="0.9" fill="none"/>
<circle cx="66.26" cy="583.20" r="1.6" fill="#3b2f2f"/>
<path d="M73.90,577.76V580.27M72.10,577.76H75.70M72.10,580.27H75.70" stroke="#3b2f2f" stroke-width="0.9" fill="none"/>
<circle cx="73.90" cy="579.01" r="1.6" fill="#3b2f2f"/>
<path d="M89.18,568.96V572.31M87.38,568.96H90.98M87.38,572.31H90.98" stroke="#3b2f2f" stroke-width="0.9" fill="none"/>
<circle cx="89.18" cy="570.63" r="1.6" fill="#3b2f2f"/>
<path d="M104.46,553.04V563.09M102.66,553.04H106.26M102.66,563.09H106.26" stroke="#3b2f2f" stroke-width="0.9" fill="none"/>
<circle cx="104.46" cy="558.06" r="1.6" fill="#3b2f2f"/>
<path d="M119.74,533.76V546.33M117.94,533.76H121.54M117.94,546.33H121.54" stroke="#3b2f2f" stroke-width="0.9" fill="none"/>
<circle cx="119.74" cy="540.05" r="1.6" fill="#3b2f2f"/>
<path d="M135.02,520.36V532.92M133.22,520.36H136.82M133.22,532.92H136.82" stroke="#3b2f2f" stroke-width="0.9" fill="none"/>
<circle cx="135.02" cy="526.64" r="1.6" fill="#3b2f2f"/>
<polyline points="54.80,585.30 66.26,583.62 73.90,580.27 89.18,575.66 104.46,568.54 119.74,561.00 135.02,558.06" fill="none" stroke="#2e3192" stroke-width="1.3" stroke-linejoin="miter"/>
<circle cx="54.80" cy="585.30" r="1.6" fill="#2e3192"/>
<path d="M66.26,583.20V584.04M64.46,583.20H68.06M64.46,584.04H68.06" stroke="#2e3192" stroke-width="0.9" fill="none"/>
<circle cx="66.26" cy="583.62" r="1.6" fill="#2e3192"/>
<path d="M73.90,579.22V581.32M72.10,579.22H75.70M72.10,581.32H75.70" stroke="#2e3192" stroke-width="0.9" fill="none"/>
<circle cx="73.90" cy="580.27" r="1.6" fill="#2e3192"/>
<path d="M89.18,573.99V577.34M87.38,573.99H90.98M87.38,577.34H90.98" stroke="#2e3192" stroke-width="0.9" fill="none"/>
<circle cx="89.18" cy="575.66" r="1.6" fill="#2e3192"/>
<path d="M104.46,564.35V572.73M102.66,564.35H106.26M102.66,572.73H106.26" stroke="#2e3192" stroke-width="0.9" fill="none"/>
<circle cx="104.46" cy="568.54" r="1.6" fill="#2e3192"/>
<path d="M119.74,556.39V565.61M117.94,556.39H121.54M117.94,565.61H121.54" stroke="#2e3192" stroke-width="0.9" fill="none"/>
<circle cx="119.74" cy="561.00" r="1.6" fill="#2e3192"/>
<path d="M135.02,553.04V563.09M133.22,553.04H136.82M133.22,563.09H136.82" stroke="#2e3192" stroke-width="0.9" fill="none"/>
<circle cx="135.02" cy="558.06" r="1.6" fill="#2e3192"/>
<polyline points="54.80,585.30 66.26,584.46 73.90,582.79 89.18,579.85 104.46,576.92 119.74,573.15 135.02,569.38" fill="none" stroke="#4bb6d8" stroke-width="1.3" stroke-linejoin="miter"/>
<circle cx="54.80" cy="585.30" r="1.6" fill="#4bb6d8"/>
<path d="M66.26,584.13V584.80M64.46,584.13H68.06M64.46,584.80H68.06" stroke="#4bb6d8" stroke-width="0.9" fill="none"/>
<circle cx="66.26" cy="584.46" r="1.6" fill="#4bb6d8"/>
<path d="M73.90,582.16V583.41M72.10,582.16H75.70M72.10,583.41H75.70" stroke="#4bb6d8" stroke-width="0.9" fill="none"/>
<circle cx="73.90" cy="582.79" r="1.6" fill="#4bb6d8"/>
<path d="M89.18,578.81V580.90M87.38,578.81H90.98M87.38,580.90H90.98" stroke="#4bb6d8" stroke-width="0.9" fill="none"/>
<circle cx="89.18" cy="579.85" r="1.6" fill="#4bb6d8"/>
<path d="M104.46,574.82V579.01M102.66,574.82H106.26M102.66,579.01H106.26" stroke="#4bb6d8" stroke-width="0.9" fill="none"/>
<circle cx="104.46" cy="576.92" r="1.6" fill="#4bb6d8"/>
<path d="M119.74,571.47V574.83M117.94,571.47H121.54M117.94,574.83H121.54" stroke="#4bb6d8" stroke-width="0.9" fill="none"/>
<circle cx="119.74" cy="573.15" r="1.6" fill="#4bb6d8"/>
<path d="M135.02,567.28V571.47M133.22,567.28H136.82M133.22,571.47H136.82" stroke="#4bb6d8" stroke-width="0.9" fill="none"/>
<circle cx="135.02" cy="569.38" r="1.6" fill="#4bb6d8"/>
<rect x="196.9" y="520.00" width="12.90" height="64.40" fill="#a3a3a3"/>
<rect x="216.5" y="531.50" width="12.90" height="52.90" fill="#a3a3a3"/>
<rect x="236.2" y="547.00" width="12.60" height="37.40" fill="#a3a3a3"/>
<rect x="256.0" y="557.50" width="12.80" height="26.90" fill="#a3a3a3"/>
<line x1="187.7" y1="500.3" x2="187.7" y2="584.85" stroke="#111" stroke-width="0.95"/>
<line x1="187.25" y1="584.9" x2="276.2" y2="584.9" stroke="#111" stroke-width="0.95"/>
<line x1="184.39999999999998" y1="584.4" x2="187.7" y2="584.4" stroke="#111" stroke-width="0.85"/>
<text x="183.7" y="587.1" font-size="7.9" text-anchor="end" fill="#1a1a1a" >0</text>
<line x1="184.39999999999998" y1="556.5333333333333" x2="187.7" y2="556.5333333333333" stroke="#111" stroke-width="0.85"/>
<text x="183.7" y="559.2333333333333" font-size="7.9" text-anchor="end" fill="#1a1a1a" >400</text>
<line x1="184.39999999999998" y1="528.6666666666666" x2="187.7" y2="528.6666666666666" stroke="#111" stroke-width="0.85"/>
<text x="183.7" y="531.3666666666667" font-size="7.9" text-anchor="end" fill="#1a1a1a" >800</text>
<line x1="184.39999999999998" y1="500.8" x2="187.7" y2="500.8" stroke="#111" stroke-width="0.85"/>
<text x="183.7" y="503.5" font-size="7.9" text-anchor="end" fill="#1a1a1a" >1,200</text>
<line x1="203.35000000000002" y1="584.9" x2="203.35000000000002" y2="587.6" stroke="#111" stroke-width="0.85"/>
<path d="M203.35,512.30V525.80M200.35,512.30H206.35M200.35,525.80H206.35" stroke="#111" stroke-width="1.25" fill="none"/>
<circle cx="203.00" cy="509.40" r="2.2" fill="none" stroke="#e2452f" stroke-width="1.0"/>
<circle cx="198.80" cy="519.00" r="2.2" fill="none" stroke="#e2452f" stroke-width="1.0"/>
<circle cx="208.50" cy="520.00" r="2.2" fill="none" stroke="#e2452f" stroke-width="1.0"/>
<circle cx="203.00" cy="518.00" r="2.2" fill="none" stroke="#e2452f" stroke-width="1.0"/>
<circle cx="203.50" cy="528.70" r="2.2" fill="none" stroke="#e2452f" stroke-width="1.0"/>
<line x1="222.95" y1="584.9" x2="222.95" y2="587.6" stroke="#111" stroke-width="0.85"/>
<path d="M222.95,520.40V535.00M219.95,520.40H225.95M219.95,535.00H225.95" stroke="#111" stroke-width="1.25" fill="none"/>
<circle cx="223.30" cy="515.80" r="2.2" fill="none" stroke="#3b2f2f" stroke-width="1.0"/>
<circle cx="218.50" cy="528.10" r="2.2" fill="none" stroke="#3b2f2f" stroke-width="1.0"/>
<circle cx="227.10" cy="530.60" r="2.2" fill="none" stroke="#3b2f2f" stroke-width="1.0"/>
<circle cx="222.70" cy="530.60" r="2.2" fill="none" stroke="#3b2f2f" stroke-width="1.0"/>
<circle cx="218.50" cy="533.50" r="2.2" fill="none" stroke="#3b2f2f" stroke-width="1.0"/>
<line x1="242.5" y1="584.9" x2="242.5" y2="587.6" stroke="#111" stroke-width="0.85"/>
<path d="M242.50,543.00V550.80M239.50,543.00H245.50M239.50,550.80H245.50" stroke="#111" stroke-width="1.25" fill="none"/>
<circle cx="247.30" cy="541.20" r="2.2" fill="none" stroke="#2e3192" stroke-width="1.0"/>
<circle cx="237.70" cy="545.40" r="2.2" fill="none" stroke="#2e3192" stroke-width="1.0"/>
<circle cx="242.50" cy="547.00" r="2.2" fill="none" stroke="#2e3192" stroke-width="1.0"/>
<circle cx="246.30" cy="548.80" r="2.2" fill="none" stroke="#2e3192" stroke-width="1.0"/>
<circle cx="237.70" cy="550.80" r="2.2" fill="none" stroke="#2e3192" stroke-width="1.0"/>
<line x1="262.4" y1="584.9" x2="262.4" y2="587.6" stroke="#111" stroke-width="0.85"/>
<path d="M262.40,555.60V560.40M259.40,555.60H265.40M259.40,560.40H265.40" stroke="#111" stroke-width="1.25" fill="none"/>
<circle cx="257.90" cy="554.60" r="2.2" fill="none" stroke="#4bb6d8" stroke-width="1.0"/>
<circle cx="267.00" cy="556.90" r="2.2" fill="none" stroke="#4bb6d8" stroke-width="1.0"/>
<circle cx="262.70" cy="556.50" r="2.2" fill="none" stroke="#4bb6d8" stroke-width="1.0"/>
<circle cx="259.20" cy="559.40" r="2.2" fill="none" stroke="#4bb6d8" stroke-width="1.0"/>
<circle cx="264.60" cy="558.50" r="2.2" fill="none" stroke="#4bb6d8" stroke-width="1.0"/>
<text x="164.2" y="543.6" font-size="8.3" text-anchor="middle" fill="#1a1a1a" transform="rotate(-90 164.2 543.6)">Tumor weight (mg)</text>
<text x="155.9" y="599.5" font-size="8.3" text-anchor="start" fill="#1a1a1a" >Dual ICB</text>
<text x="203.4" y="599.5" font-size="8.4" text-anchor="middle" fill="#1a1a1a" >-</text>
<text x="223.0" y="599.5" font-size="8.4" text-anchor="middle" fill="#1a1a1a" >+</text>
<text x="242.5" y="599.5" font-size="8.4" text-anchor="middle" fill="#1a1a1a" >-</text>
<text x="262.4" y="599.5" font-size="8.4" text-anchor="middle" fill="#1a1a1a" >+</text>
<text x="155.9" y="610.5" font-size="8.3" text-anchor="start" fill="#1a1a1a" >Ambroxol</text>
<text x="203.4" y="610.5" font-size="8.4" text-anchor="middle" fill="#1a1a1a" >-</text>
<text x="223.0" y="610.5" font-size="8.4" text-anchor="middle" fill="#1a1a1a" >-</text>
<text x="242.5" y="610.5" font-size="8.4" text-anchor="middle" fill="#1a1a1a" >+</text>
<text x="262.4" y="610.5" font-size="8.4" text-anchor="middle" fill="#1a1a1a" >+</text>
<text x="202.0" y="483.3" font-size="7.8" fill="#1a1a1a"><tspan font-style="italic">P</tspan> &lt; 0.001</text>
<path d="M203.4,486.9V485.2H236.5V486.9" fill="none" stroke="#111" stroke-width="0.9"/>
<text x="212.4" y="492.8" font-size="7.9" text-anchor="middle" fill="#1a1a1a" >n.s.</text>
<path d="M203.4,497.8V496.1H223.0V497.8" fill="none" stroke="#111" stroke-width="0.9"/>
<text x="240.9" y="483.3" font-size="7.8" fill="#1a1a1a"><tspan font-style="italic">P</tspan> = 0.022</text>
<path d="M248.5,486.9V485.2H262.4V486.9" fill="none" stroke="#111" stroke-width="0.9"/></svg></body></html>
